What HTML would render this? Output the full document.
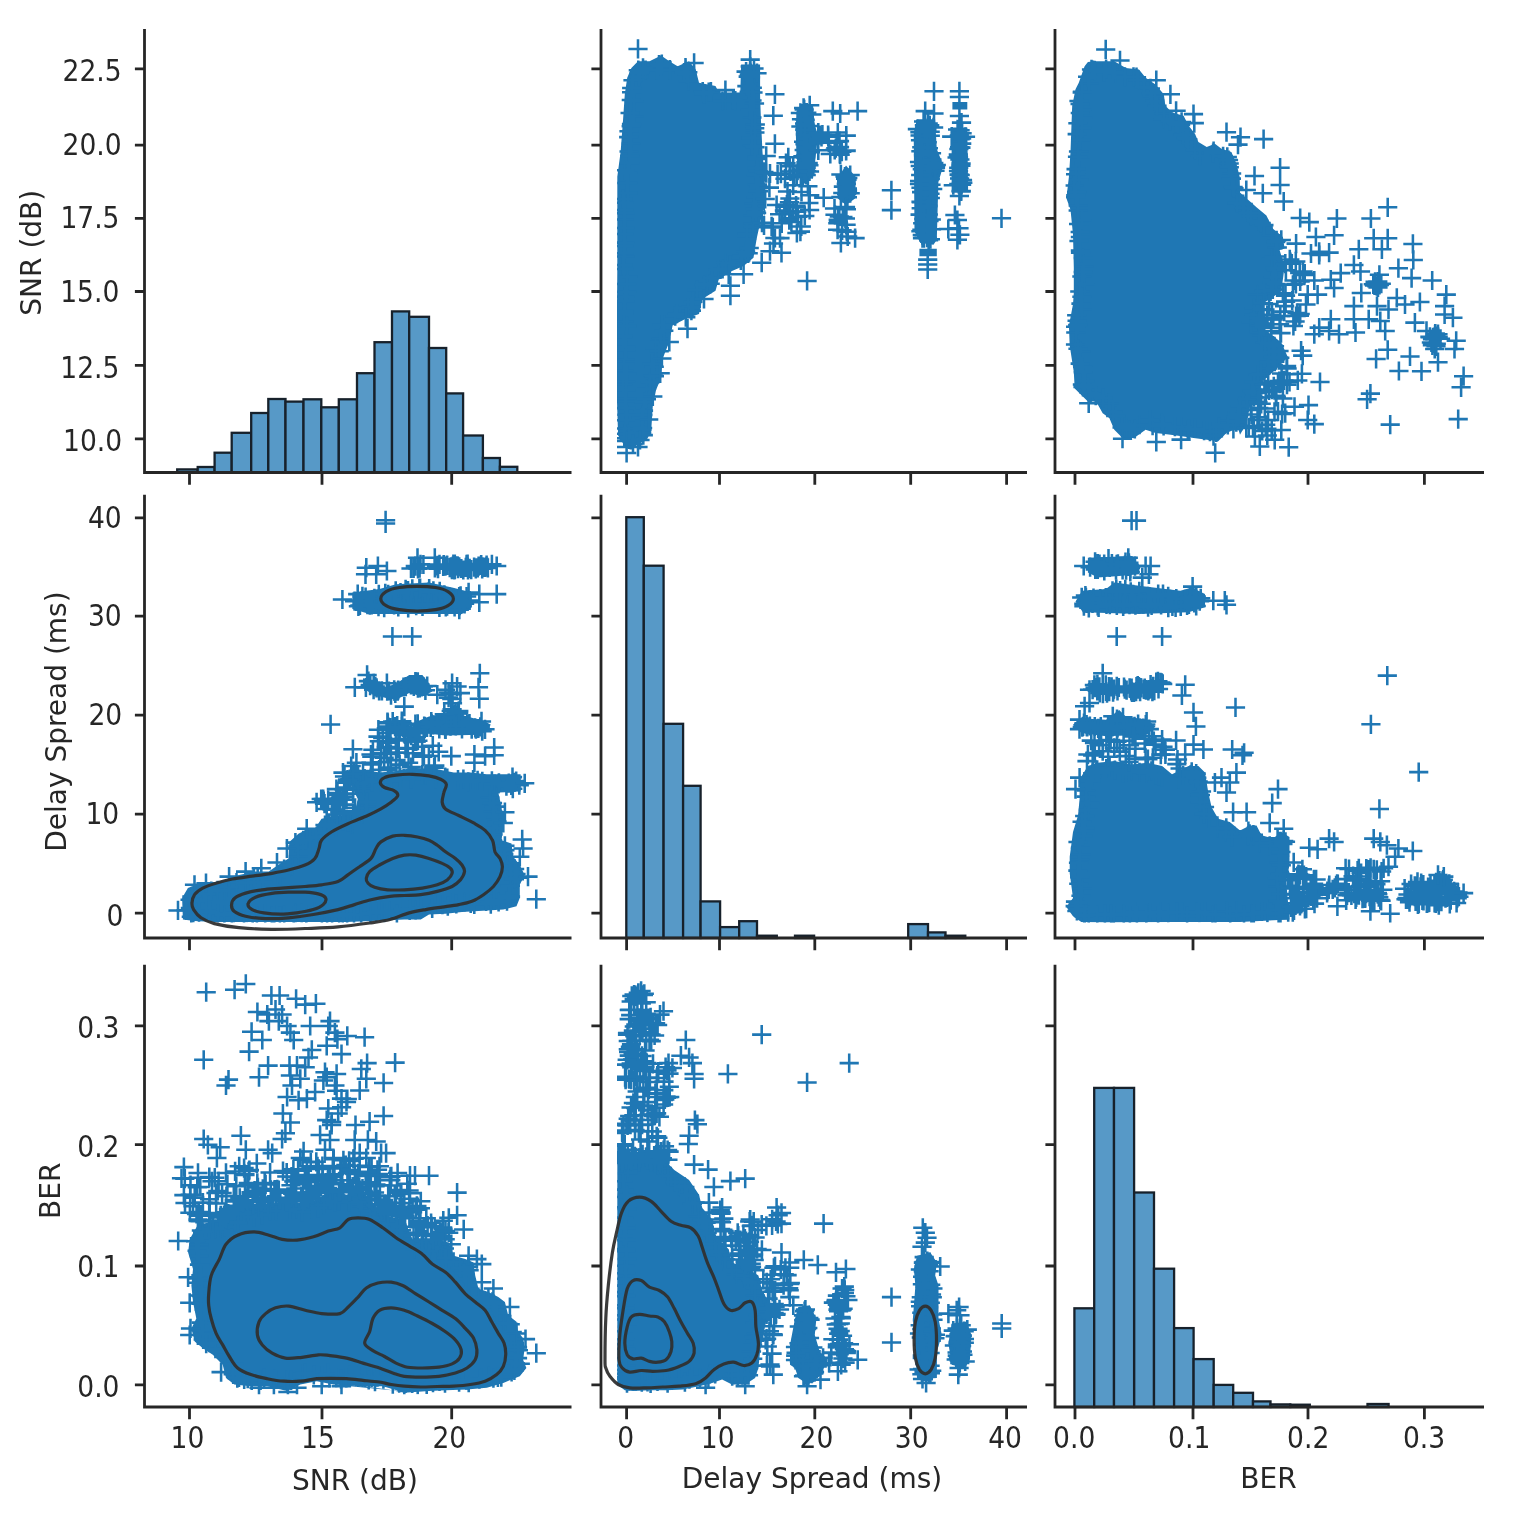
<!DOCTYPE html>
<html lang="en"><head><meta charset="utf-8"><title>Pairplot: SNR, Delay Spread, BER</title>
<style>
html,body{margin:0;padding:0;background:#fff;}
body{width:1517px;height:1515px;overflow:hidden;}
svg{display:block;filter:blur(0.6px);}
svg text{font-family:"DejaVu Sans","Liberation Sans",sans-serif;font-size:28px;fill:#262626;}
svg text.t{font-family:"DejaVu Sans Condensed","DejaVu Sans","Liberation Sans",sans-serif;font-size:29.5px;}
</style></head><body>
<svg width="1517" height="1515" viewBox="0 0 1517 1515">
<rect width="1517" height="1515" fill="#fff"/>
<g>
<rect x="177.2" y="469.4" width="20.5" height="3.1" fill="#5799c7" stroke="#17212b" stroke-width="2.3"/>
<rect x="197.7" y="467.0" width="16.9" height="5.5" fill="#5799c7" stroke="#17212b" stroke-width="2.3"/>
<rect x="214.6" y="452.7" width="17.1" height="19.8" fill="#5799c7" stroke="#17212b" stroke-width="2.3"/>
<rect x="231.7" y="432.8" width="19.5" height="39.7" fill="#5799c7" stroke="#17212b" stroke-width="2.3"/>
<rect x="251.2" y="413.0" width="17.1" height="59.5" fill="#5799c7" stroke="#17212b" stroke-width="2.3"/>
<rect x="268.3" y="399.0" width="17.2" height="73.5" fill="#5799c7" stroke="#17212b" stroke-width="2.3"/>
<rect x="285.5" y="401.6" width="18.0" height="70.9" fill="#5799c7" stroke="#17212b" stroke-width="2.3"/>
<rect x="303.5" y="399.3" width="17.8" height="73.2" fill="#5799c7" stroke="#17212b" stroke-width="2.3"/>
<rect x="321.3" y="407.3" width="17.5" height="65.2" fill="#5799c7" stroke="#17212b" stroke-width="2.3"/>
<rect x="338.8" y="399.3" width="18.2" height="73.2" fill="#5799c7" stroke="#17212b" stroke-width="2.3"/>
<rect x="357.0" y="373.2" width="17.5" height="99.3" fill="#5799c7" stroke="#17212b" stroke-width="2.3"/>
<rect x="374.5" y="342.2" width="17.5" height="130.3" fill="#5799c7" stroke="#17212b" stroke-width="2.3"/>
<rect x="392.0" y="311.4" width="17.2" height="161.1" fill="#5799c7" stroke="#17212b" stroke-width="2.3"/>
<rect x="409.2" y="316.8" width="19.8" height="155.7" fill="#5799c7" stroke="#17212b" stroke-width="2.3"/>
<rect x="429.0" y="348.0" width="17.2" height="124.5" fill="#5799c7" stroke="#17212b" stroke-width="2.3"/>
<rect x="446.2" y="393.4" width="16.9" height="79.1" fill="#5799c7" stroke="#17212b" stroke-width="2.3"/>
<rect x="463.1" y="435.5" width="19.8" height="37.0" fill="#5799c7" stroke="#17212b" stroke-width="2.3"/>
<rect x="482.9" y="458.0" width="17.0" height="14.5" fill="#5799c7" stroke="#17212b" stroke-width="2.3"/>
<rect x="499.9" y="466.8" width="17.4" height="5.7" fill="#5799c7" stroke="#17212b" stroke-width="2.3"/>
</g>
<g>
<rect x="626.3" y="517.2" width="17.5" height="420.8" fill="#5799c7" stroke="#17212b" stroke-width="2.3"/>
<rect x="643.8" y="565.7" width="19.8" height="372.3" fill="#5799c7" stroke="#17212b" stroke-width="2.3"/>
<rect x="663.6" y="723.8" width="19.5" height="214.2" fill="#5799c7" stroke="#17212b" stroke-width="2.3"/>
<rect x="683.1" y="785.8" width="17.5" height="152.2" fill="#5799c7" stroke="#17212b" stroke-width="2.3"/>
<rect x="700.6" y="901.4" width="19.5" height="36.6" fill="#5799c7" stroke="#17212b" stroke-width="2.3"/>
<rect x="720.1" y="927.1" width="19.1" height="10.9" fill="#5799c7" stroke="#17212b" stroke-width="2.3"/>
<rect x="739.2" y="921.2" width="17.8" height="16.8" fill="#5799c7" stroke="#17212b" stroke-width="2.3"/>
<rect x="757.0" y="935.7" width="19.8" height="2.3" fill="#5799c7" stroke="#17212b" stroke-width="2.3"/>
<rect x="795.0" y="935.7" width="19.1" height="2.3" fill="#5799c7" stroke="#17212b" stroke-width="2.3"/>
<rect x="908.2" y="924.1" width="19.8" height="13.9" fill="#5799c7" stroke="#17212b" stroke-width="2.3"/>
<rect x="928.0" y="932.4" width="17.5" height="5.6" fill="#5799c7" stroke="#17212b" stroke-width="2.3"/>
<rect x="945.5" y="935.7" width="19.8" height="2.3" fill="#5799c7" stroke="#17212b" stroke-width="2.3"/>
</g>
<g>
<rect x="1074.4" y="1308.3" width="19.8" height="98.7" fill="#5799c7" stroke="#17212b" stroke-width="2.3"/>
<rect x="1094.2" y="1087.9" width="19.8" height="319.1" fill="#5799c7" stroke="#17212b" stroke-width="2.3"/>
<rect x="1114.0" y="1087.9" width="20.1" height="319.1" fill="#5799c7" stroke="#17212b" stroke-width="2.3"/>
<rect x="1134.2" y="1192.5" width="19.8" height="214.5" fill="#5799c7" stroke="#17212b" stroke-width="2.3"/>
<rect x="1154.0" y="1268.7" width="20.1" height="138.3" fill="#5799c7" stroke="#17212b" stroke-width="2.3"/>
<rect x="1174.1" y="1328.1" width="19.5" height="78.9" fill="#5799c7" stroke="#17212b" stroke-width="2.3"/>
<rect x="1193.6" y="1359.1" width="20.1" height="47.9" fill="#5799c7" stroke="#17212b" stroke-width="2.3"/>
<rect x="1213.7" y="1384.9" width="19.5" height="22.1" fill="#5799c7" stroke="#17212b" stroke-width="2.3"/>
<rect x="1233.2" y="1392.8" width="19.8" height="14.2" fill="#5799c7" stroke="#17212b" stroke-width="2.3"/>
<rect x="1253.0" y="1401.4" width="17.5" height="5.6" fill="#5799c7" stroke="#17212b" stroke-width="2.3"/>
<rect x="1270.5" y="1404.4" width="19.8" height="2.6" fill="#5799c7" stroke="#17212b" stroke-width="2.3"/>
<rect x="1290.3" y="1404.7" width="19.5" height="2.3" fill="#5799c7" stroke="#17212b" stroke-width="2.3"/>
<rect x="1367.5" y="1404.0" width="21.1" height="3.0" fill="#5799c7" stroke="#17212b" stroke-width="2.3"/>
</g>
<clipPath id="cp01"><rect x="617.0" y="-2.0" width="440.0" height="504.5"/></clipPath>
<g clip-path="url(#cp01)">
<path d="M617.3 267.5L617.3 176.8L620.6 152.0L623.1 119.0L624.8 94.3L627.2 77.8L631.4 67.9L638.0 61.3L649.5 61.3L661.1 55.5L669.3 61.3L677.6 66.2L689.1 61.3L695.7 69.5L699.0 82.7L715.5 86.0L718.8 92.6L740.3 92.6L741.1 64.6L760.1 64.6L760.1 95.9L760.9 119.0L762.5 152.0L765.0 185.0L765.0 218.0L763.4 208.3L756.8 238.0L753.5 257.8L743.6 266.0L732.0 271.0L718.8 279.2L715.5 290.8L702.3 299.0L699.0 313.9L685.8 318.8L672.6 325.4L669.3 341.9L662.7 358.4L661.1 378.2L656.1 389.8L652.8 406.3L651.2 431.0L646.2 440.9L646.5 440.6L635.9 443.9L626.0 448.2L618.1 435.6L616.8 396.0L616.8 330.0Z" fill="#1f77b4" stroke="#1f77b4" stroke-width="0" stroke-linejoin="round"/>
<path d="M613.5 265.0h19.2M623.1 255.4v19.2M615.0 256.5h19.2M624.6 246.9v19.2M614.4 253.2h19.2M624.0 243.6v19.2M614.3 245.9h19.2M623.9 236.3v19.2M615.7 242.6h19.2M625.3 233.0v19.2M614.3 233.9h19.2M623.9 224.3v19.2M615.3 227.9h19.2M624.9 218.3v19.2M613.9 219.4h19.2M623.5 209.8v19.2M615.6 213.2h19.2M625.2 203.6v19.2M614.2 210.0h19.2M623.8 200.4v19.2M614.4 202.7h19.2M624.0 193.1v19.2M613.5 198.9h19.2M623.1 189.3v19.2M618.5 192.9h19.2M628.1 183.3v19.2M617.3 182.9h19.2M626.9 173.3v19.2M618.3 182.8h19.2M627.9 173.2v19.2M618.1 172.7h19.2M627.7 163.1v19.2M614.9 170.3h19.2M624.5 160.7v19.2M619.9 163.2h19.2M629.5 153.6v19.2M620.1 155.9h19.2M629.7 146.3v19.2M619.5 151.4h19.2M629.1 141.8v19.2M621.7 143.4h19.2M631.3 133.8v19.2M619.1 137.1h19.2M628.7 127.5v19.2M619.4 131.2h19.2M629.0 121.6v19.2M621.6 126.2h19.2M631.2 116.6v19.2M621.9 124.1h19.2M631.5 114.5v19.2M624.4 116.5h19.2M634.0 106.9v19.2M620.5 113.0h19.2M630.1 103.4v19.2M624.7 101.2h19.2M634.3 91.6v19.2M621.7 100.0h19.2M631.3 90.4v19.2M622.0 92.3h19.2M631.6 82.7v19.2M622.1 87.9h19.2M631.7 78.3v19.2M623.4 80.2h19.2M633.0 70.6v19.2M629.4 76.9h19.2M639.0 67.3v19.2M630.3 72.6h19.2M639.9 63.0v19.2M629.5 73.2h19.2M639.1 63.6v19.2M633.4 67.8h19.2M643.0 58.2v19.2M628.7 70.2h19.2M638.3 60.6v19.2M636.0 70.1h19.2M645.6 60.5v19.2M647.1 69.6h19.2M656.7 60.0v19.2M651.2 66.5h19.2M660.8 56.9v19.2M649.4 64.5h19.2M659.0 54.9v19.2M652.2 64.0h19.2M661.8 54.4v19.2M660.1 69.6h19.2M669.7 60.0v19.2M660.8 70.3h19.2M670.4 60.7v19.2M674.4 72.6h19.2M684.0 63.0v19.2M676.0 69.0h19.2M685.6 59.4v19.2M675.9 67.5h19.2M685.5 57.9v19.2M677.1 74.0h19.2M686.7 64.4v19.2M678.2 72.2h19.2M687.8 62.6v19.2M678.9 81.2h19.2M688.5 71.6v19.2M693.1 91.5h19.2M702.7 81.9v19.2M694.2 94.1h19.2M703.8 84.5v19.2M699.1 92.2h19.2M708.7 82.6v19.2M701.3 91.6h19.2M710.9 82.0v19.2M712.9 101.0h19.2M722.5 91.4v19.2M715.9 100.5h19.2M725.5 90.9v19.2M723.6 100.0h19.2M733.2 90.4v19.2M725.7 100.7h19.2M735.3 91.1v19.2M739.6 91.8h19.2M749.2 82.2v19.2M737.3 86.1h19.2M746.9 76.5v19.2M738.6 76.6h19.2M748.2 67.0v19.2M739.7 74.4h19.2M749.3 64.8v19.2M740.6 66.5h19.2M750.2 56.9v19.2M736.5 71.6h19.2M746.1 62.0v19.2M740.5 72.1h19.2M750.1 62.5v19.2M747.4 73.2h19.2M757.0 63.6v19.2M744.4 68.5h19.2M754.0 58.9v19.2M741.1 73.2h19.2M750.7 63.6v19.2M740.9 77.3h19.2M750.5 67.7v19.2M742.7 87.7h19.2M752.3 78.1v19.2M743.4 92.5h19.2M753.0 82.9v19.2M742.4 100.5h19.2M752.0 90.9v19.2M744.9 103.4h19.2M754.5 93.8v19.2M740.5 109.8h19.2M750.1 100.2v19.2M742.3 117.5h19.2M751.9 107.9v19.2M745.7 124.4h19.2M755.3 114.8v19.2M745.1 128.2h19.2M754.7 118.6v19.2M745.3 132.5h19.2M754.9 122.9v19.2M741.8 138.0h19.2M751.4 128.4v19.2M742.5 145.5h19.2M752.1 135.9v19.2M745.4 147.3h19.2M755.0 137.7v19.2M747.4 156.8h19.2M757.0 147.2v19.2M747.3 159.0h19.2M756.9 149.4v19.2M747.2 168.0h19.2M756.8 158.4v19.2M748.6 171.3h19.2M758.2 161.7v19.2M746.3 175.3h19.2M755.9 165.7v19.2M747.9 184.4h19.2M757.5 174.8v19.2M749.5 186.8h19.2M759.1 177.2v19.2M748.9 191.1h19.2M758.5 181.5v19.2M746.8 197.2h19.2M756.4 187.6v19.2M744.6 203.5h19.2M754.2 193.9v19.2M745.3 208.6h19.2M754.9 199.0v19.2M747.0 213.0h19.2M756.6 203.4v19.2M746.4 211.5h19.2M756.0 201.9v19.2M743.2 215.4h19.2M752.8 205.8v19.2M743.7 223.4h19.2M753.3 213.8v19.2M743.6 227.3h19.2M753.2 217.7v19.2M737.6 233.7h19.2M747.2 224.1v19.2M737.0 238.7h19.2M746.6 229.1v19.2M739.6 247.9h19.2M749.2 238.3v19.2M738.6 253.3h19.2M748.2 243.7v19.2M736.0 251.5h19.2M745.6 241.9v19.2M732.8 255.8h19.2M742.4 246.2v19.2M731.2 260.4h19.2M740.8 250.8v19.2M720.2 265.1h19.2M729.8 255.5v19.2M716.0 262.5h19.2M725.6 252.9v19.2M713.0 268.8h19.2M722.6 259.2v19.2M708.8 269.7h19.2M718.4 260.1v19.2M702.5 277.7h19.2M712.1 268.1v19.2M698.0 283.6h19.2M707.6 274.0v19.2M700.6 283.8h19.2M710.2 274.2v19.2M694.7 285.0h19.2M704.3 275.4v19.2M687.2 290.1h19.2M696.8 280.5v19.2M683.3 301.6h19.2M692.9 292.0v19.2M681.8 306.6h19.2M691.4 297.0v19.2M681.1 307.6h19.2M690.7 298.0v19.2M681.8 310.6h19.2M691.4 301.0v19.2M678.1 307.7h19.2M687.7 298.1v19.2M667.3 313.6h19.2M676.9 304.0v19.2M665.6 316.2h19.2M675.2 306.6v19.2M652.2 324.6h19.2M661.8 315.0v19.2M654.2 330.7h19.2M663.8 321.1v19.2M651.1 338.4h19.2M660.7 328.8v19.2M650.0 341.6h19.2M659.6 332.0v19.2M645.9 348.3h19.2M655.5 338.7v19.2M649.6 351.3h19.2M659.2 341.7v19.2M642.2 363.6h19.2M651.8 354.0v19.2M644.6 366.8h19.2M654.2 357.2v19.2M643.8 375.5h19.2M653.4 365.9v19.2M644.8 376.1h19.2M654.4 366.5v19.2M640.3 382.3h19.2M649.9 372.7v19.2M637.0 388.8h19.2M646.6 379.2v19.2M636.8 399.1h19.2M646.4 389.5v19.2M634.8 402.1h19.2M644.4 392.5v19.2M633.9 410.6h19.2M643.5 401.0v19.2M633.2 415.0h19.2M642.8 405.4v19.2M631.8 418.1h19.2M641.4 408.5v19.2M632.3 429.8h19.2M641.9 420.2v19.2M633.0 428.0h19.2M642.6 418.4v19.2M632.1 432.6h19.2M641.7 423.0v19.2M633.7 435.1h19.2M643.3 425.5v19.2M625.3 436.9h19.2M634.9 427.3v19.2M621.2 439.8h19.2M630.8 430.2v19.2M614.7 438.3h19.2M624.3 428.7v19.2M619.6 439.3h19.2M629.2 429.7v19.2M619.4 436.4h19.2M629.0 426.8v19.2M615.6 433.7h19.2M625.2 424.1v19.2M616.0 428.5h19.2M625.6 418.9v19.2M615.8 420.2h19.2M625.4 410.6v19.2M617.3 414.7h19.2M626.9 405.1v19.2M616.2 408.1h19.2M625.8 398.5v19.2M615.7 401.5h19.2M625.3 391.9v19.2M616.4 398.4h19.2M626.0 388.8v19.2M616.5 390.2h19.2M626.1 380.6v19.2M613.7 384.5h19.2M623.3 374.9v19.2M616.5 381.5h19.2M626.1 371.9v19.2M617.2 373.6h19.2M626.8 364.0v19.2M614.5 370.4h19.2M624.1 360.8v19.2M614.9 363.6h19.2M624.5 354.0v19.2M614.9 359.5h19.2M624.5 349.9v19.2M616.7 350.2h19.2M626.3 340.6v19.2M616.1 346.7h19.2M625.7 337.1v19.2M613.7 337.5h19.2M623.3 327.9v19.2M613.7 335.9h19.2M623.3 326.3v19.2M617.7 325.9h19.2M627.3 316.3v19.2M614.6 321.4h19.2M624.2 311.8v19.2M614.7 313.7h19.2M624.3 304.1v19.2M614.3 311.1h19.2M623.9 301.5v19.2M615.5 301.3h19.2M625.1 291.7v19.2M615.2 296.7h19.2M624.8 287.1v19.2M617.2 291.8h19.2M626.8 282.2v19.2M616.9 284.0h19.2M626.5 274.4v19.2M618.0 276.6h19.2M627.6 267.0v19.2M614.1 268.9h19.2M623.7 259.3v19.2" fill="none" stroke="#1f77b4" stroke-width="2.55"/>
<path d="M628.4 48.9h19.2M638.0 39.3v19.2M684.5 62.9h19.2M694.1 53.3v19.2M740.6 59.6h19.2M750.2 50.0v19.2M765.3 94.3h19.2M774.9 84.7v19.2M763.7 115.7h19.2M773.3 106.1v19.2M765.3 143.8h19.2M774.9 134.2v19.2M760.4 173.5h19.2M770.0 163.9v19.2M715.8 90.1h19.2M725.4 80.5v19.2" fill="none" stroke="#1f77b4" stroke-width="2.55"/>
<path d="M791.2 176.8h19.2M800.8 167.2v19.2M777.3 204.7h19.2M786.9 195.1v19.2M795.2 215.9h19.2M804.8 206.3v19.2M798.3 186.3h19.2M807.9 176.7v19.2M754.3 171.9h19.2M763.9 162.3v19.2M787.3 233.0h19.2M796.9 223.4v19.2M752.4 222.7h19.2M762.0 213.1v19.2M781.8 222.0h19.2M791.4 212.4v19.2M755.6 199.0h19.2M765.2 189.4v19.2M784.8 177.3h19.2M794.4 167.7v19.2M754.4 225.5h19.2M764.0 215.9v19.2M786.5 205.7h19.2M796.1 196.1v19.2M756.7 173.1h19.2M766.3 163.5v19.2M763.9 243.5h19.2M773.5 233.9v19.2M793.3 177.0h19.2M802.9 167.4v19.2M756.6 155.9h19.2M766.2 146.3v19.2M770.0 214.2h19.2M779.6 204.6v19.2M786.6 207.4h19.2M796.2 197.8v19.2M776.4 163.2h19.2M786.0 153.6v19.2M790.8 231.6h19.2M800.4 222.0v19.2M768.0 174.7h19.2M777.6 165.1v19.2M759.8 187.6h19.2M769.4 178.0v19.2M775.3 211.2h19.2M784.9 201.6v19.2M780.1 166.2h19.2M789.7 156.6v19.2M787.2 211.6h19.2M796.8 202.0v19.2M763.2 227.4h19.2M772.8 217.8v19.2M777.9 191.5h19.2M787.5 181.9v19.2M771.3 173.7h19.2M780.9 164.1v19.2" fill="none" stroke="#1f77b4" stroke-width="2.55"/>
<path d="M797.5 280.9h19.2M807.1 271.3v19.2M720.8 295.7h19.2M730.4 286.1v19.2M720.8 285.8h19.2M730.4 276.2v19.2M719.1 274.3h19.2M728.7 264.7v19.2M734.0 274.3h19.2M743.6 264.7v19.2M752.1 262.7h19.2M761.7 253.1v19.2M760.4 251.2h19.2M770.0 241.6v19.2M771.9 252.8h19.2M781.5 243.2v19.2M765.3 238.0h19.2M774.9 228.4v19.2M762.0 226.4h19.2M771.6 216.8v19.2M791.7 226.4h19.2M801.3 216.8v19.2M780.2 213.2h19.2M789.8 203.6v19.2M767.0 205.0h19.2M776.6 195.4v19.2M800.0 209.9h19.2M809.6 200.3v19.2M677.9 328.7h19.2M687.5 319.1v19.2M676.2 317.2h19.2M685.8 307.6v19.2M694.4 299.0h19.2M704.0 289.4v19.2M659.7 341.9h19.2M669.3 332.3v19.2M652.3 358.4h19.2M661.9 348.8v19.2M650.6 373.3h19.2M660.2 363.7v19.2M643.2 396.4h19.2M652.8 386.8v19.2M831.3 242.9h19.2M840.9 233.3v19.2M828.0 229.7h19.2M837.6 220.1v19.2M829.7 216.5h19.2M839.3 206.9v19.2M639.1 419.5h19.2M648.7 409.9v19.2" fill="none" stroke="#1f77b4" stroke-width="2.55"/>
<path d="M991.9 218.3h19.2M1001.5 208.7v19.2M881.8 190.3h19.2M891.4 180.7v19.2M881.8 210.1h19.2M891.4 200.5v19.2M924.4 91.3h19.2M934.0 81.7v19.2M949.8 91.3h19.2M959.4 81.7v19.2M949.8 97.0h19.2M959.4 87.4v19.2M848.0 111.1h19.2M857.6 101.5v19.2M823.2 111.1h19.2M832.8 101.5v19.2M830.6 113.5h19.2M840.2 103.9v19.2M800.1 105.3h19.2M809.7 95.7v19.2M918.1 264.5h19.2M927.7 254.9v19.2M918.1 269.5h19.2M927.7 259.9v19.2M918.1 259.6h19.2M927.7 250.0v19.2M915.6 111.1h19.2M925.2 101.5v19.2M924.4 113.5h19.2M934.0 103.9v19.2M949.8 116.0h19.2M959.4 106.4v19.2M951.9 122.6h19.2M961.5 113.0v19.2M949.8 196.0h19.2M959.4 186.4v19.2M947.8 220.0h19.2M957.4 210.4v19.2M949.4 228.2h19.2M959.0 218.6v19.2M947.8 239.8h19.2M957.4 230.2v19.2M938.7 229.0h19.2M948.3 219.4v19.2M945.3 215.0h19.2M954.9 205.4v19.2M950.3 234.8h19.2M959.9 225.2v19.2M824.9 208.4h19.2M834.5 198.8v19.2M828.2 223.3h19.2M837.8 213.7v19.2M838.1 236.5h19.2M847.7 226.9v19.2M845.5 238.1h19.2M855.1 228.5v19.2M828.2 132.5h19.2M837.8 122.9v19.2M778.7 157.3h19.2M788.3 147.7v19.2M783.6 165.5h19.2M793.2 155.9v19.2M775.4 178.7h19.2M785.0 169.1v19.2M783.6 185.3h19.2M793.2 175.7v19.2M791.9 191.9h19.2M801.5 182.3v19.2M800.1 195.2h19.2M809.7 185.6v19.2M780.3 198.5h19.2M789.9 188.9v19.2M775.4 206.8h19.2M785.0 197.2v19.2M783.6 211.7h19.2M793.2 202.1v19.2M780.3 218.3h19.2M789.9 208.7v19.2M772.1 223.3h19.2M781.7 213.7v19.2M814.1 197.7h19.2M823.7 188.1v19.2M770.4 238.1h19.2M780.0 228.5v19.2" fill="none" stroke="#1f77b4" stroke-width="2.55"/>
<path d="M917.0 119.3L935.1 119.3L936.8 149.0L943.4 165.5L938.4 182.0L936.8 239.8L933.5 244.7L920.3 243.1L914.5 231.5L913.7 132.5Z" fill="#1f77b4" stroke="#1f77b4" stroke-width="0" stroke-linejoin="round"/>
<path d="M907.8 129.1h19.2M917.4 119.5v19.2M914.8 125.2h19.2M924.4 115.6v19.2M920.1 125.3h19.2M929.7 115.7v19.2M924.0 127.4h19.2M933.6 117.8v19.2M918.6 123.6h19.2M928.2 114.0v19.2M917.3 129.5h19.2M926.9 119.9v19.2M920.6 131.7h19.2M930.2 122.1v19.2M920.7 135.8h19.2M930.3 126.2v19.2M917.6 142.2h19.2M927.2 132.6v19.2M918.8 148.2h19.2M928.4 138.6v19.2M921.9 153.2h19.2M931.5 143.6v19.2M922.3 159.6h19.2M931.9 150.0v19.2M924.2 162.9h19.2M933.8 153.3v19.2M925.9 167.6h19.2M935.5 158.0v19.2M926.7 165.0h19.2M936.3 155.4v19.2M925.4 170.8h19.2M935.0 161.2v19.2M920.7 179.0h19.2M930.3 169.4v19.2M921.4 184.8h19.2M931.0 175.2v19.2M923.1 189.0h19.2M932.7 179.4v19.2M920.4 193.7h19.2M930.0 184.1v19.2M920.7 197.9h19.2M930.3 188.3v19.2M918.4 205.8h19.2M928.0 196.2v19.2M918.2 206.2h19.2M927.8 196.6v19.2M918.7 214.5h19.2M928.3 204.9v19.2M921.7 219.4h19.2M931.3 209.8v19.2M919.4 220.9h19.2M929.0 211.3v19.2M921.9 229.2h19.2M931.5 219.6v19.2M917.5 229.9h19.2M927.1 220.3v19.2M920.8 239.2h19.2M930.4 229.6v19.2M919.0 240.2h19.2M928.6 230.6v19.2M920.8 239.2h19.2M930.4 229.6v19.2M917.6 237.7h19.2M927.2 228.1v19.2M912.9 238.2h19.2M922.5 228.6v19.2M914.4 238.1h19.2M924.0 228.5v19.2M912.7 235.1h19.2M922.3 225.5v19.2M911.3 231.3h19.2M920.9 221.7v19.2M912.3 229.8h19.2M921.9 220.2v19.2M913.1 223.2h19.2M922.7 213.6v19.2M914.2 218.9h19.2M923.8 209.3v19.2M910.5 214.6h19.2M920.1 205.0v19.2M911.6 208.3h19.2M921.2 198.7v19.2M911.7 202.1h19.2M921.3 192.5v19.2M911.4 201.7h19.2M921.0 192.1v19.2M912.0 192.1h19.2M921.6 182.5v19.2M911.4 187.8h19.2M921.0 178.2v19.2M909.9 183.9h19.2M919.5 174.3v19.2M910.0 181.0h19.2M919.6 171.4v19.2M911.1 175.0h19.2M920.7 165.4v19.2M912.7 169.3h19.2M922.3 159.7v19.2M910.7 165.9h19.2M920.3 156.3v19.2M909.9 162.0h19.2M919.5 152.4v19.2M913.9 155.3h19.2M923.5 145.7v19.2M911.3 151.3h19.2M920.9 141.7v19.2M912.2 147.2h19.2M921.8 137.6v19.2M910.9 140.3h19.2M920.5 130.7v19.2M910.5 135.5h19.2M920.1 125.9v19.2M910.3 132.2h19.2M919.9 122.6v19.2M915.5 127.4h19.2M925.1 117.8v19.2M914.0 121.4h19.2M923.6 111.8v19.2" fill="none" stroke="#1f77b4" stroke-width="2.55"/>
<path d="M919.4 248.8L936.8 248.8L936.8 256.3L919.4 256.3Z" fill="#1f77b4" stroke="#1f77b4" stroke-width="0" stroke-linejoin="round"/>
<path d="M952.4 102.0L967.3 102.0L967.3 109.4L952.4 109.4Z" fill="#1f77b4" stroke="#1f77b4" stroke-width="0" stroke-linejoin="round"/>
<path d="M951.6 127.6L967.3 127.6L968.1 191.9L951.6 191.9Z" fill="#1f77b4" stroke="#1f77b4" stroke-width="0" stroke-linejoin="round"/>
<path d="M942.1 136.6h19.2M951.7 127.0v19.2M949.7 135.4h19.2M959.3 125.8v19.2M955.9 136.8h19.2M965.5 127.2v19.2M950.5 130.2h19.2M960.1 120.6v19.2M952.5 133.2h19.2M962.1 123.6v19.2M952.0 138.4h19.2M961.6 128.8v19.2M950.0 147.2h19.2M959.6 137.6v19.2M951.3 147.6h19.2M960.9 138.0v19.2M948.7 154.5h19.2M958.3 144.9v19.2M950.3 159.4h19.2M959.9 149.8v19.2M951.5 163.6h19.2M961.1 154.0v19.2M949.1 167.7h19.2M958.7 158.1v19.2M949.5 174.6h19.2M959.1 165.0v19.2M952.9 180.0h19.2M962.5 170.4v19.2M951.7 183.4h19.2M961.3 173.8v19.2M951.7 190.9h19.2M961.3 181.3v19.2M953.2 182.8h19.2M962.8 173.2v19.2M949.2 184.1h19.2M958.8 174.5v19.2M943.7 185.2h19.2M953.3 175.6v19.2M951.5 191.4h19.2M961.1 181.8v19.2M952.0 184.7h19.2M961.6 175.1v19.2M950.0 178.4h19.2M959.6 168.8v19.2M950.6 174.9h19.2M960.2 165.3v19.2M948.9 170.9h19.2M958.5 161.3v19.2M951.3 165.6h19.2M960.9 156.0v19.2M947.5 157.5h19.2M957.1 147.9v19.2M948.9 157.1h19.2M958.5 147.5v19.2M949.3 148.9h19.2M958.9 139.3v19.2M952.1 143.6h19.2M961.7 134.0v19.2M950.5 139.1h19.2M960.1 129.5v19.2M950.1 136.8h19.2M959.7 127.2v19.2M948.0 129.4h19.2M957.6 119.8v19.2" fill="none" stroke="#1f77b4" stroke-width="2.55"/>
<path d="M801.5 104.5L813.0 106.1L814.7 124.3L818.0 135.8L814.7 165.5L813.0 178.7L799.8 177.1L796.5 157.3L795.7 129.2L796.5 111.1Z" fill="#1f77b4" stroke="#1f77b4" stroke-width="0" stroke-linejoin="round"/>
<path d="M790.8 112.9h19.2M800.4 103.3v19.2M802.2 114.4h19.2M811.8 104.8v19.2M794.0 107.9h19.2M803.6 98.3v19.2M797.2 112.7h19.2M806.8 103.1v19.2M795.5 119.7h19.2M805.1 110.1v19.2M795.5 124.8h19.2M805.1 115.2v19.2M799.1 126.0h19.2M808.7 116.4v19.2M801.7 135.1h19.2M811.3 125.5v19.2M799.1 139.0h19.2M808.7 129.4v19.2M797.5 143.4h19.2M807.1 133.8v19.2M796.9 148.1h19.2M806.5 138.5v19.2M800.8 152.3h19.2M810.4 142.7v19.2M796.0 157.1h19.2M805.6 147.5v19.2M798.6 162.9h19.2M808.2 153.3v19.2M799.3 165.2h19.2M808.9 155.6v19.2M795.8 169.4h19.2M805.4 159.8v19.2M796.6 174.9h19.2M806.2 165.3v19.2M799.9 171.5h19.2M809.5 161.9v19.2M797.0 171.0h19.2M806.6 161.4v19.2M793.8 170.2h19.2M803.4 160.6v19.2M795.4 173.9h19.2M805.0 164.3v19.2M796.6 167.6h19.2M806.2 158.0v19.2M798.4 165.0h19.2M808.0 155.4v19.2M793.3 156.3h19.2M802.9 146.7v19.2M795.9 155.4h19.2M805.5 145.8v19.2M794.6 150.0h19.2M804.2 140.4v19.2M795.4 144.1h19.2M805.0 134.5v19.2M794.0 141.8h19.2M803.6 132.2v19.2M795.8 134.5h19.2M805.4 124.9v19.2M795.2 129.6h19.2M804.8 120.0v19.2M791.3 126.5h19.2M800.9 116.9v19.2M795.0 123.4h19.2M804.6 113.8v19.2M791.9 119.3h19.2M801.5 109.7v19.2M795.8 113.3h19.2M805.4 103.7v19.2M796.4 113.0h19.2M806.0 103.4v19.2M794.6 109.4h19.2M804.2 99.8v19.2" fill="none" stroke="#1f77b4" stroke-width="2.55"/>
<path d="M846.0 165.5L855.9 177.1L855.1 198.5L846.0 205.1L837.8 198.5L836.9 178.7Z" fill="#1f77b4" stroke="#1f77b4" stroke-width="0" stroke-linejoin="round"/>
<path d="M831.3 174.4h19.2M840.9 164.8v19.2M835.4 176.5h19.2M845.0 166.9v19.2M838.2 177.9h19.2M847.8 168.3v19.2M837.0 179.9h19.2M846.6 170.3v19.2M836.7 183.8h19.2M846.3 174.2v19.2M837.9 190.6h19.2M847.5 181.0v19.2M837.0 193.9h19.2M846.6 184.3v19.2M840.6 193.2h19.2M850.2 183.6v19.2M831.3 197.0h19.2M840.9 187.4v19.2M836.3 197.3h19.2M845.9 187.7v19.2M833.2 193.0h19.2M842.8 183.4v19.2M837.8 197.3h19.2M847.4 187.7v19.2M837.8 188.4h19.2M847.4 178.8v19.2M833.8 186.6h19.2M843.4 177.0v19.2M836.0 178.7h19.2M845.6 169.1v19.2M837.4 179.6h19.2M847.0 170.0v19.2M840.6 175.0h19.2M850.2 165.4v19.2" fill="none" stroke="#1f77b4" stroke-width="2.55"/>
<path d="M826.2 148.2h19.2M835.8 138.6v19.2M808.7 139.3h19.2M818.3 129.7v19.2M818.7 136.8h19.2M828.3 127.2v19.2M811.9 136.8h19.2M821.5 127.2v19.2M836.7 135.6h19.2M846.3 126.0v19.2M808.7 150.3h19.2M818.3 140.7v19.2M812.8 134.7h19.2M822.4 125.1v19.2M827.1 141.7h19.2M836.7 132.1v19.2M830.6 154.7h19.2M840.2 145.1v19.2M810.2 135.1h19.2M819.8 125.5v19.2M825.1 149.9h19.2M834.7 140.3v19.2M836.5 150.9h19.2M846.1 141.3v19.2M829.9 147.1h19.2M839.5 137.5v19.2M829.9 141.1h19.2M839.5 131.5v19.2M830.2 154.0h19.2M839.8 144.4v19.2M836.6 150.6h19.2M846.2 141.0v19.2M819.2 142.7h19.2M828.8 133.1v19.2M818.5 135.1h19.2M828.1 125.5v19.2M820.7 154.0h19.2M830.3 144.4v19.2M808.6 141.7h19.2M818.2 132.1v19.2M832.2 151.6h19.2M841.8 142.0v19.2M808.7 132.6h19.2M818.3 123.0v19.2" fill="none" stroke="#1f77b4" stroke-width="2.55"/>
<path d="M828.6 219.7h19.2M838.2 210.1v19.2M833.3 217.0h19.2M842.9 207.4v19.2M835.9 206.9h19.2M845.5 197.3v19.2M832.5 230.3h19.2M842.1 220.7v19.2M836.5 224.8h19.2M846.1 215.2v19.2M836.8 209.3h19.2M846.4 199.7v19.2M825.4 214.8h19.2M835.0 205.2v19.2M835.8 218.5h19.2M845.4 208.9v19.2M828.8 221.7h19.2M838.4 212.1v19.2M837.3 231.7h19.2M846.9 222.1v19.2" fill="none" stroke="#1f77b4" stroke-width="2.55"/>
<path d="M774.8 210.5h19.2M784.4 200.9v19.2M779.8 202.2h19.2M789.4 192.6v19.2M799.3 203.0h19.2M808.9 193.4v19.2M788.0 170.7h19.2M797.6 161.1v19.2M788.3 216.7h19.2M797.9 207.1v19.2M787.2 174.7h19.2M796.8 165.1v19.2M779.7 220.1h19.2M789.3 210.5v19.2M780.9 171.4h19.2M790.5 161.8v19.2" fill="none" stroke="#1f77b4" stroke-width="2.55"/>
<path d="M617.0 441.0h19.2M626.6 431.4v19.2M617.0 447.0h19.2M626.6 437.4v19.2M617.0 453.0h19.2M626.6 443.4v19.2M623.4 444.0h19.2M633.0 434.4v19.2M628.4 447.0h19.2M638.0 437.4v19.2M630.4 440.0h19.2M640.0 430.4v19.2" fill="none" stroke="#1f77b4" stroke-width="2.55"/>
</g>
<clipPath id="cp02"><rect x="1065.6" y="-2.0" width="448.4" height="504.5"/></clipPath>
<g clip-path="url(#cp02)">
<path d="M1073.8 267.5L1073.0 234.5L1070.5 209.8L1066.4 198.2L1068.9 176.8L1070.5 152.0L1071.4 127.3L1072.2 105.8L1075.5 89.3L1078.8 82.7L1084.6 66.2L1087.9 62.1L1094.5 61.3L1106.0 61.3L1114.3 61.3L1125.8 67.9L1139.0 69.5L1145.6 77.8L1155.5 84.4L1163.8 94.3L1165.4 105.8L1172.0 112.4L1183.6 115.7L1188.5 125.6L1195.1 133.9L1198.4 142.1L1206.7 147.1L1214.9 143.8L1221.5 148.7L1231.4 152.0L1236.4 163.6L1239.7 176.8L1240.0 192.4L1256.5 207.3L1266.4 215.5L1273.0 228.7L1282.9 237.0L1284.6 248.5L1279.6 250.0L1284.6 266.5L1281.3 291.3L1261.5 304.5L1258.2 324.3L1281.3 342.4L1287.9 357.3L1273.0 372.1L1261.5 382.0L1259.8 398.5L1249.9 406.8L1246.6 423.3L1240.0 434.8L1238.0 428.0L1226.5 433.0L1218.2 441.2L1205.0 439.6L1193.5 437.9L1181.9 436.3L1168.7 434.6L1155.5 433.0L1145.6 429.7L1134.1 437.9L1122.5 437.9L1114.3 429.7L1109.3 418.1L1102.7 413.2L1096.1 401.6L1087.9 401.6L1081.3 395.0L1074.7 388.4L1073.8 371.9L1069.7 345.5L1068.9 325.7L1073.0 304.3L1073.8 292.7Z" fill="#1f77b4" stroke="#1f77b4" stroke-width="0" stroke-linejoin="round"/>
<path d="M1074.1 266.5h19.2M1083.7 256.9v19.2M1073.8 257.9h19.2M1083.4 248.3v19.2M1070.9 252.8h19.2M1080.5 243.2v19.2M1070.8 250.4h19.2M1080.4 240.8v19.2M1069.4 241.0h19.2M1079.0 231.4v19.2M1070.8 236.9h19.2M1080.4 227.3v19.2M1070.6 232.0h19.2M1080.2 222.4v19.2M1069.0 224.0h19.2M1078.6 214.4v19.2M1072.1 220.2h19.2M1081.7 210.6v19.2M1068.6 210.5h19.2M1078.2 200.9v19.2M1068.6 205.4h19.2M1078.2 195.8v19.2M1066.2 195.3h19.2M1075.8 185.7v19.2M1066.0 196.9h19.2M1075.6 187.3v19.2M1067.0 192.0h19.2M1076.6 182.4v19.2M1064.2 185.4h19.2M1073.8 175.8v19.2M1069.2 179.7h19.2M1078.8 170.1v19.2M1066.0 174.2h19.2M1075.6 164.6v19.2M1066.5 169.1h19.2M1076.1 159.5v19.2M1070.0 159.8h19.2M1079.6 150.2v19.2M1067.9 156.8h19.2M1077.5 147.2v19.2M1068.9 151.5h19.2M1078.5 141.9v19.2M1071.0 140.1h19.2M1080.6 130.5v19.2M1067.6 134.1h19.2M1077.2 124.5v19.2M1072.2 128.1h19.2M1081.8 118.5v19.2M1068.3 123.2h19.2M1077.9 113.6v19.2M1072.9 117.7h19.2M1082.5 108.1v19.2M1070.7 112.9h19.2M1080.3 103.3v19.2M1072.7 109.7h19.2M1082.3 100.1v19.2M1070.5 104.0h19.2M1080.1 94.4v19.2M1069.4 101.0h19.2M1079.0 91.4v19.2M1072.6 92.4h19.2M1082.2 82.8v19.2M1072.8 91.7h19.2M1082.4 82.1v19.2M1079.6 83.5h19.2M1089.2 73.9v19.2M1078.0 76.7h19.2M1087.6 67.1v19.2M1083.3 70.2h19.2M1092.9 60.6v19.2M1084.9 70.4h19.2M1094.5 60.8v19.2M1081.9 69.4h19.2M1091.5 59.8v19.2M1085.2 70.6h19.2M1094.8 61.0v19.2M1094.2 71.9h19.2M1103.8 62.3v19.2M1096.5 69.1h19.2M1106.1 59.5v19.2M1103.3 69.5h19.2M1112.9 59.9v19.2M1105.8 73.3h19.2M1115.4 63.7v19.2M1115.4 76.8h19.2M1125.0 67.2v19.2M1123.9 76.8h19.2M1133.5 67.2v19.2M1126.9 77.2h19.2M1136.5 67.6v19.2M1128.9 80.2h19.2M1138.5 70.6v19.2M1134.3 86.9h19.2M1143.9 77.3v19.2M1140.8 88.4h19.2M1150.4 78.8v19.2M1141.5 93.3h19.2M1151.1 83.7v19.2M1142.1 96.5h19.2M1151.7 86.9v19.2M1145.1 100.6h19.2M1154.7 91.0v19.2M1147.4 105.7h19.2M1157.0 96.1v19.2M1154.2 113.4h19.2M1163.8 103.8v19.2M1153.9 119.2h19.2M1163.5 109.6v19.2M1160.3 121.2h19.2M1169.9 111.6v19.2M1172.0 121.9h19.2M1181.6 112.3v19.2M1166.1 123.1h19.2M1175.7 113.5v19.2M1171.0 125.0h19.2M1180.6 115.4v19.2M1173.6 134.7h19.2M1183.2 125.1v19.2M1178.2 139.3h19.2M1187.8 129.7v19.2M1176.4 138.0h19.2M1186.0 128.4v19.2M1185.6 150.2h19.2M1195.2 140.6v19.2M1190.4 155.6h19.2M1200.0 146.0v19.2M1204.0 151.2h19.2M1213.6 141.6v19.2M1203.5 153.2h19.2M1213.1 143.6v19.2M1213.5 156.3h19.2M1223.1 146.7v19.2M1217.7 156.9h19.2M1227.3 147.3v19.2M1218.9 160.0h19.2M1228.5 150.4v19.2M1219.6 163.5h19.2M1229.2 153.9v19.2M1219.7 167.3h19.2M1229.3 157.7v19.2M1222.0 173.5h19.2M1231.6 163.9v19.2M1221.8 178.6h19.2M1231.4 169.0v19.2M1223.5 187.1h19.2M1233.1 177.5v19.2M1224.4 188.2h19.2M1234.0 178.6v19.2M1227.6 203.1h19.2M1237.2 193.5v19.2M1233.6 204.0h19.2M1243.2 194.4v19.2M1234.3 208.3h19.2M1243.9 198.7v19.2M1238.6 212.6h19.2M1248.2 203.0v19.2M1241.2 216.0h19.2M1250.8 206.4v19.2M1249.1 220.7h19.2M1258.7 211.1v19.2M1251.6 223.0h19.2M1261.2 213.4v19.2M1254.3 225.1h19.2M1263.9 215.5v19.2M1261.9 235.4h19.2M1271.5 225.8v19.2M1267.0 240.4h19.2M1276.6 230.8v19.2M1266.1 242.0h19.2M1275.7 232.4v19.2M1267.7 247.5h19.2M1277.3 237.9v19.2M1271.7 239.9h19.2M1281.3 230.3v19.2M1264.9 256.5h19.2M1274.5 246.9v19.2M1261.9 258.6h19.2M1271.5 249.0v19.2M1265.3 267.9h19.2M1274.9 258.3v19.2M1266.5 270.4h19.2M1276.1 260.8v19.2M1263.5 277.3h19.2M1273.1 267.7v19.2M1262.2 282.2h19.2M1271.8 272.6v19.2M1263.2 289.5h19.2M1272.8 279.9v19.2M1266.5 284.1h19.2M1276.1 274.5v19.2M1261.0 291.4h19.2M1270.6 281.8v19.2M1254.7 290.6h19.2M1264.3 281.0v19.2M1247.9 294.4h19.2M1257.5 284.8v19.2M1244.4 308.3h19.2M1254.0 298.7v19.2M1244.1 314.8h19.2M1253.7 305.2v19.2M1241.6 322.2h19.2M1251.2 312.6v19.2M1249.4 332.5h19.2M1259.0 322.9v19.2M1252.8 335.5h19.2M1262.4 325.9v19.2M1255.6 342.5h19.2M1265.2 332.9v19.2M1259.4 343.8h19.2M1269.0 334.2v19.2M1263.4 345.5h19.2M1273.0 335.9v19.2M1264.9 346.3h19.2M1274.5 336.7v19.2M1265.9 351.7h19.2M1275.5 342.1v19.2M1270.2 357.8h19.2M1279.8 348.2v19.2M1269.4 351.0h19.2M1279.0 341.4v19.2M1263.4 356.9h19.2M1273.0 347.3v19.2M1265.2 361.7h19.2M1274.8 352.1v19.2M1259.3 361.8h19.2M1268.9 352.2v19.2M1257.8 368.4h19.2M1267.4 358.8v19.2M1251.4 373.4h19.2M1261.0 363.8v19.2M1248.4 374.6h19.2M1258.0 365.0v19.2M1244.2 382.0h19.2M1253.8 372.4v19.2M1242.4 391.0h19.2M1252.0 381.4v19.2M1244.5 397.2h19.2M1254.1 387.6v19.2M1244.6 392.9h19.2M1254.2 383.3v19.2M1237.1 399.3h19.2M1246.7 389.7v19.2M1230.3 406.3h19.2M1239.9 396.7v19.2M1229.4 415.2h19.2M1239.0 405.6v19.2M1228.6 416.6h19.2M1238.2 407.0v19.2M1226.7 422.1h19.2M1236.3 412.5v19.2M1223.8 429.0h19.2M1233.4 419.4v19.2M1218.9 420.5h19.2M1228.5 410.9v19.2M1218.2 425.0h19.2M1227.8 415.4v19.2M1209.5 427.2h19.2M1219.1 417.6v19.2M1203.9 436.2h19.2M1213.5 426.6v19.2M1206.7 432.4h19.2M1216.3 422.8v19.2M1200.3 431.6h19.2M1209.9 422.0v19.2M1194.5 430.6h19.2M1204.1 421.0v19.2M1185.4 428.4h19.2M1195.0 418.8v19.2M1179.4 429.3h19.2M1189.0 419.7v19.2M1178.2 430.3h19.2M1187.8 420.7v19.2M1172.0 426.5h19.2M1181.6 416.9v19.2M1165.3 426.7h19.2M1174.9 417.1v19.2M1154.0 426.0h19.2M1163.6 416.4v19.2M1152.2 423.4h19.2M1161.8 413.8v19.2M1143.0 425.6h19.2M1152.6 416.0v19.2M1140.3 419.7h19.2M1149.9 410.1v19.2M1129.9 424.7h19.2M1139.5 415.1v19.2M1125.2 429.0h19.2M1134.8 419.4v19.2M1120.0 429.9h19.2M1129.6 420.3v19.2M1116.9 430.3h19.2M1126.5 420.7v19.2M1116.9 426.5h19.2M1126.5 416.9v19.2M1112.5 427.5h19.2M1122.1 417.9v19.2M1113.0 424.3h19.2M1122.6 414.7v19.2M1106.1 416.0h19.2M1115.7 406.4v19.2M1103.5 411.7h19.2M1113.1 402.1v19.2M1099.1 403.4h19.2M1108.7 393.8v19.2M1093.5 398.0h19.2M1103.1 388.4v19.2M1086.1 395.7h19.2M1095.7 386.1v19.2M1081.0 393.5h19.2M1090.6 383.9v19.2M1079.5 392.7h19.2M1089.1 383.1v19.2M1078.7 387.3h19.2M1088.3 377.7v19.2M1072.8 384.4h19.2M1082.4 374.8v19.2M1073.4 386.9h19.2M1083.0 377.3v19.2M1075.3 381.0h19.2M1084.9 371.4v19.2M1073.7 372.2h19.2M1083.3 362.6v19.2M1073.0 366.7h19.2M1082.6 357.1v19.2M1070.6 363.6h19.2M1080.2 354.0v19.2M1071.0 351.4h19.2M1080.6 341.8v19.2M1068.4 348.8h19.2M1078.0 339.2v19.2M1065.8 344.4h19.2M1075.4 334.8v19.2M1066.2 332.4h19.2M1075.8 322.8v19.2M1066.0 326.7h19.2M1075.6 317.1v19.2M1068.1 324.9h19.2M1077.7 315.3v19.2M1067.5 320.7h19.2M1077.1 311.1v19.2M1067.1 315.3h19.2M1076.7 305.7v19.2M1072.6 309.5h19.2M1082.2 299.9v19.2M1071.4 303.6h19.2M1081.0 294.0v19.2M1072.3 296.8h19.2M1081.9 287.2v19.2M1070.2 291.4h19.2M1079.8 281.8v19.2M1075.0 284.3h19.2M1084.6 274.7v19.2M1072.3 276.5h19.2M1081.9 266.9v19.2M1073.7 272.0h19.2M1083.3 262.4v19.2" fill="none" stroke="#1f77b4" stroke-width="2.55"/>
<path d="M1096.1 49.4h19.2M1105.7 39.8v19.2M1110.4 60.4h19.2M1120.0 50.8v19.2M1146.7 80.2h19.2M1156.3 70.6v19.2M1160.8 94.3h19.2M1170.4 84.7v19.2M1166.5 110.8h19.2M1176.1 101.2v19.2M1183.9 114.1h19.2M1193.5 104.5v19.2M1184.7 123.1h19.2M1194.3 113.5v19.2M1216.9 132.2h19.2M1226.5 122.6v19.2M1230.9 137.2h19.2M1240.5 127.6v19.2M1228.4 144.6h19.2M1238.0 135.0v19.2M1254.0 139.1h19.2M1263.6 129.5v19.2M1270.5 167.7h19.2M1280.1 158.1v19.2M1244.9 175.9h19.2M1254.5 166.3v19.2M1270.5 185.0h19.2M1280.1 175.4v19.2M1253.2 193.3h19.2M1262.8 183.7v19.2M1236.7 190.0h19.2M1246.3 180.4v19.2" fill="none" stroke="#1f77b4" stroke-width="2.55"/>
<path d="M1274.1 201.5h19.2M1283.7 191.9v19.2M1290.6 218.0h19.2M1300.2 208.4v19.2M1299.7 222.1h19.2M1309.3 212.5v19.2M1327.3 218.5h19.2M1336.9 208.9v19.2M1361.3 218.5h19.2M1370.9 208.9v19.2M1378.1 207.3h19.2M1387.7 197.7v19.2M1324.5 235.3h19.2M1334.1 225.7v19.2M1306.3 237.0h19.2M1315.9 227.4v19.2M1286.5 243.6h19.2M1296.1 234.0v19.2M1301.4 253.5h19.2M1311.0 243.9v19.2M1309.6 251.8h19.2M1319.2 242.2v19.2M1319.5 252.6h19.2M1329.1 243.0v19.2M1349.2 249.3h19.2M1358.8 239.7v19.2M1364.1 238.3h19.2M1373.7 228.7v19.2M1378.1 238.3h19.2M1387.7 228.7v19.2M1372.3 249.3h19.2M1381.9 239.7v19.2M1403.3 243.9h19.2M1412.9 234.3v19.2" fill="none" stroke="#1f77b4" stroke-width="2.55"/>
<path d="M1309.6 255.0h19.2M1319.2 245.4v19.2M1403.7 259.9h19.2M1413.3 250.3v19.2M1388.8 268.2h19.2M1398.4 258.6v19.2M1402.0 278.1h19.2M1411.6 268.5v19.2M1422.6 280.5h19.2M1432.2 270.9v19.2M1344.3 264.9h19.2M1353.9 255.3v19.2M1331.1 273.1h19.2M1340.7 263.5v19.2M1350.9 271.5h19.2M1360.5 261.9v19.2M1369.8 274.8h19.2M1379.4 265.2v19.2M1321.2 279.7h19.2M1330.8 270.1v19.2M1324.5 288.0h19.2M1334.1 278.4v19.2M1290.6 281.4h19.2M1300.2 271.8v19.2M1304.7 280.5h19.2M1314.3 270.9v19.2M1298.1 294.6h19.2M1307.7 285.0v19.2M1308.0 294.6h19.2M1317.6 285.0v19.2M1275.0 306.1h19.2M1284.6 296.5v19.2M1296.4 304.5h19.2M1306.0 294.9v19.2M1286.5 316.0h19.2M1296.1 306.4v19.2M1262.6 319.3h19.2M1272.2 309.7v19.2M1270.0 324.3h19.2M1279.6 314.7v19.2M1351.7 292.9h19.2M1361.3 283.3v19.2M1344.3 306.1h19.2M1353.9 296.5v19.2M1367.4 306.1h19.2M1377.0 296.5v19.2M1378.9 309.4h19.2M1388.5 299.8v19.2M1387.2 297.9h19.2M1396.8 288.3v19.2M1395.4 304.5h19.2M1405.0 294.9v19.2M1410.3 302.0h19.2M1419.9 292.4v19.2M1436.7 294.6h19.2M1446.3 285.0v19.2M1435.0 306.1h19.2M1444.6 296.5v19.2M1435.0 314.4h19.2M1444.6 304.8v19.2M1443.3 317.7h19.2M1452.9 308.1v19.2M1405.3 322.6h19.2M1414.9 313.0v19.2M1416.9 330.9h19.2M1426.5 321.3v19.2M1428.4 334.2h19.2M1438.0 324.6v19.2M1446.6 340.8h19.2M1456.2 331.2v19.2M1344.3 319.3h19.2M1353.9 309.7v19.2M1359.1 319.3h19.2M1368.7 309.7v19.2M1370.7 321.0h19.2M1380.3 311.4v19.2M1375.6 330.9h19.2M1385.2 321.3v19.2M1345.9 332.5h19.2M1355.5 322.9v19.2M1329.4 334.2h19.2M1339.0 324.6v19.2M1321.2 319.3h19.2M1330.8 309.7v19.2M1309.6 327.6h19.2M1319.2 318.0v19.2M1304.7 334.2h19.2M1314.3 324.6v19.2M1319.5 330.9h19.2M1329.1 321.3v19.2M1425.1 349.0h19.2M1434.7 339.4v19.2M1421.8 342.4h19.2M1431.4 332.8v19.2M1428.4 362.2h19.2M1438.0 352.6v19.2M1444.9 349.0h19.2M1454.5 339.4v19.2M1378.1 349.8h19.2M1387.7 340.2v19.2M1366.5 358.9h19.2M1376.1 349.3v19.2M1400.4 356.4h19.2M1410.0 346.8v19.2M1389.3 371.0h19.2M1398.9 361.4v19.2M1411.9 371.3h19.2M1421.5 361.7v19.2M1454.0 376.2h19.2M1463.6 366.6v19.2M1451.5 387.3h19.2M1461.1 377.7v19.2M1360.8 393.6h19.2M1370.4 384.0v19.2M1357.5 399.3h19.2M1367.1 389.7v19.2M1448.6 419.1h19.2M1458.2 409.5v19.2M1380.6 424.6h19.2M1390.2 415.0v19.2M1310.4 382.0h19.2M1320.0 372.4v19.2M1291.5 350.7h19.2M1301.1 341.1v19.2M1293.1 355.6h19.2M1302.7 346.0v19.2M1292.3 373.8h19.2M1301.9 364.2v19.2M1279.9 382.0h19.2M1289.5 372.4v19.2M1288.2 380.4h19.2M1297.8 370.8v19.2M1298.9 405.1h19.2M1308.5 395.5v19.2M1284.9 406.8h19.2M1294.5 397.2v19.2M1298.1 420.0h19.2M1307.7 410.4v19.2M1304.7 424.1h19.2M1314.3 414.5v19.2M1271.7 429.9h19.2M1281.3 420.3v19.2M1279.1 447.2h19.2M1288.7 437.6v19.2M1265.1 439.8h19.2M1274.7 430.2v19.2M1250.2 446.4h19.2M1259.8 436.8v19.2M1245.3 436.5h19.2M1254.9 426.9v19.2M1258.5 420.0h19.2M1268.1 410.4v19.2M1255.2 408.4h19.2M1264.8 398.8v19.2M1266.7 396.9h19.2M1276.3 387.3v19.2M1273.3 398.5h19.2M1282.9 388.9v19.2" fill="none" stroke="#1f77b4" stroke-width="2.55"/>
<path d="M1364.9 285.5h19.2M1374.5 275.9v19.2M1368.2 281.5h19.2M1377.8 271.9v19.2M1368.2 283.5h19.2M1377.8 273.9v19.2M1363.7 284.3h19.2M1373.3 274.7v19.2M1365.5 281.8h19.2M1375.1 272.2v19.2M1369.9 285.0h19.2M1379.5 275.4v19.2M1367.2 286.1h19.2M1376.8 276.5v19.2M1371.7 283.7h19.2M1381.3 274.1v19.2M1368.4 287.5h19.2M1378.0 277.9v19.2" fill="none" stroke="#1f77b4" stroke-width="2.55"/>
<path d="M1422.9 339.3h19.2M1432.5 329.7v19.2M1425.8 338.1h19.2M1435.4 328.5v19.2M1426.7 343.7h19.2M1436.3 334.1v19.2M1430.9 338.8h19.2M1440.5 329.2v19.2M1423.1 343.5h19.2M1432.7 333.9v19.2M1428.6 337.0h19.2M1438.2 327.4v19.2M1425.2 336.6h19.2M1434.8 327.0v19.2M1426.3 336.1h19.2M1435.9 326.5v19.2M1420.3 336.8h19.2M1429.9 327.2v19.2M1420.5 337.3h19.2M1430.1 327.7v19.2M1423.7 337.4h19.2M1433.3 327.8v19.2M1422.8 345.3h19.2M1432.4 335.7v19.2M1425.7 333.5h19.2M1435.3 323.9v19.2M1425.5 334.4h19.2M1435.1 324.8v19.2M1426.4 346.3h19.2M1436.0 336.7v19.2M1425.2 337.7h19.2M1434.8 328.1v19.2" fill="none" stroke="#1f77b4" stroke-width="2.55"/>
<path d="M1259.5 303.9h19.2M1269.1 294.3v19.2M1285.5 321.5h19.2M1295.1 311.9v19.2M1289.8 315.8h19.2M1299.4 306.2v19.2M1252.1 325.4h19.2M1261.7 315.8v19.2M1252.1 309.3h19.2M1261.7 299.7v19.2M1254.6 323.6h19.2M1264.2 314.0v19.2M1283.8 326.0h19.2M1293.4 316.4v19.2M1262.4 314.7h19.2M1272.0 305.1v19.2M1274.6 311.6h19.2M1284.2 302.0v19.2M1270.7 315.9h19.2M1280.3 306.3v19.2M1273.3 293.2h19.2M1282.9 283.6v19.2M1253.9 303.2h19.2M1263.5 293.6v19.2M1290.6 313.9h19.2M1300.2 304.3v19.2M1254.3 326.9h19.2M1263.9 317.3v19.2M1287.5 313.0h19.2M1297.1 303.4v19.2M1276.0 301.6h19.2M1285.6 292.0v19.2M1271.4 333.1h19.2M1281.0 323.5v19.2M1263.6 319.5h19.2M1273.2 309.9v19.2M1250.6 325.4h19.2M1260.2 315.8v19.2M1250.3 325.4h19.2M1259.9 315.8v19.2M1261.5 327.8h19.2M1271.1 318.2v19.2M1263.7 317.8h19.2M1273.3 308.2v19.2M1253.9 310.0h19.2M1263.5 300.4v19.2M1251.5 319.0h19.2M1261.1 309.4v19.2M1250.0 317.9h19.2M1259.6 308.3v19.2M1249.6 321.0h19.2M1259.2 311.4v19.2M1282.6 300.5h19.2M1292.2 290.9v19.2M1275.9 295.6h19.2M1285.5 286.0v19.2M1270.8 333.0h19.2M1280.4 323.4v19.2M1257.6 315.0h19.2M1267.2 305.4v19.2M1261.7 331.0h19.2M1271.3 321.4v19.2" fill="none" stroke="#1f77b4" stroke-width="2.55"/>
<path d="M1282.2 263.7h19.2M1291.8 254.1v19.2M1275.7 263.6h19.2M1285.3 254.0v19.2M1294.9 273.7h19.2M1304.5 264.1v19.2M1295.1 273.5h19.2M1304.7 263.9v19.2M1290.1 272.9h19.2M1299.7 263.3v19.2M1276.3 270.2h19.2M1285.9 260.6v19.2M1280.2 259.4h19.2M1289.8 249.8v19.2M1286.2 261.4h19.2M1295.8 251.8v19.2M1280.8 262.2h19.2M1290.4 252.6v19.2M1293.4 271.5h19.2M1303.0 261.9v19.2M1284.4 280.4h19.2M1294.0 270.8v19.2M1294.9 275.0h19.2M1304.5 265.4v19.2M1286.3 283.9h19.2M1295.9 274.3v19.2M1283.3 284.8h19.2M1292.9 275.2v19.2" fill="none" stroke="#1f77b4" stroke-width="2.55"/>
<path d="M1272.0 373.4h19.2M1281.6 363.8v19.2M1269.7 381.1h19.2M1279.3 371.5v19.2M1257.7 435.5h19.2M1267.3 425.9v19.2M1248.4 402.1h19.2M1258.0 392.5v19.2M1270.3 382.4h19.2M1279.9 372.8v19.2M1239.2 427.4h19.2M1248.8 417.8v19.2M1258.6 383.6h19.2M1268.2 374.0v19.2M1268.4 383.1h19.2M1278.0 373.5v19.2M1256.1 424.8h19.2M1265.7 415.2v19.2M1272.4 383.1h19.2M1282.0 373.5v19.2M1241.3 410.0h19.2M1250.9 400.4v19.2M1257.3 428.8h19.2M1266.9 419.2v19.2M1244.2 425.8h19.2M1253.8 416.2v19.2M1277.4 374.2h19.2M1287.0 364.6v19.2M1249.2 407.9h19.2M1258.8 398.3v19.2M1250.6 397.4h19.2M1260.2 387.8v19.2M1262.5 389.7h19.2M1272.1 380.1v19.2M1241.9 414.5h19.2M1251.5 404.9v19.2M1259.4 390.4h19.2M1269.0 380.8v19.2M1264.9 411.8h19.2M1274.5 402.2v19.2M1252.6 431.0h19.2M1262.2 421.4v19.2M1269.8 382.7h19.2M1279.4 373.1v19.2M1277.5 368.5h19.2M1287.1 358.9v19.2M1254.8 384.4h19.2M1264.4 374.8v19.2M1264.2 386.4h19.2M1273.8 376.8v19.2M1249.7 417.3h19.2M1259.3 407.7v19.2M1277.0 366.1h19.2M1286.6 356.5v19.2M1256.1 392.2h19.2M1265.7 382.6v19.2M1272.5 414.0h19.2M1282.1 404.4v19.2M1268.4 411.7h19.2M1278.0 402.1v19.2M1247.9 419.9h19.2M1257.5 410.3v19.2M1274.4 380.4h19.2M1284.0 370.8v19.2M1277.4 384.6h19.2M1287.0 375.0v19.2M1251.6 403.8h19.2M1261.2 394.2v19.2M1266.3 395.7h19.2M1275.9 386.1v19.2M1262.1 430.2h19.2M1271.7 420.6v19.2M1256.2 389.4h19.2M1265.8 379.8v19.2M1243.4 427.8h19.2M1253.0 418.2v19.2M1270.0 383.7h19.2M1279.6 374.1v19.2M1275.6 413.2h19.2M1285.2 403.6v19.2" fill="none" stroke="#1f77b4" stroke-width="2.55"/>
<path d="M1146.7 442.0h19.2M1156.3 432.4v19.2M1205.6 452.8h19.2M1215.2 443.2v19.2M1171.5 439.6h19.2M1181.1 430.0v19.2M1112.9 438.7h19.2M1122.5 429.1v19.2M1079.1 403.3h19.2M1088.7 393.7v19.2M1236.7 428.0h19.2M1246.3 418.4v19.2" fill="none" stroke="#1f77b4" stroke-width="2.55"/>
</g>
<clipPath id="cp10"><rect x="114.5" y="463.8" width="487.0" height="458.8"/></clipPath>
<g clip-path="url(#cp10)">
<path d="M182.9 919.5L182.1 898.0L187.9 888.1L196.1 884.8L209.3 883.2L225.8 879.9L239.0 874.9L255.5 871.6L268.7 871.6L280.3 863.4L288.5 858.4L289.3 841.9L298.4 833.7L305.0 830.4L314.9 828.7L321.5 818.8L338.0 815.5L354.5 813.9L357.8 799.0L351.2 785.8L344.6 774.3L354.5 769.3L371.0 771.0L379.5 772.6L396.0 771.0L412.5 767.7L437.3 769.3L453.8 772.6L470.3 772.6L486.8 774.3L520.6 774.3L520.6 791.6L498.3 792.4L501.6 807.3L503.3 825.4L501.6 840.3L511.5 843.6L513.2 856.8L519.8 865.0L524.7 874.9L519.8 884.8L519.8 898.0L516.5 906.3L503.3 909.6L486.8 910.4L462.0 912.0L445.5 913.7L429.0 914.5L420.8 919.5L404.3 919.5L387.8 920.3L371.3 921.1L346.5 921.9L330.0 921.9L305.0 921.9L272.0 921.9L239.0 921.9L214.3 921.9L194.5 921.1Z" fill="#1f77b4" stroke="#1f77b4" stroke-width="0" stroke-linejoin="round"/>
<path d="M181.7 916.7h19.2M191.3 907.1v19.2M181.4 908.7h19.2M191.0 899.1v19.2M180.8 907.9h19.2M190.4 898.3v19.2M183.3 901.3h19.2M192.9 891.7v19.2M180.5 899.8h19.2M190.1 890.2v19.2M185.9 894.2h19.2M195.5 884.6v19.2M182.3 896.4h19.2M191.9 886.8v19.2M193.8 892.7h19.2M203.4 883.1v19.2M196.2 894.2h19.2M205.8 884.6v19.2M201.7 891.2h19.2M211.3 881.6v19.2M208.0 890.3h19.2M217.6 880.7v19.2M214.9 890.6h19.2M224.5 881.0v19.2M219.5 887.3h19.2M229.1 877.7v19.2M226.9 882.5h19.2M236.5 872.9v19.2M235.8 882.9h19.2M245.4 873.3v19.2M238.5 881.7h19.2M248.1 872.1v19.2M244.1 878.1h19.2M253.7 868.5v19.2M248.1 877.5h19.2M257.7 867.9v19.2M253.2 881.7h19.2M262.8 872.1v19.2M267.8 874.3h19.2M277.4 864.7v19.2M271.0 875.8h19.2M280.6 866.2v19.2M274.5 869.2h19.2M284.1 859.6v19.2M282.8 866.2h19.2M292.4 856.6v19.2M288.8 856.5h19.2M298.4 846.9v19.2M288.1 848.3h19.2M297.7 838.7v19.2M285.8 842.6h19.2M295.4 833.0v19.2M288.3 846.6h19.2M297.9 837.0v19.2M293.6 840.3h19.2M303.2 830.7v19.2M296.2 838.0h19.2M305.8 828.4v19.2M300.5 838.4h19.2M310.1 828.8v19.2M306.7 837.1h19.2M316.3 827.5v19.2M314.1 833.2h19.2M323.7 823.6v19.2M315.4 825.1h19.2M325.0 815.5v19.2M318.8 825.9h19.2M328.4 816.3v19.2M319.7 824.1h19.2M329.3 814.5v19.2M326.4 826.6h19.2M336.0 817.0v19.2M333.5 820.9h19.2M343.1 811.3v19.2M338.5 821.9h19.2M348.1 812.3v19.2M342.8 823.7h19.2M352.4 814.1v19.2M352.3 814.0h19.2M361.9 804.4v19.2M356.6 806.4h19.2M366.2 796.8v19.2M357.4 801.9h19.2M367.0 792.3v19.2M353.7 788.4h19.2M363.3 778.8v19.2M348.9 784.3h19.2M358.5 774.7v19.2M348.5 776.5h19.2M358.1 766.9v19.2M344.6 772.1h19.2M354.2 762.5v19.2M339.5 781.1h19.2M349.1 771.5v19.2M346.8 779.0h19.2M356.4 769.4v19.2M347.1 776.5h19.2M356.7 766.9v19.2M355.0 778.6h19.2M364.6 769.0v19.2M355.6 780.5h19.2M365.2 770.9v19.2M362.5 782.0h19.2M372.1 772.4v19.2M371.0 782.2h19.2M380.6 772.6v19.2M380.1 781.1h19.2M389.7 771.5v19.2M381.9 779.8h19.2M391.5 770.2v19.2M390.6 777.5h19.2M400.2 767.9v19.2M394.1 778.5h19.2M403.7 768.9v19.2M401.5 779.0h19.2M411.1 769.4v19.2M403.8 775.5h19.2M413.4 765.9v19.2M412.7 774.7h19.2M422.3 765.1v19.2M415.8 774.7h19.2M425.4 765.1v19.2M426.1 779.0h19.2M435.7 769.4v19.2M426.9 776.5h19.2M436.5 766.9v19.2M435.6 777.0h19.2M445.2 767.4v19.2M437.7 778.1h19.2M447.3 768.5v19.2M448.4 779.6h19.2M458.0 770.0v19.2M453.8 779.2h19.2M463.4 769.6v19.2M458.7 781.8h19.2M468.3 772.2v19.2M463.5 779.5h19.2M473.1 769.9v19.2M468.0 780.4h19.2M477.6 770.8v19.2M472.7 781.3h19.2M482.3 771.7v19.2M482.3 780.9h19.2M491.9 771.3v19.2M485.0 784.0h19.2M494.6 774.4v19.2M488.9 784.0h19.2M498.5 774.4v19.2M499.2 783.2h19.2M508.8 773.6v19.2M504.9 782.3h19.2M514.5 772.7v19.2M509.7 785.1h19.2M519.3 775.5v19.2M502.9 777.1h19.2M512.5 767.5v19.2M501.7 785.5h19.2M511.3 775.9v19.2M503.2 788.7h19.2M512.8 779.1v19.2M506.6 781.0h19.2M516.2 771.4v19.2M502.3 783.8h19.2M511.9 774.2v19.2M496.8 786.2h19.2M506.4 776.6v19.2M489.3 782.9h19.2M498.9 773.3v19.2M480.3 797.5h19.2M489.9 787.9v19.2M482.9 803.1h19.2M492.5 793.5v19.2M484.8 806.6h19.2M494.4 797.0v19.2M483.3 811.5h19.2M492.9 801.9v19.2M486.2 817.3h19.2M495.8 807.7v19.2M487.4 821.6h19.2M497.0 812.0v19.2M484.7 827.6h19.2M494.3 818.0v19.2M483.4 834.5h19.2M493.0 824.9v19.2M491.3 848.6h19.2M500.9 839.0v19.2M495.3 850.3h19.2M504.9 840.7v19.2M495.3 845.8h19.2M504.9 836.2v19.2M494.2 854.1h19.2M503.8 844.5v19.2M499.9 863.2h19.2M509.5 853.6v19.2M501.4 869.1h19.2M511.0 859.5v19.2M505.0 868.9h19.2M514.6 859.3v19.2M508.1 877.6h19.2M517.7 868.0v19.2M506.4 874.0h19.2M516.0 864.4v19.2M504.8 879.1h19.2M514.4 869.5v19.2M500.8 885.8h19.2M510.4 876.2v19.2M499.6 895.9h19.2M509.2 886.3v19.2M499.1 898.4h19.2M508.7 888.8v19.2M500.9 896.6h19.2M510.5 887.0v19.2M497.4 901.2h19.2M507.0 891.6v19.2M489.0 901.9h19.2M498.6 892.3v19.2M484.6 899.7h19.2M494.2 890.1v19.2M481.2 904.1h19.2M490.8 894.5v19.2M476.5 901.5h19.2M486.1 891.9v19.2M464.7 904.3h19.2M474.3 894.7v19.2M461.1 903.5h19.2M470.7 893.9v19.2M454.9 901.9h19.2M464.5 892.3v19.2M446.7 903.8h19.2M456.3 894.2v19.2M443.3 902.5h19.2M452.9 892.9v19.2M438.2 906.1h19.2M447.8 896.5v19.2M432.8 904.7h19.2M442.4 895.1v19.2M428.6 904.5h19.2M438.2 894.9v19.2M422.6 908.3h19.2M432.2 898.7v19.2M411.2 907.4h19.2M420.8 897.8v19.2M406.0 910.0h19.2M415.6 900.4v19.2M410.9 908.7h19.2M420.5 899.1v19.2M400.7 909.1h19.2M410.3 899.5v19.2M400.1 910.3h19.2M409.7 900.7v19.2M393.1 909.2h19.2M402.7 899.6v19.2M387.3 913.8h19.2M396.9 904.2v19.2M380.0 910.9h19.2M389.6 901.3v19.2M374.8 912.6h19.2M384.4 903.0v19.2M371.8 911.1h19.2M381.4 901.5v19.2M366.7 912.1h19.2M376.3 902.5v19.2M360.8 913.1h19.2M370.4 903.5v19.2M351.6 914.5h19.2M361.2 904.9v19.2M344.4 914.7h19.2M354.0 905.1v19.2M337.5 914.2h19.2M347.1 904.6v19.2M333.1 913.9h19.2M342.7 904.3v19.2M329.6 915.8h19.2M339.2 906.2v19.2M322.5 916.0h19.2M332.1 906.4v19.2M317.5 914.1h19.2M327.1 904.5v19.2M312.3 914.9h19.2M321.9 905.3v19.2M304.9 911.7h19.2M314.5 902.1v19.2M296.7 914.6h19.2M306.3 905.0v19.2M292.1 913.0h19.2M301.7 903.4v19.2M285.9 913.0h19.2M295.5 903.4v19.2M284.1 915.5h19.2M293.7 905.9v19.2M274.6 914.9h19.2M284.2 905.3v19.2M270.3 916.0h19.2M279.9 906.4v19.2M264.7 914.7h19.2M274.3 905.1v19.2M262.2 916.2h19.2M271.8 906.6v19.2M255.6 913.6h19.2M265.2 904.0v19.2M247.3 916.1h19.2M256.9 906.5v19.2M243.1 914.5h19.2M252.7 904.9v19.2M237.1 912.6h19.2M246.7 903.0v19.2M234.4 915.0h19.2M244.0 905.4v19.2M224.0 912.8h19.2M233.6 903.2v19.2M222.2 913.4h19.2M231.8 903.8v19.2M214.8 915.4h19.2M224.4 905.8v19.2M208.3 913.5h19.2M217.9 903.9v19.2M200.7 911.5h19.2M210.3 901.9v19.2M196.7 910.8h19.2M206.3 901.2v19.2M189.4 912.2h19.2M199.0 902.6v19.2M183.7 912.8h19.2M193.3 903.2v19.2M176.5 910.3h19.2M186.1 900.7v19.2" fill="none" stroke="#1f77b4" stroke-width="2.55"/>
<path d="M321.0 724.4h19.2M330.6 714.8v19.2M343.3 749.2h19.2M352.9 739.6v19.2M368.8 729.7h19.2M378.4 720.1v19.2M168.4 910.4h19.2M178.0 900.8v19.2M184.9 884.8h19.2M194.5 875.2v19.2M196.4 883.2h19.2M206.0 873.6v19.2M219.5 876.6h19.2M229.1 867.0v19.2M236.0 871.6h19.2M245.6 862.0v19.2M251.7 868.3h19.2M261.3 858.7v19.2M267.4 862.5h19.2M277.0 852.9v19.2M277.3 848.5h19.2M286.9 838.9v19.2M297.1 828.7h19.2M306.7 819.1v19.2M307.0 802.3h19.2M316.6 792.7v19.2M313.6 799.0h19.2M323.2 789.4v19.2M326.8 789.1h19.2M336.4 779.5v19.2M333.4 772.6h19.2M343.0 763.0v19.2M341.6 766.0h19.2M351.2 756.4v19.2M361.4 754.5h19.2M371.0 744.9v19.2M361.4 762.7h19.2M371.0 753.1v19.2M374.6 757.8h19.2M384.2 748.2v19.2M377.9 733.0h19.2M387.5 723.4v19.2M369.7 741.3h19.2M379.3 731.7v19.2" fill="none" stroke="#1f77b4" stroke-width="2.55"/>
<path d="M526.7 899.2h19.2M536.3 889.6v19.2M518.4 876.6h19.2M528.0 867.0v19.2M512.6 839.4h19.2M522.2 829.8v19.2M513.5 848.5h19.2M523.1 838.9v19.2M510.2 856.8h19.2M519.8 847.2v19.2M495.3 812.2h19.2M504.9 802.6v19.2M493.7 822.9h19.2M503.3 813.3v19.2M515.1 783.3h19.2M524.7 773.7v19.2M484.6 755.3h19.2M494.2 745.7v19.2M475.5 756.1h19.2M485.1 746.5v19.2M464.8 754.5h19.2M474.4 744.9v19.2M464.8 762.7h19.2M474.4 753.1v19.2M441.7 756.1h19.2M451.3 746.5v19.2M340.2 779.2h19.2M349.8 769.6v19.2M327.0 802.3h19.2M336.6 792.7v19.2M330.3 812.2h19.2M339.9 802.6v19.2M383.1 721.5h19.2M392.7 711.9v19.2M394.7 706.6h19.2M404.3 697.0v19.2M346.8 762.7h19.2M356.4 753.1v19.2M353.4 771.0h19.2M363.0 761.4v19.2" fill="none" stroke="#1f77b4" stroke-width="2.55"/>
<path d="M323.0 802.9h19.2M332.6 793.3v19.2M343.6 813.6h19.2M353.2 804.0v19.2M334.9 776.4h19.2M344.5 766.8v19.2M317.1 808.9h19.2M326.7 799.3v19.2M336.9 799.6h19.2M346.5 790.0v19.2M337.2 787.6h19.2M346.8 778.0v19.2M335.9 782.8h19.2M345.5 773.2v19.2M328.6 798.7h19.2M338.2 789.1v19.2M334.6 789.8h19.2M344.2 780.2v19.2M314.9 803.6h19.2M324.5 794.0v19.2M318.6 799.9h19.2M328.2 790.3v19.2M333.6 804.6h19.2M343.2 795.0v19.2M337.9 779.6h19.2M347.5 770.0v19.2M335.3 796.4h19.2M344.9 786.8v19.2M345.5 807.8h19.2M355.1 798.2v19.2M343.5 793.6h19.2M353.1 784.0v19.2M334.5 813.8h19.2M344.1 804.2v19.2M325.4 809.5h19.2M335.0 799.9v19.2M330.5 798.3h19.2M340.1 788.7v19.2M327.9 793.1h19.2M337.5 783.5v19.2M327.2 794.9h19.2M336.8 785.3v19.2M327.2 814.4h19.2M336.8 804.8v19.2M333.7 812.5h19.2M343.3 802.9v19.2M311.6 799.0h19.2M321.2 789.4v19.2M333.1 796.6h19.2M342.7 787.0v19.2M344.9 811.0h19.2M354.5 801.4v19.2M323.5 809.6h19.2M333.1 800.0v19.2M314.1 801.2h19.2M323.7 791.6v19.2M322.2 808.9h19.2M331.8 799.3v19.2M337.9 780.6h19.2M347.5 771.0v19.2" fill="none" stroke="#1f77b4" stroke-width="2.55"/>
<path d="M429.1 751.8h19.2M438.7 742.2v19.2M403.4 753.3h19.2M413.0 743.7v19.2M376.5 747.1h19.2M386.1 737.5v19.2M390.0 764.6h19.2M399.6 755.0v19.2M387.6 725.5h19.2M397.2 715.9v19.2M424.6 767.6h19.2M434.2 758.0v19.2M423.2 745.7h19.2M432.8 736.1v19.2M381.3 753.9h19.2M390.9 744.3v19.2M377.1 747.6h19.2M386.7 738.0v19.2M392.4 726.5h19.2M402.0 716.9v19.2M407.1 733.3h19.2M416.7 723.7v19.2M369.5 769.7h19.2M379.1 760.1v19.2M363.3 749.7h19.2M372.9 740.1v19.2M408.4 730.4h19.2M418.0 720.8v19.2M389.1 748.4h19.2M398.7 738.8v19.2M425.2 765.6h19.2M434.8 756.0v19.2M406.8 737.0h19.2M416.4 727.4v19.2M392.6 723.2h19.2M402.2 713.6v19.2M362.2 756.7h19.2M371.8 747.1v19.2M414.1 732.1h19.2M423.7 722.5v19.2M419.3 756.0h19.2M428.9 746.4v19.2M386.4 760.1h19.2M396.0 750.5v19.2M343.1 773.8h19.2M352.7 764.2v19.2M414.3 755.4h19.2M423.9 745.8v19.2M399.0 762.8h19.2M408.6 753.2v19.2M373.1 738.0h19.2M382.7 728.4v19.2M398.0 732.0h19.2M407.6 722.4v19.2M401.7 767.1h19.2M411.3 757.5v19.2M381.2 767.5h19.2M390.8 757.9v19.2M395.9 748.7h19.2M405.5 739.1v19.2M368.4 736.6h19.2M378.0 727.0v19.2M386.8 752.6h19.2M396.4 743.0v19.2M406.7 741.5h19.2M416.3 731.9v19.2M377.2 753.7h19.2M386.8 744.1v19.2M371.7 752.9h19.2M381.3 743.3v19.2M378.2 723.2h19.2M387.8 713.6v19.2M370.7 762.2h19.2M380.3 752.6v19.2M396.6 748.0h19.2M406.2 738.4v19.2M398.3 748.4h19.2M407.9 738.8v19.2M412.5 746.7h19.2M422.1 737.1v19.2M390.2 729.6h19.2M399.8 720.0v19.2M378.5 769.9h19.2M388.1 760.3v19.2M376.9 729.8h19.2M386.5 720.2v19.2M413.1 756.7h19.2M422.7 747.1v19.2M363.0 764.4h19.2M372.6 754.8v19.2" fill="none" stroke="#1f77b4" stroke-width="2.55"/>
<path d="M429.0 716.5L445.5 713.2L455.4 703.3L462.0 714.9L485.1 721.5L490.9 724.8L481.8 734.7L445.5 735.5L422.4 733.0L409.2 724.8Z" fill="#1f77b4" stroke="#1f77b4" stroke-width="0" stroke-linejoin="round"/>
<path d="M421.7 721.5h19.2M431.3 711.9v19.2M427.4 723.1h19.2M437.0 713.5v19.2M436.4 722.0h19.2M446.0 712.4v19.2M441.4 717.7h19.2M451.0 708.1v19.2M447.8 713.1h19.2M457.4 703.5v19.2M442.5 709.3h19.2M452.1 699.7v19.2M441.6 711.0h19.2M451.2 701.4v19.2M444.4 717.6h19.2M454.0 708.0v19.2M453.0 721.2h19.2M462.6 711.6v19.2M457.6 724.1h19.2M467.2 714.5v19.2M459.9 723.6h19.2M469.5 714.0v19.2M465.6 727.8h19.2M475.2 718.2v19.2M472.6 731.1h19.2M482.2 721.5v19.2M475.4 729.3h19.2M485.0 719.7v19.2M471.9 721.4h19.2M481.5 711.8v19.2M470.7 726.9h19.2M480.3 717.3v19.2M466.3 729.2h19.2M475.9 719.6v19.2M468.7 728.5h19.2M478.3 718.9v19.2M462.1 729.1h19.2M471.7 719.5v19.2M458.0 725.2h19.2M467.6 715.6v19.2M452.4 729.0h19.2M462.0 719.4v19.2M446.2 725.9h19.2M455.8 716.3v19.2M440.9 726.2h19.2M450.5 716.6v19.2M436.0 729.3h19.2M445.6 719.7v19.2M435.6 729.2h19.2M445.2 719.6v19.2M429.7 728.8h19.2M439.3 719.2v19.2M423.5 724.8h19.2M433.1 715.2v19.2M421.1 727.5h19.2M430.7 717.9v19.2M417.4 727.4h19.2M427.0 717.8v19.2M415.1 726.6h19.2M424.7 717.0v19.2M408.1 723.8h19.2M417.7 714.2v19.2M414.6 726.0h19.2M424.2 716.4v19.2M422.0 723.7h19.2M431.6 714.1v19.2" fill="none" stroke="#1f77b4" stroke-width="2.55"/>
<path d="M440.6 694.0h19.2M450.2 684.4v19.2M434.7 714.2h19.2M444.3 704.6v19.2M449.1 713.4h19.2M458.7 703.8v19.2M442.2 698.9h19.2M451.8 689.3v19.2M439.0 692.5h19.2M448.6 682.9v19.2M439.0 697.6h19.2M448.6 688.0v19.2M442.6 694.1h19.2M452.2 684.5v19.2M442.9 703.2h19.2M452.5 693.6v19.2M449.2 710.9h19.2M458.8 701.3v19.2" fill="none" stroke="#1f77b4" stroke-width="2.55"/>
<path d="M376.0 520.3h19.2M385.6 510.7v19.2M376.0 523.4h19.2M385.6 513.8v19.2M382.8 636.5h19.2M392.4 626.9v19.2M402.6 636.5h19.2M412.2 626.9v19.2M487.1 594.1h19.2M496.7 584.5v19.2M469.7 602.3h19.2M479.3 592.7v19.2M332.8 599.5h19.2M342.4 589.9v19.2M470.2 673.3h19.2M479.8 663.7v19.2M468.9 687.3h19.2M478.5 677.7v19.2M469.7 698.8h19.2M479.3 689.2v19.2M357.5 674.9h19.2M367.1 665.3v19.2M484.6 747.5h19.2M494.2 737.9v19.2M356.7 567.7h19.2M366.3 558.1v19.2M368.3 566.0h19.2M377.9 556.4v19.2M377.3 571.0h19.2M386.9 561.4v19.2M355.9 574.3h19.2M365.5 564.7v19.2M366.6 574.3h19.2M376.2 564.7v19.2M487.1 566.0h19.2M496.7 556.4v19.2M459.0 592.4h19.2M468.6 582.8v19.2M469.7 594.1h19.2M479.3 584.5v19.2M345.2 687.3h19.2M354.8 677.7v19.2M377.3 683.2h19.2M386.9 673.6v19.2M427.7 694.7h19.2M437.3 685.1v19.2M435.9 689.8h19.2M445.5 680.2v19.2M442.5 683.2h19.2M452.1 673.6v19.2M447.5 686.5h19.2M457.1 676.9v19.2M450.8 693.1h19.2M460.4 683.5v19.2M407.9 557.8h19.2M417.5 548.2v19.2M425.2 557.8h19.2M434.8 548.2v19.2" fill="none" stroke="#1f77b4" stroke-width="2.55"/>
<path d="M443.8 564.1h19.2M453.4 554.5v19.2M471.6 564.5h19.2M481.2 554.9v19.2M413.8 564.5h19.2M423.4 554.9v19.2M457.9 565.8h19.2M467.5 556.2v19.2M445.4 565.7h19.2M455.0 556.1v19.2M448.2 566.1h19.2M457.8 556.5v19.2M482.3 564.3h19.2M491.9 554.7v19.2M477.0 565.0h19.2M486.6 555.4v19.2M460.0 568.3h19.2M469.6 558.7v19.2M429.9 564.4h19.2M439.5 554.8v19.2M433.6 566.3h19.2M443.2 556.7v19.2M437.3 565.2h19.2M446.9 555.6v19.2M401.4 568.4h19.2M411.0 558.8v19.2M475.0 567.3h19.2M484.6 557.7v19.2M476.3 566.9h19.2M485.9 557.3v19.2M457.0 564.3h19.2M466.6 554.7v19.2M428.4 568.7h19.2M438.0 559.1v19.2M464.5 567.2h19.2M474.1 557.6v19.2M443.2 566.1h19.2M452.8 556.5v19.2M456.9 566.1h19.2M466.5 556.5v19.2M468.2 567.9h19.2M477.8 558.3v19.2M448.5 568.7h19.2M458.1 559.1v19.2M440.2 567.6h19.2M449.8 558.0v19.2M456.2 567.3h19.2M465.8 557.7v19.2M410.9 564.3h19.2M420.5 554.7v19.2M404.0 568.4h19.2M413.6 558.8v19.2M445.2 564.2h19.2M454.8 554.6v19.2M441.2 566.8h19.2M450.8 557.2v19.2M449.6 566.9h19.2M459.2 557.3v19.2M467.1 567.9h19.2M476.7 558.3v19.2M437.6 565.3h19.2M447.2 555.7v19.2M442.4 569.7h19.2M452.0 560.1v19.2M472.6 568.8h19.2M482.2 559.2v19.2M477.5 567.1h19.2M487.1 557.5v19.2M453.7 570.0h19.2M463.3 560.4v19.2M442.2 568.8h19.2M451.8 559.2v19.2M458.1 567.1h19.2M467.7 557.5v19.2M458.4 569.8h19.2M468.0 560.2v19.2M441.3 567.0h19.2M450.9 557.4v19.2M427.0 566.0h19.2M436.6 556.4v19.2M466.2 569.0h19.2M475.8 559.4v19.2M428.0 565.4h19.2M437.6 555.8v19.2M408.4 568.8h19.2M418.0 559.2v19.2M444.8 569.8h19.2M454.4 560.2v19.2M461.6 569.6h19.2M471.2 560.0v19.2M434.1 564.5h19.2M443.7 554.9v19.2M451.7 568.5h19.2M461.3 558.9v19.2M425.3 567.9h19.2M434.9 558.3v19.2M478.3 567.9h19.2M487.9 558.3v19.2M410.0 568.1h19.2M419.6 558.5v19.2M472.9 566.9h19.2M482.5 557.3v19.2M469.0 566.2h19.2M478.6 556.6v19.2M445.2 567.6h19.2M454.8 558.0v19.2M471.5 565.3h19.2M481.1 555.7v19.2M447.7 565.9h19.2M457.3 556.3v19.2M457.8 564.8h19.2M467.4 555.2v19.2M445.3 569.3h19.2M454.9 559.7v19.2M405.7 566.1h19.2M415.3 556.5v19.2M435.8 566.1h19.2M445.4 556.5v19.2M458.0 564.1h19.2M467.6 554.5v19.2" fill="none" stroke="#1f77b4" stroke-width="2.55"/>
<path d="M352.3 592.4L379.5 589.1L396.0 584.2L429.0 582.5L452.1 587.5L471.9 592.4L471.9 607.3L462.0 613.9L369.6 613.9L352.3 608.9Z" fill="#1f77b4" stroke="#1f77b4" stroke-width="0" stroke-linejoin="round"/>
<path d="M346.7 601.3h19.2M356.3 591.7v19.2M352.8 596.3h19.2M362.4 586.7v19.2M356.0 597.0h19.2M365.6 587.4v19.2M364.8 598.4h19.2M374.4 588.8v19.2M369.2 594.3h19.2M378.8 584.7v19.2M375.7 593.4h19.2M385.3 583.8v19.2M378.6 594.3h19.2M388.2 584.7v19.2M386.1 590.9h19.2M395.7 581.3v19.2M390.9 592.7h19.2M400.5 583.1v19.2M396.0 589.4h19.2M405.6 579.8v19.2M398.4 590.5h19.2M408.0 580.9v19.2M402.7 588.9h19.2M412.3 579.3v19.2M409.8 588.6h19.2M419.4 579.0v19.2M410.5 588.1h19.2M420.1 578.5v19.2M418.9 592.1h19.2M428.5 582.5v19.2M419.6 588.7h19.2M429.2 579.1v19.2M423.8 590.9h19.2M433.4 581.3v19.2M430.1 591.3h19.2M439.7 581.7v19.2M434.8 594.8h19.2M444.4 585.2v19.2M440.1 597.1h19.2M449.7 587.5v19.2M443.8 598.0h19.2M453.4 588.4v19.2M449.6 596.5h19.2M459.2 586.9v19.2M451.0 595.9h19.2M460.6 586.3v19.2M460.0 600.5h19.2M469.6 590.9v19.2M457.0 596.5h19.2M466.6 586.9v19.2M455.9 601.2h19.2M465.5 591.6v19.2M455.0 603.8h19.2M464.6 594.2v19.2M453.4 602.8h19.2M463.0 593.2v19.2M449.7 609.6h19.2M459.3 600.0v19.2M450.2 605.6h19.2M459.8 596.0v19.2M445.0 606.8h19.2M454.6 597.2v19.2M437.5 606.2h19.2M447.1 596.6v19.2M436.2 606.8h19.2M445.8 597.2v19.2M429.8 607.4h19.2M439.4 597.8v19.2M426.2 604.5h19.2M435.8 594.9v19.2M418.0 603.8h19.2M427.6 594.2v19.2M412.9 606.3h19.2M422.5 596.7v19.2M406.6 605.7h19.2M416.2 596.1v19.2M401.7 604.2h19.2M411.3 594.6v19.2M398.6 607.8h19.2M408.2 598.2v19.2M394.2 604.3h19.2M403.8 594.7v19.2M388.7 606.8h19.2M398.3 597.2v19.2M384.5 604.8h19.2M394.1 595.2v19.2M380.5 604.4h19.2M390.1 594.8v19.2M374.6 607.7h19.2M384.2 598.1v19.2M368.9 606.6h19.2M378.5 597.0v19.2M362.1 605.0h19.2M371.7 595.4v19.2M360.3 605.1h19.2M369.9 595.5v19.2M357.8 604.7h19.2M367.4 595.1v19.2M350.3 605.5h19.2M359.9 595.9v19.2M345.0 601.2h19.2M354.6 591.6v19.2M348.8 606.3h19.2M358.4 596.7v19.2M352.1 600.5h19.2M361.7 590.9v19.2M348.1 594.1h19.2M357.7 584.5v19.2" fill="none" stroke="#1f77b4" stroke-width="2.55"/>
<path d="M363.0 678.2L376.2 681.5L386.1 688.1L399.3 681.5L409.2 674.9L422.4 674.9L429.0 683.2L432.3 691.4L422.4 696.4L409.2 693.1L396.0 699.7L386.1 698.0L372.9 694.7L363.0 688.1Z" fill="#1f77b4" stroke="#1f77b4" stroke-width="0" stroke-linejoin="round"/>
<path d="M356.3 687.5h19.2M365.9 677.9v19.2M364.0 689.7h19.2M373.6 680.1v19.2M366.9 687.9h19.2M376.5 678.3v19.2M369.5 690.9h19.2M379.1 681.3v19.2M381.4 695.1h19.2M391.0 685.5v19.2M384.6 689.8h19.2M394.2 680.2v19.2M388.7 690.0h19.2M398.3 680.4v19.2M396.2 686.7h19.2M405.8 677.1v19.2M401.3 684.8h19.2M410.9 675.2v19.2M403.7 684.6h19.2M413.3 675.0v19.2M408.2 681.9h19.2M417.8 672.3v19.2M410.4 684.5h19.2M420.0 674.9v19.2M405.8 681.7h19.2M415.4 672.1v19.2M413.7 686.5h19.2M423.3 676.9v19.2M412.2 686.1h19.2M421.8 676.5v19.2M415.8 690.3h19.2M425.4 680.7v19.2M417.6 686.0h19.2M427.2 676.4v19.2M410.2 688.0h19.2M419.8 678.4v19.2M411.5 686.7h19.2M421.1 677.1v19.2M408.3 688.2h19.2M417.9 678.6v19.2M404.2 686.3h19.2M413.8 676.7v19.2M393.9 687.0h19.2M403.5 677.4v19.2M388.1 691.2h19.2M397.7 681.6v19.2M385.7 693.3h19.2M395.3 683.7v19.2M384.9 691.3h19.2M394.5 681.7v19.2M379.3 691.0h19.2M388.9 681.4v19.2M377.6 691.2h19.2M387.2 681.6v19.2M372.3 690.8h19.2M381.9 681.2v19.2M365.7 686.4h19.2M375.3 676.8v19.2M364.1 683.4h19.2M373.7 673.8v19.2M360.7 685.0h19.2M370.3 675.4v19.2M360.5 685.7h19.2M370.1 676.1v19.2M358.8 681.1h19.2M368.4 671.5v19.2" fill="none" stroke="#1f77b4" stroke-width="2.55"/>
<path d="M394.9 728.0h19.2M404.5 718.4v19.2M395.5 733.1h19.2M405.1 723.5v19.2M386.2 739.0h19.2M395.8 729.4v19.2M380.9 727.6h19.2M390.5 718.0v19.2M405.5 738.6h19.2M415.1 729.0v19.2M378.5 726.6h19.2M388.1 717.0v19.2M392.2 721.2h19.2M401.8 711.6v19.2M401.6 735.6h19.2M411.2 726.0v19.2M385.5 726.5h19.2M395.1 716.9v19.2M377.9 722.2h19.2M387.5 712.6v19.2M394.4 733.2h19.2M404.0 723.6v19.2M406.0 741.3h19.2M415.6 731.7v19.2M401.2 734.3h19.2M410.8 724.7v19.2M380.0 730.0h19.2M389.6 720.4v19.2M408.3 740.7h19.2M417.9 731.1v19.2M405.8 724.2h19.2M415.4 714.6v19.2M395.3 734.3h19.2M404.9 724.7v19.2M405.6 741.4h19.2M415.2 731.8v19.2M408.5 730.8h19.2M418.1 721.2v19.2M407.2 730.0h19.2M416.8 720.4v19.2M389.0 731.7h19.2M398.6 722.1v19.2M379.7 742.7h19.2M389.3 733.1v19.2M409.7 730.8h19.2M419.3 721.2v19.2M386.4 740.5h19.2M396.0 730.9v19.2M378.8 728.6h19.2M388.4 719.0v19.2" fill="none" stroke="#1f77b4" stroke-width="2.55"/>
</g>
<clipPath id="cp12"><rect x="1065.6" y="463.8" width="448.4" height="458.8"/></clipPath>
<g clip-path="url(#cp12)">
<path d="M1081.3 921.9L1073.0 916.2L1066.4 907.1L1073.0 898.0L1069.7 873.3L1069.7 856.8L1073.0 832.0L1078.0 815.5L1079.6 799.0L1079.6 779.2L1087.9 766.0L1097.8 762.7L1114.3 761.1L1130.8 764.4L1147.3 762.7L1162.1 766.0L1172.0 774.3L1188.5 766.0L1198.4 766.0L1205.0 772.6L1208.3 792.4L1211.6 807.3L1218.2 818.8L1229.8 822.1L1240.0 830.4L1249.9 825.4L1256.5 825.4L1261.5 835.3L1273.0 838.6L1281.3 832.0L1289.5 837.0L1289.5 865.0L1286.2 881.5L1289.5 919.5L1240.0 921.9L1172.0 921.9L1106.0 922.4Z" fill="#1f77b4" stroke="#1f77b4" stroke-width="0" stroke-linejoin="round"/>
<path d="M1075.1 915.5h19.2M1084.7 905.9v19.2M1068.7 908.9h19.2M1078.3 899.3v19.2M1067.3 911.0h19.2M1076.9 901.4v19.2M1065.8 901.6h19.2M1075.4 892.0v19.2M1064.9 906.1h19.2M1074.5 896.5v19.2M1068.6 903.2h19.2M1078.2 893.6v19.2M1071.4 895.7h19.2M1081.0 886.1v19.2M1072.8 888.5h19.2M1082.4 878.9v19.2M1069.2 883.7h19.2M1078.8 874.1v19.2M1070.1 877.2h19.2M1079.7 867.6v19.2M1068.3 870.6h19.2M1077.9 861.0v19.2M1068.9 862.8h19.2M1078.5 853.2v19.2M1070.3 859.5h19.2M1079.9 849.9v19.2M1070.9 854.5h19.2M1080.5 844.9v19.2M1070.8 847.8h19.2M1080.4 838.2v19.2M1068.4 842.0h19.2M1078.0 832.4v19.2M1073.2 835.9h19.2M1082.8 826.3v19.2M1074.9 830.9h19.2M1084.5 821.3v19.2M1075.2 828.0h19.2M1084.8 818.4v19.2M1072.5 821.8h19.2M1082.1 812.2v19.2M1075.1 816.0h19.2M1084.7 806.4v19.2M1078.8 809.7h19.2M1088.4 800.1v19.2M1079.9 802.7h19.2M1089.5 793.1v19.2M1076.5 796.6h19.2M1086.1 787.0v19.2M1076.7 790.5h19.2M1086.3 780.9v19.2M1080.6 780.7h19.2M1090.2 771.1v19.2M1078.8 781.3h19.2M1088.4 771.7v19.2M1082.2 777.3h19.2M1091.8 767.7v19.2M1086.3 772.0h19.2M1095.9 762.4v19.2M1083.1 773.2h19.2M1092.7 763.6v19.2M1087.6 769.8h19.2M1097.2 760.2v19.2M1089.6 772.6h19.2M1099.2 763.0v19.2M1096.7 768.5h19.2M1106.3 758.9v19.2M1100.0 767.4h19.2M1109.6 757.8v19.2M1105.3 770.0h19.2M1114.9 760.4v19.2M1113.3 772.6h19.2M1122.9 763.0v19.2M1116.2 772.3h19.2M1125.8 762.7v19.2M1121.9 770.9h19.2M1131.5 761.3v19.2M1129.9 772.3h19.2M1139.5 762.7v19.2M1136.9 773.3h19.2M1146.5 763.7v19.2M1137.8 770.7h19.2M1147.4 761.1v19.2M1141.8 770.9h19.2M1151.4 761.3v19.2M1146.3 774.9h19.2M1155.9 765.3v19.2M1149.3 776.1h19.2M1158.9 766.5v19.2M1152.5 776.7h19.2M1162.1 767.1v19.2M1169.1 778.6h19.2M1178.7 769.0v19.2M1173.5 775.3h19.2M1183.1 765.7v19.2M1180.9 774.9h19.2M1190.5 765.3v19.2M1182.1 771.9h19.2M1191.7 762.3v19.2M1186.6 773.6h19.2M1196.2 764.0v19.2M1181.9 774.4h19.2M1191.5 764.8v19.2M1187.2 777.7h19.2M1196.8 768.1v19.2M1185.8 777.6h19.2M1195.4 768.0v19.2M1188.6 781.6h19.2M1198.2 772.0v19.2M1191.9 791.5h19.2M1201.5 781.9v19.2M1190.8 794.9h19.2M1200.4 785.3v19.2M1190.4 802.2h19.2M1200.0 792.6v19.2M1194.9 807.0h19.2M1204.5 797.4v19.2M1194.4 814.1h19.2M1204.0 804.5v19.2M1199.5 817.6h19.2M1209.1 808.0v19.2M1208.0 827.8h19.2M1217.6 818.2v19.2M1216.7 827.9h19.2M1226.3 818.3v19.2M1216.0 831.8h19.2M1225.6 822.2v19.2M1222.3 836.9h19.2M1231.9 827.3v19.2M1238.4 835.8h19.2M1248.0 826.2v19.2M1240.0 833.8h19.2M1249.6 824.2v19.2M1243.8 835.8h19.2M1253.4 826.2v19.2M1238.8 831.2h19.2M1248.4 821.6v19.2M1243.8 834.7h19.2M1253.4 825.1v19.2M1250.0 842.8h19.2M1259.6 833.2v19.2M1260.1 845.9h19.2M1269.7 836.3v19.2M1269.8 841.4h19.2M1279.4 831.8v19.2M1274.1 840.9h19.2M1283.7 831.3v19.2M1268.0 838.2h19.2M1277.6 828.6v19.2M1275.9 841.8h19.2M1285.5 832.2v19.2M1270.9 841.4h19.2M1280.5 831.8v19.2M1273.3 843.9h19.2M1282.9 834.3v19.2M1271.3 851.9h19.2M1280.9 842.3v19.2M1270.0 855.7h19.2M1279.6 846.1v19.2M1269.4 862.5h19.2M1279.0 852.9v19.2M1271.7 865.3h19.2M1281.3 855.7v19.2M1270.7 873.7h19.2M1280.3 864.1v19.2M1267.3 878.3h19.2M1276.9 868.7v19.2M1268.2 886.4h19.2M1277.8 876.8v19.2M1271.1 893.9h19.2M1280.7 884.3v19.2M1268.1 901.1h19.2M1277.7 891.5v19.2M1272.8 903.2h19.2M1282.4 893.6v19.2M1269.0 914.0h19.2M1278.6 904.4v19.2M1269.0 918.1h19.2M1278.6 908.5v19.2M1278.6 912.2h19.2M1288.2 902.6v19.2M1270.9 913.3h19.2M1280.5 903.7v19.2M1265.9 910.0h19.2M1275.5 900.4v19.2M1257.8 912.7h19.2M1267.4 903.1v19.2M1252.2 911.5h19.2M1261.8 901.9v19.2M1244.2 913.5h19.2M1253.8 903.9v19.2M1241.8 914.0h19.2M1251.4 904.4v19.2M1234.4 915.1h19.2M1244.0 905.5v19.2M1226.8 911.3h19.2M1236.4 901.7v19.2M1220.6 916.0h19.2M1230.2 906.4v19.2M1217.2 911.4h19.2M1226.8 901.8v19.2M1205.8 914.3h19.2M1215.4 904.7v19.2M1202.9 914.9h19.2M1212.5 905.3v19.2M1195.3 911.5h19.2M1204.9 901.9v19.2M1189.7 912.6h19.2M1199.3 903.0v19.2M1187.1 911.8h19.2M1196.7 902.2v19.2M1177.5 916.0h19.2M1187.1 906.4v19.2M1172.7 912.4h19.2M1182.3 902.8v19.2M1167.3 912.1h19.2M1176.9 902.5v19.2M1158.7 912.9h19.2M1168.3 903.3v19.2M1151.0 911.6h19.2M1160.6 902.0v19.2M1148.5 915.6h19.2M1158.1 906.0v19.2M1140.2 912.5h19.2M1149.8 902.9v19.2M1136.7 914.3h19.2M1146.3 904.7v19.2M1127.3 915.6h19.2M1136.9 906.0v19.2M1125.7 911.6h19.2M1135.3 902.0v19.2M1120.3 915.5h19.2M1129.9 905.9v19.2M1114.2 914.3h19.2M1123.8 904.7v19.2M1104.2 915.5h19.2M1113.8 905.9v19.2M1101.6 914.1h19.2M1111.2 904.5v19.2M1095.3 913.8h19.2M1104.9 904.2v19.2M1087.7 915.2h19.2M1097.3 905.6v19.2M1079.1 915.0h19.2M1088.7 905.4v19.2M1074.5 916.1h19.2M1084.1 906.5v19.2" fill="none" stroke="#1f77b4" stroke-width="2.55"/>
<path d="M1284.6 894.2h19.2M1294.2 884.6v19.2M1300.6 895.4h19.2M1310.2 885.8v19.2M1304.0 883.7h19.2M1313.6 874.1v19.2M1284.3 908.4h19.2M1293.9 898.8v19.2M1289.3 892.1h19.2M1298.9 882.5v19.2M1301.5 896.5h19.2M1311.1 886.9v19.2M1302.2 888.9h19.2M1311.8 879.3v19.2M1288.8 878.7h19.2M1298.4 869.1v19.2M1286.8 898.3h19.2M1296.4 888.7v19.2M1285.9 905.4h19.2M1295.5 895.8v19.2M1296.7 877.2h19.2M1306.3 867.6v19.2M1297.1 895.7h19.2M1306.7 886.1v19.2M1286.2 887.4h19.2M1295.8 877.8v19.2M1288.8 874.2h19.2M1298.4 864.6v19.2M1288.5 892.6h19.2M1298.1 883.0v19.2M1289.0 877.0h19.2M1298.6 867.4v19.2M1304.6 885.7h19.2M1314.2 876.1v19.2M1284.7 894.4h19.2M1294.3 884.8v19.2M1296.5 876.5h19.2M1306.1 866.9v19.2M1282.7 887.8h19.2M1292.3 878.2v19.2M1304.9 903.6h19.2M1314.5 894.0v19.2M1294.0 895.6h19.2M1303.6 886.0v19.2M1283.2 912.2h19.2M1292.8 902.6v19.2M1290.4 874.8h19.2M1300.0 865.2v19.2M1284.4 910.4h19.2M1294.0 900.8v19.2M1296.6 908.7h19.2M1306.2 899.1v19.2M1304.3 879.4h19.2M1313.9 869.8v19.2M1294.3 875.2h19.2M1303.9 865.6v19.2M1306.5 879.4h19.2M1316.1 869.8v19.2M1307.2 892.2h19.2M1316.8 882.6v19.2M1303.7 897.9h19.2M1313.3 888.3v19.2M1306.9 894.7h19.2M1316.5 885.1v19.2M1304.1 887.9h19.2M1313.7 878.3v19.2M1290.4 905.8h19.2M1300.0 896.2v19.2M1281.5 907.3h19.2M1291.1 897.7v19.2M1298.1 896.0h19.2M1307.7 886.4v19.2M1291.4 900.5h19.2M1301.0 890.9v19.2M1292.8 869.3h19.2M1302.4 859.7v19.2M1289.8 901.3h19.2M1299.4 891.7v19.2M1293.9 889.0h19.2M1303.5 879.4v19.2M1284.1 862.4h19.2M1293.7 852.8v19.2M1293.6 886.7h19.2M1303.2 877.1v19.2M1292.1 901.2h19.2M1301.7 891.6v19.2M1287.6 876.2h19.2M1297.2 866.6v19.2M1307.5 898.2h19.2M1317.1 888.6v19.2M1295.3 908.8h19.2M1304.9 899.2v19.2M1301.1 887.3h19.2M1310.7 877.7v19.2M1278.2 880.2h19.2M1287.8 870.6v19.2M1292.0 903.0h19.2M1301.6 893.4v19.2M1280.5 888.3h19.2M1290.1 878.7v19.2" fill="none" stroke="#1f77b4" stroke-width="2.55"/>
<path d="M1317.8 891.1h19.2M1327.4 881.5v19.2M1323.1 889.3h19.2M1332.7 879.7v19.2M1317.5 892.9h19.2M1327.1 883.3v19.2M1319.2 889.5h19.2M1328.8 879.9v19.2M1319.7 885.0h19.2M1329.3 875.4v19.2M1325.2 887.8h19.2M1334.8 878.2v19.2M1326.5 885.3h19.2M1336.1 875.7v19.2M1328.2 884.2h19.2M1337.8 874.6v19.2M1319.2 888.2h19.2M1328.8 878.6v19.2M1327.5 883.8h19.2M1337.1 874.2v19.2" fill="none" stroke="#1f77b4" stroke-width="2.55"/>
<path d="M1349.3 895.2h19.2M1358.9 885.6v19.2M1347.8 876.5h19.2M1357.4 866.9v19.2M1366.3 884.1h19.2M1375.9 874.5v19.2M1371.0 881.2h19.2M1380.6 871.6v19.2M1336.8 879.1h19.2M1346.4 869.5v19.2M1356.6 893.6h19.2M1366.2 884.0v19.2M1336.6 879.3h19.2M1346.2 869.7v19.2M1339.4 869.0h19.2M1349.0 859.4v19.2M1368.2 894.2h19.2M1377.8 884.6v19.2M1358.3 886.2h19.2M1367.9 876.6v19.2M1364.1 869.4h19.2M1373.7 859.8v19.2M1346.4 879.3h19.2M1356.0 869.7v19.2M1335.5 889.6h19.2M1345.1 880.0v19.2M1356.7 868.5h19.2M1366.3 858.9v19.2M1348.0 870.6h19.2M1357.6 861.0v19.2M1367.2 869.9h19.2M1376.8 860.3v19.2M1347.5 895.0h19.2M1357.1 885.4v19.2M1364.7 900.5h19.2M1374.3 890.9v19.2M1346.6 897.5h19.2M1356.2 887.9v19.2M1355.2 898.3h19.2M1364.8 888.7v19.2M1344.7 886.6h19.2M1354.3 877.0v19.2M1360.0 896.7h19.2M1369.6 887.1v19.2M1346.2 880.2h19.2M1355.8 870.6v19.2M1359.2 869.7h19.2M1368.8 860.1v19.2M1356.8 880.8h19.2M1366.4 871.2v19.2M1363.3 899.0h19.2M1372.9 889.4v19.2M1349.0 879.6h19.2M1358.6 870.0v19.2M1360.9 883.8h19.2M1370.5 874.2v19.2M1354.2 890.2h19.2M1363.8 880.6v19.2M1358.1 891.6h19.2M1367.7 882.0v19.2M1341.8 895.5h19.2M1351.4 885.9v19.2M1351.5 873.0h19.2M1361.1 863.4v19.2M1337.4 895.3h19.2M1347.0 885.7v19.2M1339.1 892.7h19.2M1348.7 883.1v19.2M1361.0 867.8h19.2M1370.6 858.2v19.2M1344.7 893.7h19.2M1354.3 884.1v19.2M1355.6 893.0h19.2M1365.2 883.4v19.2M1354.3 898.5h19.2M1363.9 888.9v19.2M1358.6 887.3h19.2M1368.2 877.7v19.2M1370.7 899.9h19.2M1380.3 890.3v19.2M1361.0 900.6h19.2M1370.6 891.0v19.2M1355.7 898.1h19.2M1365.3 888.5v19.2M1347.1 880.5h19.2M1356.7 870.9v19.2M1371.5 900.8h19.2M1381.1 891.2v19.2M1343.5 876.2h19.2M1353.1 866.6v19.2M1352.9 898.6h19.2M1362.5 889.0v19.2M1373.2 889.8h19.2M1382.8 880.2v19.2M1363.6 900.3h19.2M1373.2 890.7v19.2M1336.6 900.3h19.2M1346.2 890.7v19.2M1369.2 897.2h19.2M1378.8 887.6v19.2M1365.8 881.3h19.2M1375.4 871.7v19.2M1367.8 893.0h19.2M1377.4 883.4v19.2M1351.0 886.1h19.2M1360.6 876.5v19.2M1372.0 871.5h19.2M1381.6 861.9v19.2M1346.0 899.5h19.2M1355.6 889.9v19.2" fill="none" stroke="#1f77b4" stroke-width="2.55"/>
<path d="M1419.0 900.2h19.2M1428.6 890.6v19.2M1399.8 899.1h19.2M1409.4 889.5v19.2M1418.5 887.1h19.2M1428.1 877.5v19.2M1411.4 891.5h19.2M1421.0 881.9v19.2M1437.6 887.0h19.2M1447.2 877.4v19.2M1412.1 887.3h19.2M1421.7 877.7v19.2M1407.9 881.9h19.2M1417.5 872.3v19.2M1437.9 893.8h19.2M1447.5 884.2v19.2M1401.7 888.7h19.2M1411.3 879.1v19.2M1416.3 890.9h19.2M1425.9 881.3v19.2M1440.2 903.8h19.2M1449.8 894.2v19.2M1444.5 891.4h19.2M1454.1 881.8v19.2M1422.9 890.6h19.2M1432.5 881.0v19.2M1420.8 894.2h19.2M1430.4 884.6v19.2M1417.2 903.4h19.2M1426.8 893.8v19.2M1424.5 893.1h19.2M1434.1 883.5v19.2M1419.6 902.4h19.2M1429.2 892.8v19.2M1424.8 885.7h19.2M1434.4 876.1v19.2M1397.4 898.0h19.2M1407.0 888.4v19.2M1427.1 901.2h19.2M1436.7 891.6v19.2M1436.8 885.1h19.2M1446.4 875.5v19.2M1437.2 897.3h19.2M1446.8 887.7v19.2M1419.2 888.5h19.2M1428.8 878.9v19.2M1420.9 885.7h19.2M1430.5 876.1v19.2M1427.9 886.1h19.2M1437.5 876.5v19.2M1432.9 880.9h19.2M1442.5 871.3v19.2M1428.6 894.3h19.2M1438.2 884.7v19.2M1448.4 892.5h19.2M1458.0 882.9v19.2M1423.2 889.5h19.2M1432.8 879.9v19.2M1395.0 888.7h19.2M1404.6 879.1v19.2M1422.6 890.5h19.2M1432.2 880.9v19.2M1425.5 884.6h19.2M1435.1 875.0v19.2M1412.7 889.1h19.2M1422.3 879.5v19.2M1401.5 884.0h19.2M1411.1 874.4v19.2M1430.1 898.4h19.2M1439.7 888.8v19.2M1430.3 882.8h19.2M1439.9 873.2v19.2M1435.3 890.7h19.2M1444.9 881.1v19.2M1408.3 904.3h19.2M1417.9 894.7v19.2M1435.9 898.2h19.2M1445.5 888.6v19.2M1413.7 884.6h19.2M1423.3 875.0v19.2M1436.1 893.8h19.2M1445.7 884.2v19.2M1435.8 884.1h19.2M1445.4 874.5v19.2M1431.4 886.5h19.2M1441.0 876.9v19.2M1406.0 901.3h19.2M1415.6 891.7v19.2M1429.2 905.1h19.2M1438.8 895.5v19.2M1431.8 901.7h19.2M1441.4 892.1v19.2M1428.0 901.6h19.2M1437.6 892.0v19.2M1436.6 892.4h19.2M1446.2 882.8v19.2M1447.6 898.2h19.2M1457.2 888.6v19.2M1407.2 893.9h19.2M1416.8 884.3v19.2M1449.3 896.7h19.2M1458.9 887.1v19.2M1405.6 886.0h19.2M1415.2 876.4v19.2M1429.8 880.7h19.2M1439.4 871.1v19.2M1396.4 899.3h19.2M1406.0 889.7v19.2M1439.5 890.2h19.2M1449.1 880.6v19.2M1406.3 897.1h19.2M1415.9 887.5v19.2M1425.7 887.4h19.2M1435.3 877.8v19.2M1397.9 899.5h19.2M1407.5 889.9v19.2M1406.7 897.7h19.2M1416.3 888.1v19.2M1432.1 883.5h19.2M1441.7 873.9v19.2M1425.0 903.0h19.2M1434.6 893.4v19.2M1413.9 901.0h19.2M1423.5 891.4v19.2M1447.0 903.0h19.2M1456.6 893.4v19.2M1440.4 892.7h19.2M1450.0 883.1v19.2M1412.8 900.3h19.2M1422.4 890.7v19.2M1448.1 896.8h19.2M1457.7 887.2v19.2M1418.7 888.6h19.2M1428.3 879.0v19.2M1410.9 886.8h19.2M1420.5 877.2v19.2M1411.6 883.1h19.2M1421.2 873.5v19.2M1441.1 900.2h19.2M1450.7 890.6v19.2M1447.9 894.2h19.2M1457.5 884.6v19.2M1440.8 888.9h19.2M1450.4 879.3v19.2M1433.7 879.7h19.2M1443.3 870.1v19.2M1399.9 902.1h19.2M1409.5 892.5v19.2M1426.2 903.3h19.2M1435.8 893.7v19.2M1438.6 892.1h19.2M1448.2 882.5v19.2M1399.9 898.7h19.2M1409.5 889.1v19.2M1426.5 882.3h19.2M1436.1 872.7v19.2M1406.9 896.3h19.2M1416.5 886.7v19.2M1405.2 896.7h19.2M1414.8 887.1v19.2M1435.9 897.7h19.2M1445.5 888.1v19.2M1418.5 902.9h19.2M1428.1 893.3v19.2M1409.2 903.7h19.2M1418.8 894.1v19.2M1439.7 883.8h19.2M1449.3 874.2v19.2M1411.3 894.5h19.2M1420.9 884.9v19.2M1419.3 891.4h19.2M1428.9 881.8v19.2M1398.4 894.5h19.2M1408.0 884.9v19.2M1414.3 892.8h19.2M1423.9 883.2v19.2M1435.2 884.2h19.2M1444.8 874.6v19.2M1412.2 884.8h19.2M1421.8 875.2v19.2M1417.9 895.3h19.2M1427.5 885.7v19.2M1426.8 893.2h19.2M1436.4 883.6v19.2M1400.2 898.0h19.2M1409.8 888.4v19.2M1439.6 896.9h19.2M1449.2 887.3v19.2M1405.2 885.8h19.2M1414.8 876.2v19.2" fill="none" stroke="#1f77b4" stroke-width="2.55"/>
<path d="M1361.3 724.3h19.2M1370.9 714.7v19.2M1409.1 772.1h19.2M1418.7 762.5v19.2M1369.8 808.9h19.2M1379.4 799.3v19.2M1268.4 789.1h19.2M1278.0 779.5v19.2M1262.6 803.1h19.2M1272.2 793.5v19.2M1237.0 812.2h19.2M1246.6 802.6v19.2M1260.1 822.9h19.2M1269.7 813.3v19.2M1274.1 828.7h19.2M1283.7 819.1v19.2M1299.7 847.7h19.2M1309.3 838.1v19.2M1308.0 849.3h19.2M1317.6 839.7v19.2M1319.5 838.6h19.2M1329.1 829.0v19.2M1324.5 841.9h19.2M1334.1 832.3v19.2M1364.1 838.6h19.2M1373.7 829.0v19.2M1370.7 841.9h19.2M1380.3 832.3v19.2M1377.3 845.2h19.2M1386.9 835.6v19.2M1388.8 848.5h19.2M1398.4 838.9v19.2M1403.2 851.0h19.2M1412.8 841.4v19.2M1385.5 856.8h19.2M1395.1 847.2v19.2M1336.0 868.3h19.2M1345.6 858.7v19.2M1349.2 868.3h19.2M1358.8 858.7v19.2M1374.0 868.3h19.2M1383.6 858.7v19.2M1378.9 866.7h19.2M1388.5 857.1v19.2M1327.8 906.3h19.2M1337.4 896.7v19.2M1360.8 911.2h19.2M1370.4 901.6v19.2M1380.6 913.7h19.2M1390.2 904.1v19.2M1428.4 874.9h19.2M1438.0 865.3v19.2M1434.2 876.6h19.2M1443.8 867.0v19.2M1454.0 893.1h19.2M1463.6 883.5v19.2M1234.5 752.8h19.2M1244.1 743.2v19.2M1232.9 755.3h19.2M1242.5 745.7v19.2" fill="none" stroke="#1f77b4" stroke-width="2.55"/>
<path d="M1377.7 675.6h19.2M1387.3 666.0v19.2" fill="none" stroke="#1f77b4" stroke-width="2.55"/>
<path d="M1225.9 707.4h19.2M1235.5 697.8v19.2M1183.9 712.4h19.2M1193.5 702.8v19.2M1186.3 726.4h19.2M1195.9 716.8v19.2M1166.5 740.4h19.2M1176.1 730.8v19.2M1183.9 744.6h19.2M1193.5 735.0v19.2M1193.8 749.5h19.2M1203.4 739.9v19.2M1222.6 749.5h19.2M1232.2 739.9v19.2M1223.5 812.2h19.2M1233.1 802.6v19.2M1220.2 782.5h19.2M1229.8 772.9v19.2M1226.8 772.6h19.2M1236.4 763.0v19.2M1211.9 777.6h19.2M1221.5 768.0v19.2M1216.9 792.4h19.2M1226.5 782.8v19.2M1205.3 782.5h19.2M1214.9 772.9v19.2M1175.6 754.5h19.2M1185.2 744.9v19.2M1155.8 754.5h19.2M1165.4 744.9v19.2M1145.9 744.6h19.2M1155.5 735.0v19.2M1136.0 757.8h19.2M1145.6 748.2v19.2M1077.4 761.1h19.2M1087.0 751.5v19.2M1078.3 754.5h19.2M1087.9 744.9v19.2M1070.0 777.6h19.2M1079.6 768.0v19.2M1065.9 789.1h19.2M1075.5 779.5v19.2M1116.2 756.1h19.2M1125.8 746.5v19.2M1104.7 747.9h19.2M1114.3 738.3v19.2M1093.1 751.2h19.2M1102.7 741.6v19.2M1084.9 742.9h19.2M1094.5 733.3v19.2M1152.5 739.6h19.2M1162.1 730.0v19.2M1142.6 736.3h19.2M1152.2 726.7v19.2" fill="none" stroke="#1f77b4" stroke-width="2.55"/>
<path d="M1079.6 718.2L1106.0 719.8L1119.2 709.9L1125.8 716.5L1147.3 719.8L1155.5 726.4L1147.3 734.7L1106.0 736.3L1081.3 733.0L1073.0 724.8Z" fill="#1f77b4" stroke="#1f77b4" stroke-width="0" stroke-linejoin="round"/>
<path d="M1073.5 726.4h19.2M1083.1 716.8v19.2M1077.0 724.6h19.2M1086.6 715.0v19.2M1080.3 726.0h19.2M1089.9 716.4v19.2M1088.6 728.4h19.2M1098.2 718.8v19.2M1091.2 726.5h19.2M1100.8 716.9v19.2M1102.8 726.9h19.2M1112.4 717.3v19.2M1107.2 721.3h19.2M1116.8 711.7v19.2M1113.4 717.3h19.2M1123.0 707.7v19.2M1103.2 716.3h19.2M1112.8 706.7v19.2M1107.4 719.1h19.2M1117.0 709.5v19.2M1117.6 726.3h19.2M1127.2 716.7v19.2M1124.9 726.3h19.2M1134.5 716.7v19.2M1128.5 724.1h19.2M1138.1 714.5v19.2M1132.4 728.5h19.2M1142.0 718.9v19.2M1133.5 728.1h19.2M1143.1 718.5v19.2M1139.7 729.1h19.2M1149.3 719.5v19.2M1137.0 721.5h19.2M1146.6 711.9v19.2M1132.4 728.5h19.2M1142.0 718.9v19.2M1136.2 724.5h19.2M1145.8 714.9v19.2M1130.2 728.2h19.2M1139.8 718.6v19.2M1125.7 728.8h19.2M1135.3 719.2v19.2M1121.7 728.3h19.2M1131.3 718.7v19.2M1114.6 726.0h19.2M1124.2 716.4v19.2M1107.9 728.0h19.2M1117.5 718.4v19.2M1101.5 730.0h19.2M1111.1 720.4v19.2M1098.5 726.2h19.2M1108.1 716.6v19.2M1097.1 730.4h19.2M1106.7 720.8v19.2M1091.5 729.7h19.2M1101.1 720.1v19.2M1085.2 726.5h19.2M1094.8 716.9v19.2M1077.6 726.8h19.2M1087.2 717.2v19.2M1072.7 727.1h19.2M1082.3 717.5v19.2M1077.2 726.7h19.2M1086.8 717.1v19.2M1069.9 719.6h19.2M1079.5 710.0v19.2M1069.9 729.1h19.2M1079.5 719.5v19.2M1074.4 723.2h19.2M1084.0 713.6v19.2" fill="none" stroke="#1f77b4" stroke-width="2.55"/>
<path d="M1101.0 740.0h19.2M1110.6 730.4v19.2M1138.3 759.2h19.2M1147.9 749.6v19.2M1135.3 743.4h19.2M1144.9 733.8v19.2M1119.4 761.8h19.2M1129.0 752.2v19.2M1122.8 736.0h19.2M1132.4 726.4v19.2M1144.2 741.0h19.2M1153.8 731.4v19.2M1135.1 738.7h19.2M1144.7 729.1v19.2M1124.8 736.5h19.2M1134.4 726.9v19.2M1167.9 759.5h19.2M1177.5 749.9v19.2M1107.4 741.8h19.2M1117.0 732.2v19.2M1098.6 756.8h19.2M1108.2 747.2v19.2M1153.4 746.8h19.2M1163.0 737.2v19.2M1125.5 758.7h19.2M1135.1 749.1v19.2M1170.5 768.5h19.2M1180.1 758.9v19.2M1081.7 740.6h19.2M1091.3 731.0v19.2M1114.0 740.8h19.2M1123.6 731.2v19.2M1143.3 757.8h19.2M1152.9 748.2v19.2M1083.1 755.5h19.2M1092.7 745.9v19.2M1089.5 745.1h19.2M1099.1 735.5v19.2M1151.2 754.6h19.2M1160.8 745.0v19.2M1155.8 749.6h19.2M1165.4 740.0v19.2M1110.2 751.6h19.2M1119.8 742.0v19.2M1167.2 764.1h19.2M1176.8 754.5v19.2M1125.8 748.8h19.2M1135.4 739.2v19.2M1119.9 745.3h19.2M1129.5 735.7v19.2M1085.2 753.1h19.2M1094.8 743.5v19.2M1099.7 740.3h19.2M1109.3 730.7v19.2M1096.8 740.8h19.2M1106.4 731.2v19.2" fill="none" stroke="#1f77b4" stroke-width="2.55"/>
<path d="M1122.0 520.6h19.2M1131.6 511.0v19.2M1126.9 520.6h19.2M1136.5 511.0v19.2M1107.1 636.5h19.2M1116.7 626.9v19.2M1152.5 636.5h19.2M1162.1 626.9v19.2M1093.1 673.3h19.2M1102.7 663.7v19.2M1175.6 684.8h19.2M1185.2 675.2v19.2M1172.3 695.5h19.2M1181.9 685.9v19.2M1074.1 566.0h19.2M1083.7 556.4v19.2M1098.9 558.6h19.2M1108.5 549.0v19.2M1118.7 557.8h19.2M1128.3 548.2v19.2M1136.0 566.0h19.2M1145.6 556.4v19.2M1141.0 566.0h19.2M1150.6 556.4v19.2M1139.3 574.3h19.2M1148.9 564.7v19.2M1132.7 577.6h19.2M1142.3 568.0v19.2M1203.7 600.7h19.2M1213.3 591.1v19.2M1215.2 600.7h19.2M1224.8 591.1v19.2M1216.9 604.8h19.2M1226.5 595.2v19.2M1183.0 586.6h19.2M1192.6 577.0v19.2M1079.9 689.8h19.2M1089.5 680.2v19.2M1075.0 706.3h19.2M1084.6 696.7v19.2M1079.9 703.0h19.2M1089.5 693.4v19.2" fill="none" stroke="#1f77b4" stroke-width="2.55"/>
<path d="M1087.9 557.8L1132.4 556.1L1139.0 566.0L1139.0 574.3L1119.2 575.9L1097.8 577.6L1087.9 572.6Z" fill="#1f77b4" stroke="#1f77b4" stroke-width="0" stroke-linejoin="round"/>
<path d="M1080.5 567.2h19.2M1090.1 557.6v19.2M1088.2 565.8h19.2M1097.8 556.2v19.2M1089.9 564.1h19.2M1099.5 554.5v19.2M1094.6 564.0h19.2M1104.2 554.4v19.2M1102.3 563.6h19.2M1111.9 554.0v19.2M1107.1 564.3h19.2M1116.7 554.7v19.2M1108.3 563.9h19.2M1117.9 554.3v19.2M1115.4 565.0h19.2M1125.0 555.4v19.2M1119.3 562.8h19.2M1128.9 553.2v19.2M1115.9 562.1h19.2M1125.5 552.5v19.2M1118.6 566.4h19.2M1128.2 556.8v19.2M1120.9 568.3h19.2M1130.5 558.7v19.2M1120.7 571.8h19.2M1130.3 562.2v19.2M1125.4 566.1h19.2M1135.0 556.5v19.2M1119.7 565.0h19.2M1129.3 555.4v19.2M1116.5 570.2h19.2M1126.1 560.6v19.2M1113.0 569.8h19.2M1122.6 560.2v19.2M1106.4 570.1h19.2M1116.0 560.5v19.2M1100.1 567.5h19.2M1109.7 557.9v19.2M1094.7 570.8h19.2M1104.3 561.2v19.2M1089.9 567.4h19.2M1099.5 557.8v19.2M1088.1 569.5h19.2M1097.7 559.9v19.2M1087.2 566.7h19.2M1096.8 557.1v19.2M1085.7 569.4h19.2M1095.3 559.8v19.2M1088.1 563.6h19.2M1097.7 554.0v19.2M1085.5 561.8h19.2M1095.1 552.2v19.2" fill="none" stroke="#1f77b4" stroke-width="2.55"/>
<path d="M1082.1 590.8L1106.0 589.1L1114.3 582.5L1139.0 585.8L1180.3 590.8L1191.8 587.5L1205.0 594.1L1205.0 607.3L1188.5 612.2L1139.0 613.9L1082.9 612.2L1075.5 601.5Z" fill="#1f77b4" stroke="#1f77b4" stroke-width="0" stroke-linejoin="round"/>
<path d="M1075.8 595.6h19.2M1085.4 586.0v19.2M1080.2 599.7h19.2M1089.8 590.1v19.2M1083.9 598.0h19.2M1093.5 588.4v19.2M1090.7 598.7h19.2M1100.3 589.1v19.2M1096.2 597.6h19.2M1105.8 588.0v19.2M1102.9 590.9h19.2M1112.5 581.3v19.2M1107.5 592.5h19.2M1117.1 582.9v19.2M1106.7 589.2h19.2M1116.3 579.6v19.2M1110.5 590.7h19.2M1120.1 581.1v19.2M1115.7 589.4h19.2M1125.3 579.8v19.2M1121.1 591.8h19.2M1130.7 582.2v19.2M1123.5 594.4h19.2M1133.1 584.8v19.2M1129.7 591.3h19.2M1139.3 581.7v19.2M1138.5 596.3h19.2M1148.1 586.7v19.2M1139.8 596.7h19.2M1149.4 587.1v19.2M1148.6 594.2h19.2M1158.2 584.6v19.2M1153.4 594.2h19.2M1163.0 584.6v19.2M1158.6 596.3h19.2M1168.2 586.7v19.2M1160.4 599.4h19.2M1170.0 589.8v19.2M1166.7 598.6h19.2M1176.3 589.0v19.2M1175.5 599.3h19.2M1185.1 589.7v19.2M1183.9 597.1h19.2M1193.5 587.5v19.2M1180.5 597.1h19.2M1190.1 587.5v19.2M1184.1 599.8h19.2M1193.7 590.2v19.2M1191.1 598.3h19.2M1200.7 588.7v19.2M1186.7 596.5h19.2M1196.3 586.9v19.2M1186.4 599.6h19.2M1196.0 590.0v19.2M1186.6 605.9h19.2M1196.2 596.3v19.2M1190.1 601.1h19.2M1199.7 591.5v19.2M1184.6 602.8h19.2M1194.2 593.2v19.2M1179.3 604.4h19.2M1188.9 594.8v19.2M1177.5 605.5h19.2M1187.1 595.9v19.2M1171.1 606.3h19.2M1180.7 596.7v19.2M1166.0 607.4h19.2M1175.6 597.8v19.2M1162.8 606.4h19.2M1172.4 596.8v19.2M1158.7 607.7h19.2M1168.3 598.1v19.2M1151.5 605.0h19.2M1161.1 595.4v19.2M1145.7 603.5h19.2M1155.3 593.9v19.2M1142.0 605.4h19.2M1151.6 595.8v19.2M1138.5 607.2h19.2M1148.1 597.6v19.2M1133.8 604.1h19.2M1143.4 594.5v19.2M1125.8 605.1h19.2M1135.4 595.5v19.2M1119.9 604.7h19.2M1129.5 595.1v19.2M1114.6 604.2h19.2M1124.2 594.6v19.2M1113.6 606.4h19.2M1123.2 596.8v19.2M1107.2 605.4h19.2M1116.8 595.8v19.2M1100.2 604.6h19.2M1109.8 595.0v19.2M1096.9 604.3h19.2M1106.5 594.7v19.2M1089.0 607.3h19.2M1098.6 597.7v19.2M1088.1 606.0h19.2M1097.7 596.4v19.2M1082.9 603.3h19.2M1092.5 593.7v19.2M1074.3 606.2h19.2M1083.9 596.6v19.2M1079.2 607.8h19.2M1088.8 598.2v19.2M1077.1 603.3h19.2M1086.7 593.7v19.2M1072.1 597.4h19.2M1081.7 587.8v19.2M1074.2 603.8h19.2M1083.8 594.2v19.2M1076.9 602.8h19.2M1086.5 593.2v19.2M1076.3 597.4h19.2M1085.9 587.8v19.2" fill="none" stroke="#1f77b4" stroke-width="2.55"/>
<path d="M1129.3 686.6h19.2M1138.9 677.0v19.2M1128.1 685.6h19.2M1137.7 676.0v19.2M1141.5 688.7h19.2M1151.1 679.1v19.2M1102.0 686.9h19.2M1111.6 677.3v19.2M1099.5 690.2h19.2M1109.1 680.6v19.2M1142.8 691.6h19.2M1152.4 682.0v19.2M1126.9 686.6h19.2M1136.5 677.0v19.2M1109.2 687.5h19.2M1118.8 677.9v19.2M1121.5 689.1h19.2M1131.1 679.5v19.2M1148.9 688.9h19.2M1158.5 679.3v19.2M1138.7 690.8h19.2M1148.3 681.2v19.2M1084.8 684.9h19.2M1094.4 675.3v19.2M1126.5 691.6h19.2M1136.1 682.0v19.2M1143.7 686.4h19.2M1153.3 676.8v19.2M1087.7 690.8h19.2M1097.3 681.2v19.2M1099.4 686.7h19.2M1109.0 677.1v19.2M1089.8 686.8h19.2M1099.4 677.2v19.2M1148.3 681.3h19.2M1157.9 671.7v19.2M1103.5 692.2h19.2M1113.1 682.6v19.2M1136.6 690.1h19.2M1146.2 680.5v19.2M1135.4 689.6h19.2M1145.0 680.0v19.2M1114.4 687.0h19.2M1124.0 677.4v19.2M1131.6 687.8h19.2M1141.2 678.2v19.2M1134.3 689.3h19.2M1143.9 679.7v19.2M1135.1 688.1h19.2M1144.7 678.5v19.2M1087.8 684.3h19.2M1097.4 674.7v19.2M1083.0 689.7h19.2M1092.6 680.1v19.2M1120.0 687.8h19.2M1129.6 678.2v19.2M1107.9 690.9h19.2M1117.5 681.3v19.2M1121.7 691.0h19.2M1131.3 681.4v19.2M1096.5 691.5h19.2M1106.1 681.9v19.2M1107.2 686.4h19.2M1116.8 676.8v19.2M1138.9 689.9h19.2M1148.5 680.3v19.2M1093.3 693.6h19.2M1102.9 684.0v19.2M1124.4 692.4h19.2M1134.0 682.8v19.2M1139.7 689.5h19.2M1149.3 679.9v19.2M1104.4 689.0h19.2M1114.0 679.4v19.2M1117.0 690.1h19.2M1126.6 680.5v19.2M1122.5 691.9h19.2M1132.1 682.3v19.2M1146.7 682.0h19.2M1156.3 672.4v19.2M1122.0 688.1h19.2M1131.6 678.5v19.2M1130.5 691.7h19.2M1140.1 682.1v19.2M1122.4 692.3h19.2M1132.0 682.7v19.2M1085.5 687.7h19.2M1095.1 678.1v19.2M1150.9 682.4h19.2M1160.5 672.8v19.2M1130.9 687.7h19.2M1140.5 678.1v19.2M1096.2 684.8h19.2M1105.8 675.2v19.2M1115.2 689.2h19.2M1124.8 679.6v19.2M1120.4 688.5h19.2M1130.0 678.9v19.2M1136.7 689.7h19.2M1146.3 680.1v19.2M1128.3 689.1h19.2M1137.9 679.5v19.2M1099.6 691.7h19.2M1109.2 682.1v19.2M1143.4 688.9h19.2M1153.0 679.3v19.2M1153.1 683.9h19.2M1162.7 674.3v19.2M1152.2 682.9h19.2M1161.8 673.3v19.2M1144.7 690.6h19.2M1154.3 681.0v19.2M1090.2 693.0h19.2M1099.8 683.4v19.2M1104.0 689.6h19.2M1113.6 680.0v19.2M1141.0 684.5h19.2M1150.6 674.9v19.2M1097.4 693.1h19.2M1107.0 683.5v19.2" fill="none" stroke="#1f77b4" stroke-width="2.55"/>
</g>
<clipPath id="cp20"><rect x="114.5" y="933.8" width="487.0" height="460.5"/></clipPath>
<g clip-path="url(#cp20)">
<path d="M198.0 1224.5L226.0 1219.5L245.8 1203.0L259.0 1208.0L275.5 1203.0L300.3 1203.0L316.8 1199.7L330.0 1189.8L346.5 1194.8L363.0 1189.8L371.3 1203.0L387.8 1216.2L404.3 1219.5L412.5 1239.3L442.2 1241.0L448.8 1242.6L453.8 1255.8L465.3 1259.1L473.6 1262.4L475.2 1275.6L478.5 1288.8L488.4 1292.1L498.3 1297.1L504.9 1302.0L508.2 1315.2L516.5 1321.8L518.1 1331.7L523.1 1338.3L524.7 1348.2L523.1 1359.8L526.4 1368.0L519.8 1376.3L511.5 1379.6L503.3 1382.9L486.8 1387.8L467.0 1389.5L445.5 1390.3L429.0 1391.1L404.3 1392.8L387.8 1389.5L363.0 1386.2L339.9 1385.3L399.3 1391.1L382.8 1386.2L358.0 1386.2L333.3 1384.5L316.8 1381.2L300.3 1384.5L287.1 1391.1L267.3 1386.2L250.8 1386.2L234.3 1384.5L226.0 1377.9L222.7 1364.7L212.8 1354.8L202.9 1348.2L194.7 1341.6L191.4 1328.4L196.3 1318.5L193.0 1302.0L191.4 1285.5L193.0 1269.0L188.1 1252.5L189.7 1239.3Z" fill="#1f77b4" stroke="#1f77b4" stroke-width="0" stroke-linejoin="round"/>
<path d="M191.8 1230.4h19.2M201.4 1220.8v19.2M199.5 1228.7h19.2M209.1 1219.1v19.2M205.8 1228.9h19.2M215.4 1219.3v19.2M210.8 1228.3h19.2M220.4 1218.7v19.2M215.1 1227.1h19.2M224.7 1217.5v19.2M225.5 1221.9h19.2M235.1 1212.3v19.2M228.7 1223.0h19.2M238.3 1213.4v19.2M234.9 1213.6h19.2M244.5 1204.0v19.2M238.4 1211.4h19.2M248.0 1201.8v19.2M233.9 1212.6h19.2M243.5 1203.0v19.2M244.3 1216.6h19.2M253.9 1207.0v19.2M252.6 1214.9h19.2M262.2 1205.3v19.2M260.4 1211.1h19.2M270.0 1201.5v19.2M266.7 1210.6h19.2M276.3 1201.0v19.2M265.9 1210.5h19.2M275.5 1200.9v19.2M277.7 1210.6h19.2M287.3 1201.0v19.2M280.3 1209.3h19.2M289.9 1199.7v19.2M286.8 1209.2h19.2M296.4 1199.6v19.2M292.5 1211.9h19.2M302.1 1202.3v19.2M302.1 1208.6h19.2M311.7 1199.0v19.2M308.5 1207.9h19.2M318.1 1198.3v19.2M314.2 1204.7h19.2M323.8 1195.1v19.2M320.5 1200.2h19.2M330.1 1190.6v19.2M322.1 1197.5h19.2M331.7 1187.9v19.2M320.6 1199.1h19.2M330.2 1189.5v19.2M325.3 1202.1h19.2M334.9 1192.5v19.2M329.3 1200.8h19.2M338.9 1191.2v19.2M339.6 1201.9h19.2M349.2 1192.3v19.2M350.2 1202.0h19.2M359.8 1192.4v19.2M352.3 1199.5h19.2M361.9 1189.9v19.2M349.0 1193.9h19.2M358.6 1184.3v19.2M348.7 1199.0h19.2M358.3 1189.4v19.2M352.0 1206.4h19.2M361.6 1196.8v19.2M360.5 1210.7h19.2M370.1 1201.1v19.2M360.1 1214.0h19.2M369.7 1204.4v19.2M364.7 1218.1h19.2M374.3 1208.5v19.2M370.1 1222.5h19.2M379.7 1212.9v19.2M377.6 1223.8h19.2M387.2 1214.2v19.2M387.3 1224.5h19.2M396.9 1214.9v19.2M390.4 1226.7h19.2M400.0 1217.1v19.2M390.4 1226.7h19.2M400.0 1217.1v19.2M392.0 1230.2h19.2M401.6 1220.6v19.2M392.7 1234.6h19.2M402.3 1225.0v19.2M392.4 1238.9h19.2M402.0 1229.3v19.2M405.0 1248.9h19.2M414.6 1239.3v19.2M413.7 1246.2h19.2M423.3 1236.6v19.2M419.7 1251.0h19.2M429.3 1241.4v19.2M423.1 1246.3h19.2M432.7 1236.7v19.2M427.9 1246.9h19.2M437.5 1237.3v19.2M432.0 1248.2h19.2M441.6 1238.6v19.2M434.8 1248.5h19.2M444.4 1238.9v19.2M436.4 1258.3h19.2M446.0 1248.7v19.2M444.0 1261.8h19.2M453.6 1252.2v19.2M450.6 1267.9h19.2M460.2 1258.3v19.2M459.5 1270.2h19.2M469.1 1260.6v19.2M458.7 1266.7h19.2M468.3 1257.1v19.2M454.4 1273.0h19.2M464.0 1263.4v19.2M456.2 1279.2h19.2M465.8 1269.6v19.2M459.4 1288.7h19.2M469.0 1279.1v19.2M468.8 1297.0h19.2M478.4 1287.4v19.2M474.7 1300.7h19.2M484.3 1291.1v19.2M478.8 1298.5h19.2M488.4 1288.9v19.2M482.8 1301.9h19.2M492.4 1292.3v19.2M484.2 1304.2h19.2M493.8 1294.6v19.2M485.4 1307.2h19.2M495.0 1297.6v19.2M487.6 1313.0h19.2M497.2 1303.4v19.2M493.9 1322.4h19.2M503.5 1312.8v19.2M500.6 1324.3h19.2M510.2 1314.7v19.2M498.4 1323.7h19.2M508.0 1314.1v19.2M502.6 1332.0h19.2M512.2 1322.4v19.2M501.5 1339.0h19.2M511.1 1329.4v19.2M504.9 1343.0h19.2M514.5 1333.4v19.2M507.9 1347.1h19.2M517.5 1337.5v19.2M508.8 1350.2h19.2M518.4 1340.6v19.2M507.9 1358.1h19.2M517.5 1348.5v19.2M505.7 1363.3h19.2M515.3 1353.7v19.2M510.7 1363.7h19.2M520.3 1354.1v19.2M504.8 1370.3h19.2M514.4 1360.7v19.2M502.0 1372.0h19.2M511.6 1362.4v19.2M491.7 1377.1h19.2M501.3 1367.5v19.2M488.3 1377.4h19.2M497.9 1367.8v19.2M483.8 1378.2h19.2M493.4 1368.6v19.2M479.6 1375.9h19.2M489.2 1366.3v19.2M471.8 1378.4h19.2M481.4 1368.8v19.2M469.8 1379.1h19.2M479.4 1369.5v19.2M459.1 1382.6h19.2M468.7 1373.0v19.2M456.6 1380.2h19.2M466.2 1370.6v19.2M449.5 1382.2h19.2M459.1 1372.6v19.2M441.3 1379.9h19.2M450.9 1370.3v19.2M439.8 1380.5h19.2M449.4 1370.9v19.2M435.4 1383.1h19.2M445.0 1373.5v19.2M429.9 1381.4h19.2M439.5 1371.8v19.2M423.4 1382.6h19.2M433.0 1373.0v19.2M417.1 1384.4h19.2M426.7 1374.8v19.2M408.1 1384.9h19.2M417.7 1375.3v19.2M402.6 1383.5h19.2M412.2 1373.9v19.2M394.7 1386.1h19.2M404.3 1376.5v19.2M395.9 1383.3h19.2M405.5 1373.7v19.2M389.1 1381.7h19.2M398.7 1372.1v19.2M383.2 1384.2h19.2M392.8 1374.6v19.2M373.8 1379.2h19.2M383.4 1369.6v19.2M367.3 1377.1h19.2M376.9 1367.5v19.2M365.4 1381.7h19.2M375.0 1372.1v19.2M359.1 1379.8h19.2M368.7 1370.2v19.2M349.2 1376.7h19.2M358.8 1367.1v19.2M346.7 1376.7h19.2M356.3 1367.1v19.2M340.1 1375.1h19.2M349.7 1365.5v19.2M331.4 1379.1h19.2M341.0 1369.5v19.2M389.6 1383.1h19.2M399.2 1373.5v19.2M383.7 1378.2h19.2M393.3 1368.6v19.2M380.8 1378.1h19.2M390.4 1368.5v19.2M368.3 1376.8h19.2M377.9 1367.2v19.2M362.0 1377.5h19.2M371.6 1367.9v19.2M355.7 1377.4h19.2M365.3 1367.8v19.2M349.2 1375.6h19.2M358.8 1366.0v19.2M348.7 1377.3h19.2M358.3 1367.7v19.2M336.7 1377.8h19.2M346.3 1368.2v19.2M336.4 1377.6h19.2M346.0 1368.0v19.2M326.7 1377.7h19.2M336.3 1368.1v19.2M319.8 1377.9h19.2M329.4 1368.3v19.2M318.5 1373.4h19.2M328.1 1363.8v19.2M312.6 1375.5h19.2M322.2 1365.9v19.2M304.2 1375.0h19.2M313.8 1365.4v19.2M295.6 1373.1h19.2M305.2 1363.5v19.2M292.9 1373.7h19.2M302.5 1364.1v19.2M281.5 1380.4h19.2M291.1 1370.8v19.2M276.8 1379.9h19.2M286.4 1370.3v19.2M277.9 1381.7h19.2M287.5 1372.1v19.2M266.7 1379.5h19.2M276.3 1369.9v19.2M264.7 1379.1h19.2M274.3 1369.5v19.2M254.5 1378.0h19.2M264.1 1368.4v19.2M251.0 1380.4h19.2M260.6 1370.8v19.2M242.1 1380.5h19.2M251.7 1370.9v19.2M238.1 1378.6h19.2M247.7 1369.0v19.2M234.6 1379.5h19.2M244.2 1369.9v19.2M227.7 1378.1h19.2M237.3 1368.5v19.2M229.4 1377.4h19.2M239.0 1367.8v19.2M223.6 1374.2h19.2M233.2 1364.6v19.2M223.7 1374.3h19.2M233.3 1364.7v19.2M223.9 1363.8h19.2M233.5 1354.2v19.2M215.8 1357.0h19.2M225.4 1347.4v19.2M214.0 1352.1h19.2M223.6 1342.5v19.2M205.8 1348.7h19.2M215.4 1339.1v19.2M199.9 1342.7h19.2M209.5 1333.1v19.2M196.6 1343.6h19.2M206.2 1334.0v19.2M193.6 1339.4h19.2M203.2 1329.8v19.2M193.3 1333.7h19.2M202.9 1324.1v19.2M193.2 1330.5h19.2M202.8 1320.9v19.2M190.6 1330.2h19.2M200.2 1320.6v19.2M191.7 1322.6h19.2M201.3 1313.0v19.2M196.4 1315.5h19.2M206.0 1305.9v19.2M194.7 1309.7h19.2M204.3 1300.1v19.2M191.2 1303.6h19.2M200.8 1294.0v19.2M191.9 1295.9h19.2M201.5 1286.3v19.2M190.0 1295.4h19.2M199.6 1285.8v19.2M192.7 1288.7h19.2M202.3 1279.1v19.2M188.9 1282.7h19.2M198.5 1273.1v19.2M188.8 1278.4h19.2M198.4 1268.8v19.2M191.3 1275.3h19.2M200.9 1265.7v19.2M189.9 1264.6h19.2M199.5 1255.0v19.2M189.7 1256.1h19.2M199.3 1246.5v19.2M187.5 1250.7h19.2M197.1 1241.1v19.2M189.2 1247.6h19.2M198.8 1238.0v19.2M189.0 1244.4h19.2M198.6 1234.8v19.2M186.0 1241.2h19.2M195.6 1231.6v19.2M189.8 1238.2h19.2M199.4 1228.6v19.2M193.0 1231.8h19.2M202.6 1222.2v19.2" fill="none" stroke="#1f77b4" stroke-width="2.55"/>
<path d="M352.9 1188.6h19.2M362.5 1179.0v19.2M226.7 1186.1h19.2M236.3 1176.5v19.2M340.9 1189.8h19.2M350.5 1180.2v19.2M192.2 1215.7h19.2M201.8 1206.1v19.2M340.2 1192.0h19.2M349.8 1182.4v19.2M370.7 1204.1h19.2M380.3 1194.5v19.2M309.3 1168.9h19.2M318.9 1159.3v19.2M348.6 1173.4h19.2M358.2 1163.8v19.2M412.2 1239.5h19.2M421.8 1229.9v19.2M180.6 1194.7h19.2M190.2 1185.1v19.2M381.7 1176.3h19.2M391.3 1166.7v19.2M281.4 1192.6h19.2M291.0 1183.0v19.2M237.2 1200.3h19.2M246.8 1190.7v19.2M365.7 1205.3h19.2M375.3 1195.7v19.2M238.7 1183.1h19.2M248.3 1173.5v19.2M431.3 1232.8h19.2M440.9 1223.2v19.2M379.7 1206.2h19.2M389.3 1196.6v19.2M422.2 1226.3h19.2M431.8 1216.7v19.2M319.1 1184.0h19.2M328.7 1174.4v19.2M362.0 1199.3h19.2M371.6 1189.7v19.2M262.4 1197.5h19.2M272.0 1187.9v19.2M298.9 1199.2h19.2M308.5 1189.6v19.2M306.7 1161.8h19.2M316.3 1152.2v19.2M190.7 1186.9h19.2M200.3 1177.3v19.2M367.9 1169.8h19.2M377.5 1160.2v19.2M336.2 1165.1h19.2M345.8 1155.5v19.2M263.1 1198.1h19.2M272.7 1188.5v19.2M235.4 1174.9h19.2M245.0 1165.3v19.2M216.5 1219.0h19.2M226.1 1209.4v19.2M277.5 1202.0h19.2M287.1 1192.4v19.2M200.1 1202.8h19.2M209.7 1193.2v19.2M339.5 1160.9h19.2M349.1 1151.3v19.2M412.4 1234.1h19.2M422.0 1224.5v19.2M238.0 1185.4h19.2M247.6 1175.8v19.2M282.0 1197.7h19.2M291.6 1188.1v19.2M279.4 1197.7h19.2M289.0 1188.1v19.2M380.9 1176.7h19.2M390.5 1167.1v19.2M391.0 1192.6h19.2M400.6 1183.0v19.2M366.3 1184.5h19.2M375.9 1174.9v19.2M251.5 1201.8h19.2M261.1 1192.2v19.2M200.9 1221.4h19.2M210.5 1211.8v19.2M248.8 1206.7h19.2M258.4 1197.1v19.2M322.1 1182.9h19.2M331.7 1173.3v19.2M421.5 1223.0h19.2M431.1 1213.4v19.2M407.3 1205.9h19.2M416.9 1196.3v19.2M391.6 1209.9h19.2M401.2 1200.3v19.2M399.5 1190.4h19.2M409.1 1180.8v19.2M409.3 1227.3h19.2M418.9 1217.7v19.2M333.8 1160.3h19.2M343.4 1150.7v19.2M408.1 1233.2h19.2M417.7 1223.6v19.2M233.2 1200.5h19.2M242.8 1190.9v19.2M421.5 1234.2h19.2M431.1 1224.6v19.2M390.0 1207.6h19.2M399.6 1198.0v19.2M235.3 1174.2h19.2M244.9 1164.6v19.2M349.6 1187.0h19.2M359.2 1177.4v19.2M392.5 1209.3h19.2M402.1 1199.7v19.2M333.7 1189.2h19.2M343.3 1179.6v19.2M217.8 1184.3h19.2M227.4 1174.7v19.2M392.3 1215.9h19.2M401.9 1206.3v19.2M324.1 1159.2h19.2M333.7 1149.6v19.2M277.1 1172.7h19.2M286.7 1163.1v19.2M368.8 1174.1h19.2M378.4 1164.5v19.2M291.6 1196.4h19.2M301.2 1186.8v19.2M430.8 1237.7h19.2M440.4 1228.1v19.2M233.4 1203.1h19.2M243.0 1193.5v19.2M376.0 1204.0h19.2M385.6 1194.4v19.2M318.5 1177.4h19.2M328.1 1167.8v19.2M362.0 1166.7h19.2M371.6 1157.1v19.2M359.0 1171.8h19.2M368.6 1162.2v19.2M318.3 1180.6h19.2M327.9 1171.0v19.2M303.2 1194.9h19.2M312.8 1185.3v19.2M265.7 1189.7h19.2M275.3 1180.1v19.2M409.2 1227.3h19.2M418.8 1217.7v19.2M439.1 1232.7h19.2M448.7 1223.1v19.2M260.5 1172.5h19.2M270.1 1162.9v19.2M252.6 1198.2h19.2M262.2 1188.6v19.2M387.4 1189.9h19.2M397.0 1180.3v19.2M270.7 1199.9h19.2M280.3 1190.3v19.2M317.9 1188.1h19.2M327.5 1178.5v19.2M230.2 1197.8h19.2M239.8 1188.2v19.2M298.0 1197.3h19.2M307.6 1187.7v19.2M243.0 1193.2h19.2M252.6 1183.6v19.2M215.5 1212.3h19.2M225.1 1202.7v19.2M243.6 1205.2h19.2M253.2 1195.6v19.2M339.3 1170.9h19.2M348.9 1161.3v19.2M313.1 1180.8h19.2M322.7 1171.2v19.2M319.9 1176.6h19.2M329.5 1167.0v19.2M284.4 1195.2h19.2M294.0 1185.6v19.2M247.7 1182.9h19.2M257.3 1173.3v19.2M346.2 1183.0h19.2M355.8 1173.4v19.2M348.4 1183.0h19.2M358.0 1173.4v19.2M378.6 1202.6h19.2M388.2 1193.0v19.2M359.4 1166.9h19.2M369.0 1157.3v19.2M324.8 1174.3h19.2M334.4 1164.7v19.2M199.6 1213.0h19.2M209.2 1203.4v19.2M190.5 1221.2h19.2M200.1 1211.6v19.2M224.6 1201.5h19.2M234.2 1191.9v19.2M371.9 1210.4h19.2M381.5 1200.8v19.2M255.1 1183.0h19.2M264.7 1173.4v19.2M175.4 1202.9h19.2M185.0 1193.3v19.2M337.8 1172.9h19.2M347.4 1163.3v19.2M286.2 1188.5h19.2M295.8 1178.9v19.2M265.1 1190.8h19.2M274.7 1181.2v19.2M403.0 1212.2h19.2M412.6 1202.6v19.2M299.0 1178.3h19.2M308.6 1168.7v19.2M224.8 1208.4h19.2M234.4 1198.8v19.2M248.9 1205.7h19.2M258.5 1196.1v19.2M331.1 1184.2h19.2M340.7 1174.6v19.2M307.5 1191.3h19.2M317.1 1181.7v19.2M343.8 1158.8h19.2M353.4 1149.2v19.2M218.7 1213.6h19.2M228.3 1204.0v19.2M206.4 1193.0h19.2M216.0 1183.4v19.2M435.6 1239.2h19.2M445.2 1229.6v19.2M209.0 1181.3h19.2M218.6 1171.7v19.2M212.5 1192.9h19.2M222.1 1183.3v19.2M360.2 1193.8h19.2M369.8 1184.2v19.2M213.4 1217.3h19.2M223.0 1207.7v19.2M365.5 1186.3h19.2M375.1 1176.7v19.2M380.2 1185.5h19.2M389.8 1175.9v19.2M228.8 1207.4h19.2M238.4 1197.8v19.2M350.3 1190.0h19.2M359.9 1180.4v19.2M433.7 1220.7h19.2M443.3 1211.1v19.2M409.3 1223.1h19.2M418.9 1213.5v19.2M404.0 1234.6h19.2M413.6 1225.0v19.2M414.4 1227.3h19.2M424.0 1217.7v19.2M284.2 1181.4h19.2M293.8 1171.8v19.2M283.8 1169.2h19.2M293.4 1159.6v19.2M186.9 1213.9h19.2M196.5 1204.3v19.2M368.6 1204.0h19.2M378.2 1194.4v19.2M225.4 1210.3h19.2M235.0 1200.7v19.2M253.2 1188.9h19.2M262.8 1179.3v19.2M386.3 1206.7h19.2M395.9 1197.1v19.2M393.1 1214.6h19.2M402.7 1205.0v19.2M189.3 1212.1h19.2M198.9 1202.5v19.2M293.0 1159.8h19.2M302.6 1150.2v19.2M234.5 1168.1h19.2M244.1 1158.5v19.2M307.9 1166.4h19.2M317.5 1156.8v19.2M395.5 1216.4h19.2M405.1 1206.8v19.2M309.9 1192.8h19.2M319.5 1183.2v19.2M273.4 1171.1h19.2M283.0 1161.5v19.2M313.2 1176.4h19.2M322.8 1166.8v19.2M235.4 1196.6h19.2M245.0 1187.0v19.2M339.4 1191.1h19.2M349.0 1181.5v19.2M210.5 1217.4h19.2M220.1 1207.8v19.2M399.8 1218.1h19.2M409.4 1208.5v19.2M350.1 1165.7h19.2M359.7 1156.1v19.2M319.1 1184.3h19.2M328.7 1174.7v19.2M298.4 1174.9h19.2M308.0 1165.3v19.2M331.0 1192.0h19.2M340.6 1182.4v19.2M190.7 1215.6h19.2M200.3 1206.0v19.2M382.1 1208.3h19.2M391.7 1198.7v19.2M277.2 1176.5h19.2M286.8 1166.9v19.2M301.2 1162.3h19.2M310.8 1152.7v19.2M391.7 1194.0h19.2M401.3 1184.4v19.2M311.5 1186.3h19.2M321.1 1176.7v19.2M406.7 1232.7h19.2M416.3 1223.1v19.2M370.2 1205.4h19.2M379.8 1195.8v19.2M368.7 1199.4h19.2M378.3 1189.8v19.2M267.7 1189.4h19.2M277.3 1179.8v19.2M305.2 1190.4h19.2M314.8 1180.8v19.2M329.4 1192.2h19.2M339.0 1182.6v19.2M295.5 1180.2h19.2M305.1 1170.6v19.2M258.7 1204.5h19.2M268.3 1194.9v19.2M312.8 1166.1h19.2M322.4 1156.5v19.2M418.0 1225.5h19.2M427.6 1215.9v19.2M292.4 1199.7h19.2M302.0 1190.1v19.2M205.2 1177.7h19.2M214.8 1168.1v19.2M247.2 1163.4h19.2M256.8 1153.8v19.2M281.9 1176.7h19.2M291.5 1167.1v19.2M239.8 1170.0h19.2M249.4 1160.4v19.2M216.8 1196.1h19.2M226.4 1186.5v19.2M188.3 1219.6h19.2M197.9 1210.0v19.2M330.8 1168.4h19.2M340.4 1158.8v19.2M423.4 1240.2h19.2M433.0 1230.6v19.2M339.5 1191.5h19.2M349.1 1181.9v19.2M397.7 1183.8h19.2M407.3 1174.2v19.2M392.3 1212.9h19.2M401.9 1203.3v19.2M308.9 1186.3h19.2M318.5 1176.7v19.2M239.4 1171.0h19.2M249.0 1161.4v19.2M202.4 1181.3h19.2M212.0 1171.7v19.2M366.9 1195.6h19.2M376.5 1186.0v19.2M332.6 1180.3h19.2M342.2 1170.7v19.2M297.0 1181.7h19.2M306.6 1172.1v19.2M361.3 1182.3h19.2M370.9 1172.7v19.2M295.5 1200.3h19.2M305.1 1190.7v19.2M358.3 1193.1h19.2M367.9 1183.5v19.2M224.6 1200.1h19.2M234.2 1190.5v19.2M410.8 1208.3h19.2M420.4 1198.7v19.2M322.9 1190.1h19.2M332.5 1180.5v19.2M226.2 1205.7h19.2M235.8 1196.1v19.2M180.3 1212.7h19.2M189.9 1203.1v19.2M281.4 1185.2h19.2M291.0 1175.6v19.2M189.5 1220.2h19.2M199.1 1210.6v19.2M370.8 1208.6h19.2M380.4 1199.0v19.2M248.3 1187.4h19.2M257.9 1177.8v19.2M286.5 1198.1h19.2M296.1 1188.5v19.2M429.2 1235.9h19.2M438.8 1226.3v19.2M433.5 1228.7h19.2M443.1 1219.1v19.2M203.5 1221.3h19.2M213.1 1211.7v19.2M394.7 1203.1h19.2M404.3 1193.5v19.2M199.7 1177.1h19.2M209.3 1167.5v19.2M410.3 1224.7h19.2M419.9 1215.1v19.2M381.2 1180.3h19.2M390.8 1170.7v19.2M256.0 1184.4h19.2M265.6 1174.8v19.2M416.4 1239.5h19.2M426.0 1229.9v19.2M356.1 1184.3h19.2M365.7 1174.7v19.2M399.8 1198.7h19.2M409.4 1189.1v19.2M193.3 1202.6h19.2M202.9 1193.0v19.2M323.5 1179.9h19.2M333.1 1170.3v19.2M394.7 1206.8h19.2M404.3 1197.2v19.2M300.7 1193.8h19.2M310.3 1184.2v19.2M305.6 1188.0h19.2M315.2 1178.4v19.2M269.2 1190.2h19.2M278.8 1180.6v19.2M283.1 1193.7h19.2M292.7 1184.1v19.2M245.0 1190.7h19.2M254.6 1181.1v19.2M386.2 1210.7h19.2M395.8 1201.1v19.2M264.8 1189.8h19.2M274.4 1180.2v19.2M206.6 1203.4h19.2M216.2 1193.8v19.2M358.7 1175.9h19.2M368.3 1166.3v19.2M409.9 1221.1h19.2M419.5 1211.5v19.2M214.4 1215.1h19.2M224.0 1205.5v19.2M279.4 1199.3h19.2M289.0 1189.7v19.2M261.2 1189.8h19.2M270.8 1180.2v19.2M410.1 1226.7h19.2M419.7 1217.1v19.2M369.5 1199.6h19.2M379.1 1190.0v19.2M293.5 1201.5h19.2M303.1 1191.9v19.2M323.2 1166.8h19.2M332.8 1157.2v19.2M286.6 1179.7h19.2M296.2 1170.1v19.2M370.3 1185.2h19.2M379.9 1175.6v19.2M295.3 1176.1h19.2M304.9 1166.5v19.2M364.9 1192.4h19.2M374.5 1182.8v19.2M378.9 1210.8h19.2M388.5 1201.2v19.2M224.2 1196.3h19.2M233.8 1186.7v19.2M359.5 1198.9h19.2M369.1 1189.3v19.2M345.3 1173.9h19.2M354.9 1164.3v19.2M276.6 1201.4h19.2M286.2 1191.8v19.2M378.6 1213.6h19.2M388.2 1204.0v19.2M389.8 1215.5h19.2M399.4 1205.9v19.2M211.1 1215.3h19.2M220.7 1205.7v19.2M430.1 1236.4h19.2M439.7 1226.8v19.2M385.2 1195.9h19.2M394.8 1186.3v19.2M216.0 1214.6h19.2M225.6 1205.0v19.2M430.4 1231.8h19.2M440.0 1222.2v19.2M433.1 1227.4h19.2M442.7 1217.8v19.2M180.9 1185.2h19.2M190.5 1175.6v19.2M343.1 1186.6h19.2M352.7 1177.0v19.2M187.7 1187.1h19.2M197.3 1177.5v19.2M378.6 1196.2h19.2M388.2 1186.6v19.2M416.7 1218.3h19.2M426.3 1208.7v19.2M225.5 1171.4h19.2M235.1 1161.8v19.2M374.4 1204.8h19.2M384.0 1195.2v19.2M247.1 1194.9h19.2M256.7 1185.3v19.2M380.4 1179.7h19.2M390.0 1170.1v19.2M344.8 1158.5h19.2M354.4 1148.9v19.2M293.3 1184.0h19.2M302.9 1174.4v19.2M426.2 1235.9h19.2M435.8 1226.3v19.2M255.2 1200.5h19.2M264.8 1190.9v19.2M288.5 1170.7h19.2M298.1 1161.1v19.2M215.8 1217.3h19.2M225.4 1207.7v19.2M320.2 1174.6h19.2M329.8 1165.0v19.2" fill="none" stroke="#1f77b4" stroke-width="2.55"/>
<path d="M196.6 992.2h19.2M206.2 982.6v19.2M225.0 989.7h19.2M234.6 980.1v19.2M236.2 983.9h19.2M245.8 974.3v19.2M261.8 995.5h19.2M271.4 985.9v19.2M270.0 995.5h19.2M279.6 985.9v19.2M286.5 998.8h19.2M296.1 989.2v19.2M295.6 1004.6h19.2M305.2 995.0v19.2M306.3 1003.7h19.2M315.9 994.1v19.2M247.8 1012.0h19.2M257.4 1002.4v19.2M257.7 1014.5h19.2M267.3 1004.9v19.2M265.9 1009.5h19.2M275.5 999.9v19.2M272.5 1014.5h19.2M282.1 1004.9v19.2M259.3 1021.1h19.2M268.9 1011.5v19.2M269.2 1021.1h19.2M278.8 1011.5v19.2M277.5 1026.0h19.2M287.1 1016.4v19.2M242.0 1031.8h19.2M251.6 1022.2v19.2M252.7 1040.0h19.2M262.3 1030.4v19.2M284.1 1040.0h19.2M293.7 1030.4v19.2M280.8 1032.6h19.2M290.4 1023.0v19.2M300.6 1026.0h19.2M310.2 1016.4v19.2M320.4 1021.1h19.2M330.0 1011.5v19.2M318.7 1026.0h19.2M328.3 1016.4v19.2M325.3 1032.6h19.2M334.9 1023.0v19.2M327.8 1039.2h19.2M337.4 1029.6v19.2M337.7 1035.9h19.2M347.3 1026.3v19.2M355.0 1037.2h19.2M364.6 1027.6v19.2M317.1 1045.8h19.2M326.7 1036.2v19.2M302.2 1049.9h19.2M311.8 1040.3v19.2M298.9 1057.4h19.2M308.5 1047.8v19.2M331.9 1054.1h19.2M341.5 1044.5v19.2M239.5 1051.6h19.2M249.1 1042.0v19.2M194.1 1059.8h19.2M203.7 1050.2v19.2M258.5 1065.6h19.2M268.1 1056.0v19.2M249.4 1077.2h19.2M259.0 1067.6v19.2M218.9 1079.6h19.2M228.5 1070.0v19.2M216.4 1085.4h19.2M226.0 1075.8v19.2M279.9 1065.6h19.2M289.5 1056.0v19.2M287.4 1065.6h19.2M297.0 1056.0v19.2M295.6 1067.3h19.2M305.2 1057.7v19.2M280.8 1075.5h19.2M290.4 1065.9v19.2M290.7 1078.8h19.2M300.3 1069.2v19.2M282.4 1085.4h19.2M292.0 1075.8v19.2M315.4 1072.2h19.2M325.0 1062.6v19.2M317.1 1077.2h19.2M326.7 1067.6v19.2M313.8 1080.5h19.2M323.4 1070.9v19.2M327.0 1073.9h19.2M336.6 1064.3v19.2M325.3 1085.4h19.2M334.9 1075.8v19.2M357.5 1063.1h19.2M367.1 1053.5v19.2M351.7 1068.9h19.2M361.3 1059.3v19.2M356.7 1078.8h19.2M366.3 1069.2v19.2M385.5 1062.6h19.2M395.1 1053.0v19.2M374.0 1082.9h19.2M383.6 1073.3v19.2M350.1 1090.4h19.2M359.7 1080.8v19.2M305.5 1092.0h19.2M315.1 1082.4v19.2M297.3 1098.6h19.2M306.9 1089.0v19.2M289.0 1100.3h19.2M298.6 1090.7v19.2M277.5 1097.0h19.2M287.1 1087.4v19.2M331.9 1098.6h19.2M341.5 1089.0v19.2M336.9 1101.9h19.2M346.5 1092.3v19.2M318.7 1108.5h19.2M328.3 1098.9v19.2M328.6 1113.5h19.2M338.2 1103.9v19.2M273.3 1113.5h19.2M282.9 1103.9v19.2M280.8 1122.5h19.2M290.4 1112.9v19.2M317.1 1120.1h19.2M326.7 1110.5v19.2M322.0 1125.0h19.2M331.6 1115.4v19.2M374.0 1115.9h19.2M383.6 1106.3v19.2M360.0 1121.7h19.2M369.6 1112.1v19.2M345.9 1125.0h19.2M355.5 1115.4v19.2M275.8 1133.3h19.2M285.4 1123.7v19.2M272.5 1139.0h19.2M282.1 1129.4v19.2M310.5 1134.9h19.2M320.1 1125.3v19.2M320.4 1139.9h19.2M330.0 1130.3v19.2M345.1 1139.9h19.2M354.7 1130.3v19.2M358.3 1139.9h19.2M367.9 1130.3v19.2M366.6 1141.5h19.2M376.2 1131.9v19.2M194.1 1139.0h19.2M203.7 1129.4v19.2M198.3 1144.8h19.2M207.9 1135.2v19.2M210.6 1147.3h19.2M220.2 1137.7v19.2M231.3 1135.7h19.2M240.9 1126.1v19.2M236.2 1149.8h19.2M245.8 1140.2v19.2M258.5 1149.8h19.2M268.1 1140.2v19.2M262.6 1153.1h19.2M272.2 1143.5v19.2M207.3 1158.0h19.2M216.9 1148.4v19.2M294.0 1151.4h19.2M303.6 1141.8v19.2M290.7 1158.0h19.2M300.3 1148.4v19.2M315.4 1149.8h19.2M325.0 1140.2v19.2M323.7 1158.0h19.2M333.3 1148.4v19.2M350.1 1153.1h19.2M359.7 1143.5v19.2M356.7 1158.0h19.2M366.3 1148.4v19.2M371.5 1153.1h19.2M381.1 1143.5v19.2M376.5 1153.1h19.2M386.1 1143.5v19.2M174.3 1167.1h19.2M183.9 1157.5v19.2M188.4 1172.9h19.2M198.0 1163.3v19.2M188.4 1177.8h19.2M198.0 1168.2v19.2M175.2 1178.6h19.2M184.8 1169.0v19.2M229.6 1166.3h19.2M239.2 1156.7v19.2M216.4 1172.9h19.2M226.0 1163.3v19.2M297.3 1166.3h19.2M306.9 1156.7v19.2M331.9 1166.3h19.2M341.5 1156.7v19.2M369.9 1166.3h19.2M379.5 1156.7v19.2M388.0 1172.9h19.2M397.6 1163.3v19.2M174.3 1195.1h19.2M183.9 1185.5v19.2M185.1 1197.6h19.2M194.7 1188.0v19.2M208.2 1191.0h19.2M217.8 1181.4v19.2M199.9 1199.3h19.2M209.5 1189.7v19.2" fill="none" stroke="#1f77b4" stroke-width="2.55"/>
<path d="M327.0 1090.8h19.2M336.6 1081.2v19.2M337.7 1099.0h19.2M347.3 1089.4v19.2M332.0 1107.3h19.2M341.6 1097.7v19.2M322.1 1122.1h19.2M331.7 1112.5v19.2M340.2 1170.0h19.2M349.8 1160.4v19.2M400.4 1175.7h19.2M410.0 1166.1v19.2M405.4 1175.7h19.2M415.0 1166.1v19.2M419.4 1175.7h19.2M429.0 1166.1v19.2M368.3 1174.9h19.2M377.9 1165.3v19.2M447.5 1192.6h19.2M457.1 1183.0v19.2M400.4 1193.1h19.2M410.0 1183.5v19.2M411.2 1201.3h19.2M420.8 1191.7v19.2M406.2 1209.6h19.2M415.8 1200.0v19.2M447.5 1215.3h19.2M457.1 1205.7v19.2M439.2 1217.8h19.2M448.8 1208.2v19.2M454.1 1229.4h19.2M463.7 1219.8v19.2M435.9 1231.0h19.2M445.5 1221.4v19.2M441.7 1244.2h19.2M451.3 1234.6v19.2" fill="none" stroke="#1f77b4" stroke-width="2.55"/>
<path d="M467.3 1259.1h19.2M476.9 1249.5v19.2M472.2 1264.1h19.2M481.8 1254.5v19.2M459.0 1255.8h19.2M468.6 1246.2v19.2M483.8 1288.5h19.2M493.4 1278.9v19.2M472.2 1282.2h19.2M481.8 1272.6v19.2M500.3 1307.0h19.2M509.9 1297.4v19.2M515.9 1339.1h19.2M525.5 1329.5v19.2M526.7 1353.2h19.2M536.3 1343.6v19.2M506.9 1333.4h19.2M516.5 1323.8v19.2" fill="none" stroke="#1f77b4" stroke-width="2.55"/>
<path d="M168.6 1241.0h19.2M178.2 1231.4v19.2M180.1 1302.8h19.2M189.7 1293.2v19.2M178.5 1277.3h19.2M188.1 1267.7v19.2M180.1 1335.0h19.2M189.7 1325.4v19.2M180.9 1328.4h19.2M190.5 1318.8v19.2M171.9 1178.3h19.2M181.5 1168.7v19.2M183.4 1206.3h19.2M193.0 1196.7v19.2M211.5 1372.1h19.2M221.1 1362.5v19.2M249.4 1387.8h19.2M259.0 1378.2v19.2M264.3 1387.8h19.2M273.9 1378.2v19.2M278.3 1391.9h19.2M287.9 1382.3v19.2M287.4 1387.8h19.2M297.0 1378.2v19.2M312.1 1386.2h19.2M321.7 1376.6v19.2M331.9 1386.2h19.2M341.5 1376.6v19.2" fill="none" stroke="#1f77b4" stroke-width="2.55"/>
</g>
<clipPath id="cp21"><rect x="617.0" y="933.8" width="440.0" height="460.5"/></clipPath>
<g clip-path="url(#cp21)">
<path d="M617.3 1153.5L654.5 1150.2L674.3 1170.0L689.1 1179.9L699.0 1194.8L702.3 1208.0L712.2 1219.5L715.5 1236.0L728.7 1249.2L732.0 1262.4L748.5 1269.0L758.4 1275.6L761.7 1288.8L768.3 1302.0L766.7 1318.5L763.4 1335.0L760.1 1351.5L758.4 1368.0L755.1 1377.9L745.2 1384.5L732.0 1384.5L722.1 1379.6L712.2 1382.9L699.0 1386.2L682.5 1389.5L666.0 1390.3L649.5 1390.3L633.0 1391.1L624.8 1390.3L617.3 1384.5L617.3 1269.0L617.3 1203.0Z" fill="#1f77b4" stroke="#1f77b4" stroke-width="0" stroke-linejoin="round"/>
<path d="M612.5 1160.3h19.2M622.1 1150.7v19.2M614.9 1162.6h19.2M624.5 1153.0v19.2M622.9 1162.9h19.2M632.5 1153.3v19.2M629.5 1157.9h19.2M639.1 1148.3v19.2M636.4 1157.0h19.2M646.0 1147.4v19.2M644.7 1158.9h19.2M654.3 1149.3v19.2M640.1 1159.7h19.2M649.7 1150.1v19.2M641.5 1161.6h19.2M651.1 1152.0v19.2M648.5 1165.1h19.2M658.1 1155.5v19.2M652.8 1168.5h19.2M662.4 1158.9v19.2M658.2 1175.7h19.2M667.8 1166.1v19.2M661.2 1176.3h19.2M670.8 1166.7v19.2M665.1 1181.9h19.2M674.7 1172.3v19.2M669.8 1185.5h19.2M679.4 1175.9v19.2M675.2 1186.9h19.2M684.8 1177.3v19.2M677.3 1194.5h19.2M686.9 1184.9v19.2M679.9 1195.6h19.2M689.5 1186.0v19.2M685.4 1202.4h19.2M695.0 1192.8v19.2M682.8 1203.6h19.2M692.4 1194.0v19.2M688.9 1216.5h19.2M698.5 1206.9v19.2M692.4 1219.9h19.2M702.0 1210.3v19.2M694.1 1220.5h19.2M703.7 1210.9v19.2M696.5 1222.6h19.2M706.1 1213.0v19.2M694.7 1227.0h19.2M704.3 1217.4v19.2M697.6 1232.9h19.2M707.2 1223.3v19.2M705.1 1244.0h19.2M714.7 1234.4v19.2M706.8 1251.7h19.2M716.4 1242.1v19.2M709.5 1251.1h19.2M719.1 1241.5v19.2M710.2 1255.3h19.2M719.8 1245.7v19.2M715.5 1259.2h19.2M725.1 1249.6v19.2M722.7 1269.7h19.2M732.3 1260.1v19.2M726.9 1274.5h19.2M736.5 1264.9v19.2M735.3 1275.6h19.2M744.9 1266.0v19.2M734.8 1278.4h19.2M744.4 1268.8v19.2M742.3 1282.6h19.2M751.9 1273.0v19.2M741.6 1280.1h19.2M751.2 1270.5v19.2M745.6 1288.2h19.2M755.2 1278.6v19.2M745.5 1295.4h19.2M755.1 1285.8v19.2M751.7 1304.7h19.2M761.3 1295.1v19.2M749.7 1306.7h19.2M759.3 1297.1v19.2M751.7 1308.8h19.2M761.3 1299.2v19.2M748.3 1314.9h19.2M757.9 1305.3v19.2M749.2 1320.4h19.2M758.8 1310.8v19.2M745.4 1322.7h19.2M755.0 1313.1v19.2M746.5 1333.5h19.2M756.1 1323.9v19.2M744.2 1336.7h19.2M753.8 1327.1v19.2M745.3 1340.6h19.2M754.9 1331.0v19.2M743.0 1344.7h19.2M752.6 1335.1v19.2M741.9 1351.5h19.2M751.5 1341.9v19.2M743.1 1358.7h19.2M752.7 1349.1v19.2M738.7 1365.1h19.2M748.3 1355.5v19.2M739.0 1368.1h19.2M748.6 1358.5v19.2M738.9 1375.2h19.2M748.5 1365.6v19.2M737.2 1374.8h19.2M746.8 1365.2v19.2M732.9 1375.2h19.2M742.5 1365.6v19.2M731.0 1374.2h19.2M740.6 1364.6v19.2M728.1 1376.1h19.2M737.7 1366.5v19.2M722.6 1376.2h19.2M732.2 1366.6v19.2M718.9 1371.2h19.2M728.5 1361.6v19.2M705.6 1373.8h19.2M715.2 1364.2v19.2M700.2 1373.9h19.2M709.8 1364.3v19.2M698.8 1377.5h19.2M708.4 1367.9v19.2M690.4 1378.4h19.2M700.0 1368.8v19.2M682.2 1376.6h19.2M691.8 1367.0v19.2M679.9 1379.1h19.2M689.5 1369.5v19.2M675.3 1382.1h19.2M684.9 1372.5v19.2M669.5 1378.9h19.2M679.1 1369.3v19.2M662.1 1380.5h19.2M671.7 1370.9v19.2M658.0 1383.1h19.2M667.6 1373.5v19.2M655.2 1380.5h19.2M664.8 1370.9v19.2M647.9 1381.3h19.2M657.5 1371.7v19.2M641.0 1383.3h19.2M650.6 1373.7v19.2M637.9 1381.8h19.2M647.5 1372.2v19.2M632.2 1382.2h19.2M641.8 1372.6v19.2M626.1 1381.1h19.2M635.7 1371.5v19.2M617.4 1383.2h19.2M627.0 1373.6v19.2M619.2 1380.9h19.2M628.8 1371.3v19.2M615.3 1377.2h19.2M624.9 1367.6v19.2M617.1 1378.7h19.2M626.7 1369.1v19.2M614.6 1373.7h19.2M624.2 1364.1v19.2M616.0 1369.9h19.2M625.6 1360.3v19.2M616.2 1365.5h19.2M625.8 1355.9v19.2M613.9 1357.9h19.2M623.5 1348.3v19.2M616.3 1348.8h19.2M625.9 1339.2v19.2M614.5 1344.3h19.2M624.1 1334.7v19.2M615.0 1339.2h19.2M624.6 1329.6v19.2M613.8 1331.2h19.2M623.4 1321.6v19.2M617.8 1326.7h19.2M627.4 1317.1v19.2M614.3 1319.5h19.2M623.9 1309.9v19.2M614.9 1315.2h19.2M624.5 1305.6v19.2M615.5 1308.3h19.2M625.1 1298.7v19.2M615.7 1305.3h19.2M625.3 1295.7v19.2M616.7 1296.1h19.2M626.3 1286.5v19.2M614.1 1292.1h19.2M623.7 1282.5v19.2M613.9 1285.6h19.2M623.5 1276.0v19.2M616.9 1278.8h19.2M626.5 1269.2v19.2M616.7 1273.2h19.2M626.3 1263.6v19.2M614.9 1265.8h19.2M624.5 1256.2v19.2M617.6 1259.0h19.2M627.2 1249.4v19.2M616.0 1251.1h19.2M625.6 1241.5v19.2M615.9 1249.1h19.2M625.5 1239.5v19.2M616.8 1240.1h19.2M626.4 1230.5v19.2M613.8 1236.1h19.2M623.4 1226.5v19.2M616.4 1228.2h19.2M626.0 1218.6v19.2M616.2 1225.3h19.2M625.8 1215.7v19.2M614.3 1217.6h19.2M623.9 1208.0v19.2M617.5 1209.0h19.2M627.1 1199.4v19.2M614.8 1207.2h19.2M624.4 1197.6v19.2M615.6 1197.0h19.2M625.2 1187.4v19.2M617.7 1194.8h19.2M627.3 1185.2v19.2M614.2 1189.6h19.2M623.8 1180.0v19.2M613.6 1181.3h19.2M623.2 1171.7v19.2M617.9 1173.2h19.2M627.5 1163.6v19.2M618.6 1168.2h19.2M628.2 1158.6v19.2M615.0 1162.3h19.2M624.6 1152.7v19.2M615.5 1159.1h19.2M625.1 1149.5v19.2" fill="none" stroke="#1f77b4" stroke-width="2.55"/>
<path d="M631.6 1061.6h19.2M641.2 1052.0v19.2M627.6 1091.5h19.2M637.2 1081.9v19.2M639.8 1019.0h19.2M649.4 1009.4v19.2M635.5 1050.5h19.2M645.1 1040.9v19.2M624.8 1078.0h19.2M634.4 1068.4v19.2M634.7 1102.3h19.2M644.3 1092.7v19.2M650.8 1156.5h19.2M660.4 1146.9v19.2M638.9 1018.2h19.2M648.5 1008.6v19.2M623.8 1030.4h19.2M633.4 1020.8v19.2M626.2 1108.0h19.2M635.8 1098.4v19.2M636.6 1040.6h19.2M646.2 1031.0v19.2M647.0 1113.5h19.2M656.6 1103.9v19.2M625.9 1119.8h19.2M635.5 1110.2v19.2M652.8 1158.3h19.2M662.4 1148.7v19.2M639.6 1151.3h19.2M649.2 1141.7v19.2M660.1 1096.9h19.2M669.7 1087.3v19.2M641.4 1034.5h19.2M651.0 1024.9v19.2M626.9 996.5h19.2M636.5 986.9v19.2M643.4 1063.8h19.2M653.0 1054.2v19.2M658.0 1150.1h19.2M667.6 1140.5v19.2M647.3 1097.0h19.2M656.9 1087.4v19.2M641.0 1017.4h19.2M650.6 1007.8v19.2M621.5 1079.6h19.2M631.1 1070.0v19.2M625.2 1156.3h19.2M634.8 1146.7v19.2M633.0 1154.3h19.2M642.6 1144.7v19.2M636.6 1070.9h19.2M646.2 1061.3v19.2M658.6 1097.3h19.2M668.2 1087.7v19.2M634.7 993.8h19.2M644.3 984.2v19.2M621.6 1161.2h19.2M631.2 1151.6v19.2M645.2 1115.6h19.2M654.8 1106.0v19.2M619.5 1158.4h19.2M629.1 1148.8v19.2M622.3 1155.4h19.2M631.9 1145.8v19.2M647.2 1077.9h19.2M656.8 1068.3v19.2M641.6 1041.1h19.2M651.2 1031.5v19.2M631.7 1003.5h19.2M641.3 993.9v19.2M616.8 1123.8h19.2M626.4 1114.2v19.2M632.5 1124.6h19.2M642.1 1115.0v19.2M629.4 1162.1h19.2M639.0 1152.5v19.2M612.5 1131.3h19.2M622.1 1121.7v19.2M616.4 1064.6h19.2M626.0 1055.0v19.2M654.0 1104.5h19.2M663.6 1094.9v19.2M648.7 1071.6h19.2M658.3 1062.0v19.2M622.3 1040.7h19.2M631.9 1031.1v19.2M608.8 1152.5h19.2M618.4 1142.9v19.2M636.6 1002.2h19.2M646.2 992.6v19.2M617.9 1034.6h19.2M627.5 1025.0v19.2M624.5 994.5h19.2M634.1 984.9v19.2M648.0 1024.9h19.2M657.6 1015.3v19.2M633.5 1062.9h19.2M643.1 1053.3v19.2M648.2 1154.8h19.2M657.8 1145.2v19.2M659.4 1073.6h19.2M669.0 1064.0v19.2M626.0 1103.5h19.2M635.6 1093.9v19.2M628.5 1056.1h19.2M638.1 1046.5v19.2M616.3 1078.3h19.2M625.9 1068.7v19.2M621.9 1044.3h19.2M631.5 1034.7v19.2M612.2 1162.0h19.2M621.8 1152.4v19.2M644.0 1116.0h19.2M653.6 1106.4v19.2M644.6 1155.5h19.2M654.2 1145.9v19.2M639.2 1089.4h19.2M648.8 1079.8v19.2M618.0 1125.4h19.2M627.6 1115.8v19.2M623.5 1053.8h19.2M633.1 1044.2v19.2M621.6 1065.7h19.2M631.2 1056.1v19.2M643.2 1024.8h19.2M652.8 1015.2v19.2M638.6 1131.2h19.2M648.2 1121.6v19.2M645.4 1157.2h19.2M655.0 1147.6v19.2M632.3 1055.9h19.2M641.9 1046.3v19.2M636.6 1013.8h19.2M646.2 1004.2v19.2M620.3 1009.7h19.2M629.9 1000.1v19.2M629.1 1017.9h19.2M638.7 1008.3v19.2M651.3 1151.6h19.2M660.9 1142.0v19.2M645.4 1162.6h19.2M655.0 1153.0v19.2M656.0 1067.2h19.2M665.6 1057.6v19.2M620.6 1120.4h19.2M630.2 1110.8v19.2M613.7 1145.7h19.2M623.3 1136.1v19.2M618.2 1154.3h19.2M627.8 1144.7v19.2M633.8 1022.0h19.2M643.4 1012.4v19.2M618.6 1118.8h19.2M628.2 1109.2v19.2M637.8 1141.5h19.2M647.4 1131.9v19.2M624.3 1115.3h19.2M633.9 1105.7v19.2M632.7 1012.4h19.2M642.3 1002.8v19.2M622.2 995.9h19.2M631.8 986.3v19.2M659.7 1086.8h19.2M669.3 1077.2v19.2M621.5 1107.4h19.2M631.1 1097.8v19.2M654.9 1146.2h19.2M664.5 1136.6v19.2M630.7 1021.3h19.2M640.3 1011.7v19.2M627.8 1009.9h19.2M637.4 1000.3v19.2M619.7 1010.0h19.2M629.3 1000.4v19.2M620.8 1046.7h19.2M630.4 1037.1v19.2M627.2 1076.4h19.2M636.8 1066.8v19.2M638.5 1101.9h19.2M648.1 1092.3v19.2M649.0 1160.6h19.2M658.6 1151.0v19.2M656.4 1096.5h19.2M666.0 1086.9v19.2M646.0 1023.3h19.2M655.6 1013.7v19.2M626.3 1157.3h19.2M635.9 1147.7v19.2M612.5 1162.9h19.2M622.1 1153.3v19.2M613.9 1125.2h19.2M623.5 1115.6v19.2M623.8 1102.9h19.2M633.4 1093.3v19.2M613.1 1156.4h19.2M622.7 1146.8v19.2M658.3 1159.8h19.2M667.9 1150.2v19.2M619.7 1055.6h19.2M629.3 1046.0v19.2M630.4 1068.5h19.2M640.0 1058.9v19.2M650.4 1014.6h19.2M660.0 1005.0v19.2M621.1 1015.1h19.2M630.7 1005.5v19.2M624.6 1080.8h19.2M634.2 1071.2v19.2M625.2 1036.2h19.2M634.8 1026.6v19.2M645.6 1114.1h19.2M655.2 1104.5v19.2M629.2 1131.1h19.2M638.8 1121.5v19.2M647.5 1152.8h19.2M657.1 1143.2v19.2M654.2 1090.1h19.2M663.8 1080.5v19.2M631.1 1124.9h19.2M640.7 1115.3v19.2M613.1 1130.6h19.2M622.7 1121.0v19.2M609.6 1156.7h19.2M619.2 1147.1v19.2M638.0 1110.2h19.2M647.6 1100.6v19.2M631.5 990.9h19.2M641.1 981.3v19.2M657.4 1070.5h19.2M667.0 1060.9v19.2M624.6 999.0h19.2M634.2 989.4v19.2M623.4 1149.8h19.2M633.0 1140.2v19.2M647.1 1136.3h19.2M656.7 1126.7v19.2M650.5 1162.5h19.2M660.1 1152.9v19.2M619.5 1079.1h19.2M629.1 1069.5v19.2M645.8 1093.7h19.2M655.4 1084.1v19.2M616.4 1160.2h19.2M626.0 1150.6v19.2M643.4 1114.6h19.2M653.0 1105.0v19.2M631.0 1139.4h19.2M640.6 1129.8v19.2M649.8 1116.8h19.2M659.4 1107.2v19.2M615.5 1077.1h19.2M625.1 1067.5v19.2M630.3 1157.8h19.2M639.9 1148.2v19.2M630.3 1079.2h19.2M639.9 1069.6v19.2M642.0 1115.2h19.2M651.6 1105.6v19.2M628.7 992.8h19.2M638.3 983.2v19.2M645.0 1035.5h19.2M654.6 1025.9v19.2M637.7 1160.0h19.2M647.3 1150.4v19.2M612.6 1132.9h19.2M622.2 1123.3v19.2M633.9 1061.2h19.2M643.5 1051.6v19.2M647.5 1024.9h19.2M657.1 1015.3v19.2M629.7 1024.4h19.2M639.3 1014.8v19.2M624.9 1049.3h19.2M634.5 1039.7v19.2M615.1 1144.3h19.2M624.7 1134.7v19.2M625.9 995.2h19.2M635.5 985.6v19.2M616.0 1076.8h19.2M625.6 1067.2v19.2M623.0 1059.6h19.2M632.6 1050.0v19.2M631.5 1119.9h19.2M641.1 1110.3v19.2M655.2 1099.4h19.2M664.8 1089.8v19.2M628.2 1053.8h19.2M637.8 1044.2v19.2M656.8 1097.6h19.2M666.4 1088.0v19.2M654.0 1150.2h19.2M663.6 1140.6v19.2M624.7 1026.5h19.2M634.3 1016.9v19.2M633.8 1105.6h19.2M643.4 1096.0v19.2M633.8 1068.6h19.2M643.4 1059.0v19.2M634.5 1018.3h19.2M644.1 1008.7v19.2M647.0 1113.2h19.2M656.6 1103.6v19.2M627.2 1049.8h19.2M636.8 1040.2v19.2M625.4 1130.1h19.2M635.0 1120.5v19.2M646.6 1107.6h19.2M656.2 1098.0v19.2M619.6 1019.1h19.2M629.2 1009.5v19.2M630.0 1035.3h19.2M639.6 1025.7v19.2M639.5 1077.4h19.2M649.1 1067.8v19.2M617.9 1032.9h19.2M627.5 1023.3v19.2M642.7 1131.5h19.2M652.3 1121.9v19.2M633.8 994.9h19.2M643.4 985.3v19.2M633.8 1089.4h19.2M643.4 1079.8v19.2M639.9 1039.8h19.2M649.5 1030.2v19.2M659.5 1151.6h19.2M669.1 1142.0v19.2M636.0 1024.0h19.2M645.6 1014.4v19.2M621.6 1001.5h19.2M631.2 991.9v19.2M619.0 1051.9h19.2M628.6 1042.3v19.2M622.2 1067.3h19.2M631.8 1057.7v19.2M637.0 1157.2h19.2M646.6 1147.6v19.2M646.0 1093.2h19.2M655.6 1083.6v19.2M611.2 1154.5h19.2M620.8 1144.9v19.2M626.6 1035.8h19.2M636.2 1026.2v19.2M625.8 1097.0h19.2M635.4 1087.4v19.2M632.6 1029.0h19.2M642.2 1019.4v19.2M636.7 1087.7h19.2M646.3 1078.1v19.2M618.7 1049.2h19.2M628.3 1039.6v19.2M654.4 1081.6h19.2M664.0 1072.0v19.2M653.9 1100.0h19.2M663.5 1090.4v19.2M638.7 1114.7h19.2M648.3 1105.1v19.2M613.8 1159.4h19.2M623.4 1149.8v19.2M621.6 1063.4h19.2M631.2 1053.8v19.2M662.8 1067.9h19.2M672.4 1058.3v19.2M640.3 1081.9h19.2M649.9 1072.3v19.2M648.3 1137.8h19.2M657.9 1128.2v19.2M632.7 1032.2h19.2M642.3 1022.6v19.2M637.2 1063.1h19.2M646.8 1053.5v19.2M635.4 1066.8h19.2M645.0 1057.2v19.2M618.7 1041.0h19.2M628.3 1031.4v19.2" fill="none" stroke="#1f77b4" stroke-width="2.55"/>
<path d="M774.0 1285.2h19.2M783.6 1275.6v19.2M766.5 1313.9h19.2M776.1 1304.3v19.2M757.1 1282.3h19.2M766.7 1272.7v19.2M759.8 1331.2h19.2M769.4 1321.6v19.2M762.5 1353.6h19.2M772.1 1344.0v19.2M764.5 1326.2h19.2M774.1 1316.6v19.2M757.0 1338.7h19.2M766.6 1329.1v19.2M757.7 1346.5h19.2M767.3 1336.9v19.2M761.1 1316.7h19.2M770.7 1307.1v19.2M758.3 1308.7h19.2M767.9 1299.1v19.2M757.0 1314.5h19.2M766.6 1304.9v19.2M765.4 1266.3h19.2M775.0 1256.7v19.2M780.7 1283.0h19.2M790.3 1273.4v19.2M764.6 1304.1h19.2M774.2 1294.5v19.2M765.4 1305.9h19.2M775.0 1296.3v19.2M780.1 1267.7h19.2M789.7 1258.1v19.2M763.0 1291.8h19.2M772.6 1282.2v19.2M765.5 1306.7h19.2M775.1 1297.1v19.2M759.1 1311.4h19.2M768.7 1301.8v19.2M756.1 1339.8h19.2M765.7 1330.2v19.2M777.5 1275.1h19.2M787.1 1265.5v19.2M769.9 1309.4h19.2M779.5 1299.8v19.2M762.5 1274.8h19.2M772.1 1265.2v19.2M779.6 1290.3h19.2M789.2 1280.7v19.2M764.1 1291.4h19.2M773.7 1281.8v19.2M760.4 1364.5h19.2M770.0 1354.9v19.2M757.3 1365.6h19.2M766.9 1356.0v19.2M753.7 1279.3h19.2M763.3 1269.7v19.2M775.8 1267.8h19.2M785.4 1258.2v19.2M764.5 1313.0h19.2M774.1 1303.4v19.2M759.4 1307.8h19.2M769.0 1298.2v19.2M774.6 1274.2h19.2M784.2 1264.6v19.2M759.9 1287.9h19.2M769.5 1278.3v19.2M760.9 1366.4h19.2M770.5 1356.8v19.2M779.1 1288.2h19.2M788.7 1278.6v19.2M758.5 1298.6h19.2M768.1 1289.0v19.2M764.3 1267.8h19.2M773.9 1258.2v19.2M761.1 1279.3h19.2M770.7 1269.7v19.2M766.2 1314.8h19.2M775.8 1305.2v19.2M762.6 1283.5h19.2M772.2 1273.9v19.2M771.2 1269.5h19.2M780.8 1259.9v19.2M763.3 1334.2h19.2M772.9 1324.6v19.2" fill="none" stroke="#1f77b4" stroke-width="2.55"/>
<path d="M711.6 1212.4h19.2M721.2 1202.8v19.2M741.7 1256.2h19.2M751.3 1246.6v19.2M726.1 1239.5h19.2M735.7 1229.9v19.2M722.5 1245.6h19.2M732.1 1236.0v19.2M740.1 1221.5h19.2M749.7 1211.9v19.2M737.7 1252.2h19.2M747.3 1242.6v19.2M722.7 1255.0h19.2M732.3 1245.4v19.2M741.1 1268.8h19.2M750.7 1259.2v19.2M744.1 1254.4h19.2M753.7 1244.8v19.2M739.3 1242.3h19.2M748.9 1232.7v19.2M730.9 1249.8h19.2M740.5 1240.2v19.2M741.9 1266.8h19.2M751.5 1257.2v19.2M741.6 1263.7h19.2M751.2 1254.1v19.2M741.7 1225.9h19.2M751.3 1216.3v19.2M734.4 1246.1h19.2M744.0 1236.5v19.2M743.1 1248.4h19.2M752.7 1238.8v19.2M736.4 1249.9h19.2M746.0 1240.3v19.2M756.8 1225.8h19.2M766.4 1216.2v19.2M714.5 1231.1h19.2M724.1 1221.5v19.2M711.9 1222.3h19.2M721.5 1212.7v19.2M730.2 1255.6h19.2M739.8 1246.0v19.2M745.4 1270.1h19.2M755.0 1260.5v19.2M734.8 1242.0h19.2M744.4 1232.4v19.2M730.7 1240.1h19.2M740.3 1230.5v19.2M714.2 1218.6h19.2M723.8 1209.0v19.2M728.7 1235.5h19.2M738.3 1225.9v19.2M739.9 1241.7h19.2M749.5 1232.1v19.2M744.1 1221.6h19.2M753.7 1212.0v19.2M745.5 1237.5h19.2M755.1 1227.9v19.2M747.5 1248.9h19.2M757.1 1239.3v19.2M729.5 1253.4h19.2M739.1 1243.8v19.2M766.5 1221.4h19.2M776.1 1211.8v19.2M735.3 1238.5h19.2M744.9 1228.9v19.2M740.2 1235.0h19.2M749.8 1225.4v19.2M711.4 1213.6h19.2M721.0 1204.0v19.2M715.8 1240.8h19.2M725.4 1231.2v19.2M744.6 1260.0h19.2M754.2 1250.4v19.2M721.6 1238.1h19.2M731.2 1228.5v19.2M752.3 1249.9h19.2M761.9 1240.3v19.2M728.1 1232.8h19.2M737.7 1223.2v19.2M742.3 1225.4h19.2M751.9 1215.8v19.2M762.6 1219.3h19.2M772.2 1209.7v19.2M711.0 1229.1h19.2M720.6 1219.5v19.2M739.0 1254.9h19.2M748.6 1245.3v19.2M714.1 1236.9h19.2M723.7 1227.3v19.2M732.3 1259.4h19.2M741.9 1249.8v19.2M768.6 1215.2h19.2M778.2 1205.6v19.2M768.2 1224.0h19.2M777.8 1214.4v19.2M748.5 1230.0h19.2M758.1 1220.4v19.2M733.8 1234.4h19.2M743.4 1224.8v19.2M762.5 1225.4h19.2M772.1 1215.8v19.2M710.7 1210.0h19.2M720.3 1200.4v19.2M735.7 1264.6h19.2M745.3 1255.0v19.2M735.5 1262.0h19.2M745.1 1252.4v19.2M714.8 1238.8h19.2M724.4 1229.2v19.2M736.8 1264.3h19.2M746.4 1254.7v19.2M699.7 1212.6h19.2M709.3 1203.0v19.2" fill="none" stroke="#1f77b4" stroke-width="2.55"/>
<path d="M752.1 1034.6h19.2M761.7 1025.0v19.2M718.3 1073.9h19.2M727.9 1064.3v19.2M797.5 1082.4h19.2M807.1 1072.8v19.2M839.6 1063.1h19.2M849.2 1053.5v19.2M676.2 1040.0h19.2M685.8 1030.4v19.2M671.3 1055.7h19.2M680.9 1046.1v19.2M679.5 1057.4h19.2M689.1 1047.8v19.2M682.8 1063.1h19.2M692.4 1053.5v19.2M684.5 1073.9h19.2M694.1 1064.3v19.2M684.5 1078.8h19.2M694.1 1069.2v19.2M658.9 1063.1h19.2M668.5 1053.5v19.2M685.3 1120.1h19.2M694.9 1110.5v19.2M687.8 1124.2h19.2M697.4 1114.6v19.2M679.5 1135.7h19.2M689.1 1126.1v19.2M678.7 1144.0h19.2M688.3 1134.4v19.2M620.1 1115.9h19.2M629.7 1106.3v19.2M617.6 1059.8h19.2M627.2 1050.2v19.2M616.0 1079.6h19.2M625.6 1070.0v19.2M653.9 1011.2h19.2M663.5 1001.6v19.2M698.5 1169.6h19.2M708.1 1160.0v19.2M704.3 1186.9h19.2M713.9 1177.3v19.2M720.8 1181.1h19.2M730.4 1171.5v19.2M735.6 1178.6h19.2M745.2 1169.0v19.2M684.5 1164.6h19.2M694.1 1155.0v19.2M699.3 1202.6h19.2M708.9 1193.0v19.2M712.5 1207.5h19.2M722.1 1197.9v19.2M767.0 1207.5h19.2M776.6 1197.9v19.2" fill="none" stroke="#1f77b4" stroke-width="2.55"/>
<path d="M710.9 1219.5h19.2M720.5 1209.9v19.2M771.9 1212.9h19.2M781.5 1203.3v19.2M771.9 1223.6h19.2M781.5 1214.0v19.2M814.0 1223.6h19.2M823.6 1214.0v19.2M740.6 1219.5h19.2M750.2 1209.9v19.2M752.1 1224.5h19.2M761.7 1214.9v19.2M794.2 1259.9h19.2M803.8 1250.3v19.2M808.2 1264.9h19.2M817.8 1255.3v19.2M771.9 1252.5h19.2M781.5 1242.9v19.2M780.2 1262.4h19.2M789.8 1252.8v19.2M780.2 1283.9h19.2M789.8 1274.3v19.2M780.2 1297.1h19.2M789.8 1287.5v19.2M765.3 1290.5h19.2M774.9 1280.9v19.2M763.7 1335.0h19.2M773.3 1325.4v19.2M763.7 1374.6h19.2M773.3 1365.0v19.2M735.6 1386.2h19.2M745.2 1376.6v19.2M696.0 1387.8h19.2M705.6 1378.2v19.2M797.5 1386.2h19.2M807.1 1376.6v19.2M826.4 1272.3h19.2M836.0 1262.7v19.2M836.3 1269.0h19.2M845.9 1259.4v19.2" fill="none" stroke="#1f77b4" stroke-width="2.55"/>
<path d="M881.9 1297.1h19.2M891.5 1287.5v19.2M881.9 1342.4h19.2M891.5 1332.8v19.2M992.1 1323.5h19.2M1001.7 1313.9v19.2M992.1 1328.4h19.2M1001.7 1318.8v19.2M848.1 1359.8h19.2M857.7 1350.2v19.2M913.2 1227.8h19.2M922.8 1218.2v19.2M915.7 1232.7h19.2M925.3 1223.1v19.2M917.4 1237.7h19.2M927.0 1228.1v19.2M915.7 1242.6h19.2M925.3 1233.0v19.2M912.4 1246.7h19.2M922.0 1237.1v19.2M930.6 1266.5h19.2M940.2 1256.9v19.2M949.5 1307.0h19.2M959.1 1297.4v19.2M947.1 1315.2h19.2M956.7 1305.6v19.2M938.8 1313.6h19.2M948.4 1304.0v19.2M949.5 1368.0h19.2M959.1 1358.4v19.2M948.7 1374.6h19.2M958.3 1365.0v19.2M916.5 1382.9h19.2M926.1 1373.3v19.2M810.9 1379.6h19.2M820.5 1370.0v19.2M828.3 1371.3h19.2M837.9 1361.7v19.2M783.7 1305.3h19.2M793.3 1295.7v19.2M947.1 1310.3h19.2M956.7 1300.7v19.2M950.4 1315.2h19.2M960.0 1305.6v19.2" fill="none" stroke="#1f77b4" stroke-width="2.55"/>
<path d="M798.3 1307.0L809.8 1305.3L816.4 1318.5L814.8 1335.0L819.7 1351.5L828.0 1359.8L819.7 1376.3L808.2 1384.5L798.3 1377.9L795.0 1368.0L790.0 1364.7L790.0 1344.9L795.0 1318.5Z" fill="#1f77b4" stroke="#1f77b4" stroke-width="0" stroke-linejoin="round"/>
<path d="M794.1 1315.2h19.2M803.7 1305.6v19.2M796.4 1316.0h19.2M806.0 1306.4v19.2M795.8 1309.5h19.2M805.4 1299.9v19.2M793.9 1315.4h19.2M803.5 1305.8v19.2M799.2 1318.0h19.2M808.8 1308.4v19.2M800.5 1319.6h19.2M810.1 1310.0v19.2M798.2 1328.0h19.2M807.8 1318.4v19.2M797.0 1328.9h19.2M806.6 1319.3v19.2M799.9 1337.9h19.2M809.5 1328.3v19.2M803.2 1347.5h19.2M812.8 1337.9v19.2M801.6 1351.3h19.2M811.2 1341.7v19.2M805.3 1360.7h19.2M814.9 1351.1v19.2M812.5 1365.2h19.2M822.1 1355.6v19.2M813.5 1357.8h19.2M823.1 1348.2v19.2M807.8 1363.8h19.2M817.4 1354.2v19.2M807.6 1366.4h19.2M817.2 1356.8v19.2M804.9 1372.1h19.2M814.5 1362.5v19.2M803.0 1372.6h19.2M812.6 1363.0v19.2M802.0 1373.6h19.2M811.6 1364.0v19.2M793.9 1376.2h19.2M803.5 1366.6v19.2M798.8 1376.8h19.2M808.4 1367.2v19.2M797.4 1374.8h19.2M807.0 1365.2v19.2M794.9 1375.5h19.2M804.5 1365.9v19.2M793.5 1366.1h19.2M803.1 1356.5v19.2M785.9 1359.9h19.2M795.5 1350.3v19.2M789.8 1361.4h19.2M799.4 1351.8v19.2M786.1 1355.6h19.2M795.7 1346.0v19.2M786.5 1352.8h19.2M796.1 1343.2v19.2M785.9 1347.0h19.2M795.5 1337.4v19.2M789.4 1343.2h19.2M799.0 1333.6v19.2M791.8 1339.1h19.2M801.4 1329.5v19.2M792.0 1335.4h19.2M801.6 1325.8v19.2M789.7 1326.5h19.2M799.3 1316.9v19.2M794.6 1324.2h19.2M804.2 1314.6v19.2M794.1 1320.1h19.2M803.7 1310.5v19.2M795.0 1311.1h19.2M804.6 1301.5v19.2" fill="none" stroke="#1f77b4" stroke-width="2.55"/>
<path d="M826.6 1300.0h19.2M836.2 1290.4v19.2M836.3 1296.2h19.2M845.9 1286.6v19.2M834.7 1286.6h19.2M844.3 1277.0v19.2M824.5 1302.5h19.2M834.1 1292.9v19.2M828.4 1309.6h19.2M838.0 1300.0v19.2M832.5 1288.5h19.2M842.1 1278.9v19.2M827.7 1304.7h19.2M837.3 1295.1v19.2M828.8 1339.6h19.2M838.4 1330.0v19.2M834.8 1292.9h19.2M844.4 1283.3v19.2M828.4 1328.7h19.2M838.0 1319.1v19.2M831.3 1316.9h19.2M840.9 1307.3v19.2M830.6 1331.0h19.2M840.2 1321.4v19.2M829.6 1354.3h19.2M839.2 1344.7v19.2M832.7 1309.2h19.2M842.3 1299.6v19.2M832.0 1346.3h19.2M841.6 1336.7v19.2M826.7 1324.5h19.2M836.3 1314.9v19.2M836.8 1351.2h19.2M846.4 1341.6v19.2M827.8 1295.6h19.2M837.4 1286.0v19.2M823.3 1339.2h19.2M832.9 1329.6v19.2M826.3 1301.6h19.2M835.9 1292.0v19.2M829.0 1305.5h19.2M838.6 1295.9v19.2M827.1 1302.7h19.2M836.7 1293.1v19.2M834.8 1349.2h19.2M844.4 1339.6v19.2M835.5 1362.6h19.2M845.1 1353.0v19.2M819.5 1362.8h19.2M829.1 1353.2v19.2M829.2 1307.3h19.2M838.8 1297.7v19.2M829.2 1324.0h19.2M838.8 1314.4v19.2M825.4 1318.5h19.2M835.0 1308.9v19.2M828.8 1302.0h19.2M838.4 1292.4v19.2M834.0 1343.3h19.2M843.6 1333.7v19.2M833.3 1358.5h19.2M842.9 1348.9v19.2M829.0 1311.1h19.2M838.6 1301.5v19.2M821.7 1352.4h19.2M831.3 1342.8v19.2M827.8 1344.6h19.2M837.4 1335.0v19.2M831.7 1318.1h19.2M841.3 1308.5v19.2M835.1 1289.9h19.2M844.7 1280.3v19.2M831.4 1310.5h19.2M841.0 1300.9v19.2M839.8 1344.3h19.2M849.4 1334.7v19.2M831.6 1364.8h19.2M841.2 1355.2v19.2M823.8 1302.6h19.2M833.4 1293.0v19.2M821.7 1352.9h19.2M831.3 1343.3v19.2M836.0 1350.5h19.2M845.6 1340.9v19.2M823.9 1302.7h19.2M833.5 1293.1v19.2M838.3 1299.9h19.2M847.9 1290.3v19.2M827.8 1303.7h19.2M837.4 1294.1v19.2M829.0 1353.8h19.2M838.6 1344.2v19.2M836.7 1353.0h19.2M846.3 1343.4v19.2M832.2 1309.9h19.2M841.8 1300.3v19.2M833.5 1308.7h19.2M843.1 1299.1v19.2M829.1 1333.6h19.2M838.7 1324.0v19.2M830.7 1323.4h19.2M840.3 1313.8v19.2M827.7 1347.2h19.2M837.3 1337.6v19.2M832.9 1335.7h19.2M842.5 1326.1v19.2" fill="none" stroke="#1f77b4" stroke-width="2.55"/>
<path d="M917.1 1255.8L930.3 1252.5L936.9 1262.4L935.2 1275.6L938.5 1285.5L938.5 1318.5L941.8 1335.0L936.9 1351.5L936.9 1377.9L917.1 1379.6L915.4 1351.5L912.9 1318.5L915.4 1285.5L913.8 1269.0Z" fill="#1f77b4" stroke="#1f77b4" stroke-width="0" stroke-linejoin="round"/>
<path d="M913.8 1262.6h19.2M923.4 1253.0v19.2M917.7 1261.2h19.2M927.3 1251.6v19.2M919.9 1262.1h19.2M929.5 1252.5v19.2M914.6 1257.1h19.2M924.2 1247.5v19.2M920.0 1262.7h19.2M929.6 1253.1v19.2M919.0 1264.6h19.2M928.6 1255.0v19.2M916.8 1268.0h19.2M926.4 1258.4v19.2M919.5 1271.3h19.2M929.1 1261.7v19.2M916.6 1280.0h19.2M926.2 1270.4v19.2M921.1 1284.8h19.2M930.7 1275.2v19.2M923.3 1288.5h19.2M932.9 1278.9v19.2M921.9 1294.5h19.2M931.5 1284.9v19.2M922.7 1297.2h19.2M932.3 1287.6v19.2M920.7 1302.7h19.2M930.3 1293.1v19.2M919.0 1307.3h19.2M928.6 1297.7v19.2M918.8 1313.4h19.2M928.4 1303.8v19.2M923.0 1314.4h19.2M932.6 1304.8v19.2M923.4 1319.7h19.2M933.0 1310.1v19.2M921.8 1328.5h19.2M931.4 1318.9v19.2M925.8 1334.7h19.2M935.4 1325.1v19.2M925.3 1338.3h19.2M934.9 1328.7v19.2M921.7 1340.6h19.2M931.3 1331.0v19.2M919.1 1345.3h19.2M928.7 1335.7v19.2M920.5 1352.9h19.2M930.1 1343.3v19.2M917.3 1362.1h19.2M926.9 1352.5v19.2M920.5 1365.7h19.2M930.1 1356.1v19.2M919.6 1372.4h19.2M929.2 1362.8v19.2M920.8 1373.1h19.2M930.4 1363.5v19.2M922.1 1370.8h19.2M931.7 1361.2v19.2M917.6 1371.8h19.2M927.2 1362.2v19.2M914.4 1371.6h19.2M924.0 1362.0v19.2M909.5 1369.4h19.2M919.1 1359.8v19.2M912.9 1379.0h19.2M922.5 1369.4v19.2M912.3 1374.2h19.2M921.9 1364.6v19.2M912.9 1369.0h19.2M922.5 1359.4v19.2M915.3 1364.0h19.2M924.9 1354.4v19.2M912.7 1357.9h19.2M922.3 1348.3v19.2M912.7 1355.6h19.2M922.3 1346.0v19.2M914.7 1350.2h19.2M924.3 1340.6v19.2M913.6 1344.6h19.2M923.2 1335.0v19.2M911.7 1337.5h19.2M921.3 1327.9v19.2M909.9 1333.4h19.2M919.5 1323.8v19.2M912.2 1328.9h19.2M921.8 1319.3v19.2M910.6 1325.3h19.2M920.2 1315.7v19.2M912.8 1320.1h19.2M922.4 1310.5v19.2M913.4 1318.1h19.2M923.0 1308.5v19.2M912.2 1312.7h19.2M921.8 1303.1v19.2M911.0 1306.3h19.2M920.6 1296.7v19.2M910.7 1301.8h19.2M920.3 1292.2v19.2M911.7 1297.2h19.2M921.3 1287.6v19.2M915.0 1291.9h19.2M924.6 1282.3v19.2M915.5 1286.7h19.2M925.1 1277.1v19.2M912.8 1284.2h19.2M922.4 1274.6v19.2M913.0 1276.8h19.2M922.6 1267.2v19.2M913.7 1271.1h19.2M923.3 1261.5v19.2M910.8 1269.5h19.2M920.4 1259.9v19.2M914.5 1266.1h19.2M924.1 1256.5v19.2M914.6 1262.0h19.2M924.2 1252.4v19.2" fill="none" stroke="#1f77b4" stroke-width="2.55"/>
<path d="M951.7 1323.5L966.6 1321.8L971.5 1335.0L969.9 1359.8L964.9 1368.0L951.7 1364.7L948.4 1343.3Z" fill="#1f77b4" stroke="#1f77b4" stroke-width="0" stroke-linejoin="round"/>
<path d="M943.7 1330.6h19.2M953.3 1321.0v19.2M950.5 1330.9h19.2M960.1 1321.3v19.2M957.7 1329.6h19.2M967.3 1320.0v19.2M951.6 1325.2h19.2M961.2 1315.6v19.2M954.6 1331.2h19.2M964.2 1321.6v19.2M952.7 1335.6h19.2M962.3 1326.0v19.2M954.8 1338.9h19.2M964.4 1329.3v19.2M954.7 1342.7h19.2M964.3 1333.1v19.2M952.0 1345.9h19.2M961.6 1336.3v19.2M952.8 1351.5h19.2M962.4 1341.9v19.2M953.3 1354.7h19.2M962.9 1345.1v19.2M950.7 1357.7h19.2M960.3 1348.1v19.2M950.2 1362.9h19.2M959.8 1353.3v19.2M955.6 1361.5h19.2M965.2 1351.9v19.2M948.8 1358.0h19.2M958.4 1348.4v19.2M946.6 1359.4h19.2M956.2 1349.8v19.2M949.6 1360.5h19.2M959.2 1350.9v19.2M947.7 1355.6h19.2M957.3 1346.0v19.2M947.5 1352.4h19.2M957.1 1342.8v19.2M944.8 1345.5h19.2M954.4 1335.9v19.2M948.7 1341.9h19.2M958.3 1332.3v19.2M945.6 1336.1h19.2M955.2 1326.5v19.2M949.4 1334.0h19.2M959.0 1324.4v19.2M947.5 1328.4h19.2M957.1 1318.8v19.2" fill="none" stroke="#1f77b4" stroke-width="2.55"/>
</g>
<path d="M380.8 598.7C380.8 596.3 383.0 593.5 386.1 591.6C389.2 589.7 394.1 588.3 399.3 587.5C404.5 586.6 411.1 586.3 417.1 586.3C423.2 586.3 430.5 586.6 435.6 587.5C440.8 588.3 445.0 589.7 448.0 591.6C451.0 593.5 453.4 596.3 453.4 598.7C453.4 601.0 451.0 603.8 448.0 605.6C445.0 607.5 440.8 608.8 435.6 609.7C430.5 610.6 423.2 611.1 417.1 611.1C411.1 611.1 404.5 610.6 399.3 609.7C394.1 608.8 389.2 607.5 386.1 605.6C383.0 603.8 380.8 601.0 380.8 598.7Z" fill="none" stroke="#303030" stroke-opacity="0.95" stroke-width="3.2" stroke-linejoin="round"/>
<path d="M390.0 919.5C383.6 921.1 379.7 921.5 371.0 922.8C362.4 924.0 349.0 925.9 338.0 926.9C327.0 927.9 316.0 928.1 305.0 928.5C294.0 929.0 283.0 929.5 272.0 929.4C261.0 929.2 248.6 928.7 239.0 927.7C229.4 926.8 220.6 925.2 214.3 923.6C207.9 921.9 204.5 920.2 201.1 917.8C197.6 915.5 195.1 912.0 193.6 909.6C192.1 907.1 191.8 905.4 192.0 903.0C192.1 900.5 192.7 897.2 194.5 894.7C196.2 892.2 199.1 890.0 202.7 888.1C206.3 886.2 211.0 884.7 215.9 883.2C220.9 881.7 225.8 880.3 232.4 879.0C239.0 877.8 248.9 876.7 255.5 875.7C262.1 874.8 266.5 874.2 272.0 873.3C277.5 872.3 283.0 871.3 288.5 870.0C294.0 868.6 300.6 866.9 305.0 865.0C309.4 863.1 312.6 861.2 314.9 858.4C317.3 855.7 317.9 851.5 319.0 848.5C320.1 845.5 319.5 843.0 321.5 840.3C323.6 837.5 327.0 834.8 331.4 832.0C335.8 829.3 341.9 826.5 347.9 823.8C354.0 821.0 362.2 818.0 367.7 815.5C373.2 813.0 377.0 811.1 380.9 808.9C384.8 806.7 388.3 804.5 391.1 802.3C393.8 800.1 397.1 797.6 397.7 795.7C398.2 793.8 396.6 792.1 394.4 790.8C392.2 789.4 386.8 788.8 384.5 787.5C382.1 786.1 380.3 784.2 380.3 782.5C380.3 780.9 381.8 778.8 384.5 777.6C387.1 776.3 391.3 775.6 396.0 775.1C400.7 774.5 407.0 774.1 412.5 774.3C418.0 774.4 424.3 775.1 429.0 775.9C433.7 776.7 437.7 777.8 440.6 779.2C443.4 780.6 445.8 782.0 446.3 784.2C446.9 786.4 444.5 789.4 443.9 792.4C443.2 795.4 441.9 799.6 442.2 802.3C442.5 805.1 442.8 806.7 445.5 808.9C448.3 811.1 454.0 813.2 458.7 815.5C463.4 817.8 469.2 820.5 473.6 822.9C478.0 825.4 482.0 827.5 485.1 830.4C488.3 833.3 490.9 836.7 492.5 840.3C494.2 843.8 493.8 848.8 495.0 851.8C496.3 854.8 498.7 855.9 500.0 858.4C501.2 860.9 502.4 863.6 502.4 866.7C502.4 869.7 501.5 873.3 500.0 876.6C498.5 879.9 496.1 883.4 493.4 886.5C490.6 889.5 487.0 892.2 483.5 894.7C479.9 897.2 476.0 899.7 471.9 901.3C467.8 903.0 463.7 903.7 458.7 904.6C453.8 905.6 447.7 906.3 442.2 907.1C436.7 907.9 431.2 908.6 425.7 909.6C420.2 910.5 415.2 911.2 409.2 912.9C403.3 914.5 396.4 917.8 390.0 919.5Z" fill="none" stroke="#303030" stroke-opacity="0.95" stroke-width="3.2" stroke-linejoin="round"/>
<path d="M231.6 904.6C231.7 902.4 232.5 899.9 234.9 898.0C237.2 896.1 241.1 894.4 245.6 893.1C250.1 891.7 256.1 890.6 262.1 889.8C268.2 888.9 274.8 888.7 281.9 888.1C289.1 887.6 298.4 887.0 305.0 886.5C311.6 885.9 316.0 885.6 321.5 884.8C327.0 884.0 333.6 883.2 338.0 881.5C342.4 879.9 344.3 877.4 347.9 874.9C351.5 872.4 355.6 869.4 359.5 866.7C363.3 863.9 368.3 861.4 371.0 858.4C373.8 855.4 374.3 851.3 376.0 848.5C377.6 845.8 378.1 844.0 380.9 841.9C383.7 839.9 388.8 837.2 392.7 836.1C396.6 835.0 400.1 835.2 404.3 835.3C408.4 835.5 413.3 836.1 417.5 837.0C421.6 837.8 425.7 838.9 429.0 840.3C432.3 841.6 434.5 843.3 437.3 845.2C440.0 847.1 442.5 849.6 445.5 851.8C448.5 854.0 452.7 856.2 455.4 858.4C458.2 860.6 460.5 862.8 462.0 865.0C463.5 867.2 464.8 869.1 464.5 871.6C464.2 874.1 462.4 877.4 460.4 879.9C458.3 882.3 456.0 884.5 452.1 886.5C448.3 888.4 442.5 890.0 437.3 891.4C432.0 892.8 426.3 894.0 420.8 894.7C415.3 895.4 409.4 895.3 404.3 895.5C399.1 895.8 395.5 895.7 390.0 896.4C384.5 897.1 376.9 898.3 371.0 899.7C365.1 901.0 360.0 903.0 354.5 904.6C349.0 906.3 344.9 907.9 338.0 909.6C331.1 911.2 321.5 913.1 313.3 914.5C305.0 915.9 296.5 917.1 288.5 917.8C280.5 918.5 272.6 918.9 265.4 918.6C258.3 918.4 250.8 917.4 245.6 916.2C240.4 914.9 236.4 913.1 234.1 911.2C231.7 909.3 231.4 906.8 231.6 904.6Z" fill="none" stroke="#303030" stroke-opacity="0.95" stroke-width="3.2" stroke-linejoin="round"/>
<path d="M248.1 903.8C248.6 901.7 251.5 898.9 255.5 897.2C259.5 895.5 266.5 894.2 272.0 893.4C277.5 892.6 283.0 892.4 288.5 892.2C294.0 892.1 300.1 892.0 305.0 892.2C310.0 892.5 314.8 892.9 318.2 893.9C321.7 894.9 324.8 896.2 325.6 898.0C326.5 899.8 325.2 902.7 323.2 904.6C321.1 906.5 317.7 908.2 313.3 909.6C308.9 910.9 302.3 912.1 296.8 912.9C291.3 913.6 285.8 914.2 280.3 914.2C274.8 914.2 268.4 913.6 263.8 912.9C259.1 912.1 254.8 911.1 252.2 909.6C249.6 908.1 247.5 905.9 248.1 903.8Z" fill="none" stroke="#303030" stroke-opacity="0.95" stroke-width="3.2" stroke-linejoin="round"/>
<path d="M366.3 878.2C366.6 876.3 367.4 873.8 369.6 871.6C371.8 869.4 375.7 867.2 379.5 865.0C383.4 862.8 388.6 860.1 392.7 858.4C396.8 856.8 400.4 855.7 404.3 855.1C408.1 854.6 411.7 854.6 415.8 855.1C419.9 855.7 424.6 857.0 429.0 858.4C433.4 859.8 438.6 861.7 442.2 863.4C445.8 865.0 448.8 866.7 450.5 868.3C452.1 870.0 452.7 871.3 452.1 873.3C451.6 875.2 449.6 877.9 447.2 879.9C444.7 881.8 441.4 883.4 437.3 884.8C433.1 886.2 427.9 887.3 422.4 888.1C416.9 888.9 410.0 889.5 404.3 889.8C398.5 890.0 392.7 890.2 387.8 889.8C382.8 889.4 377.9 888.4 374.6 887.3C371.3 886.2 369.3 884.7 368.0 883.2C366.6 881.7 366.0 880.1 366.3 878.2Z" fill="none" stroke="#303030" stroke-opacity="0.95" stroke-width="3.2" stroke-linejoin="round"/>
<path d="M208.7 1293.8C209.1 1288.8 209.4 1281.4 211.2 1275.6C212.9 1269.8 216.9 1264.3 219.4 1259.1C221.9 1253.9 223.0 1248.2 226.0 1244.3C229.0 1240.3 232.9 1237.2 237.6 1235.2C242.2 1233.1 248.8 1231.9 254.1 1231.9C259.3 1231.9 264.2 1233.9 268.9 1235.2C273.6 1236.4 277.4 1238.5 282.1 1239.3C286.8 1240.1 291.7 1240.5 297.0 1240.1C302.2 1239.7 308.2 1238.3 313.5 1236.8C318.7 1235.3 323.9 1232.6 328.3 1231.1C332.7 1229.5 336.6 1229.7 339.9 1227.8C343.2 1225.8 345.1 1221.2 348.2 1219.5C351.2 1217.9 354.5 1217.9 358.1 1217.9C361.6 1217.9 365.5 1217.9 369.6 1219.5C373.7 1221.2 378.4 1224.7 382.8 1227.8C387.2 1230.8 391.6 1234.6 396.0 1237.7C400.4 1240.7 404.8 1243.2 409.2 1245.9C413.6 1248.7 418.6 1251.1 422.4 1254.2C426.3 1257.2 428.5 1261.0 432.3 1264.1C436.2 1267.1 441.7 1269.3 445.5 1272.3C449.4 1275.3 452.1 1278.6 455.4 1282.2C458.7 1285.8 462.0 1290.5 465.3 1293.8C468.6 1297.1 471.9 1299.3 475.2 1302.0C478.5 1304.8 482.4 1307.0 485.1 1310.3C487.9 1313.6 489.5 1318.0 491.7 1321.8C493.9 1325.7 496.3 1329.8 498.3 1333.4C500.4 1336.9 502.9 1339.7 504.1 1343.3C505.3 1346.8 505.9 1351.0 505.7 1354.8C505.6 1358.7 504.8 1363.1 503.3 1366.4C501.8 1369.7 499.7 1372.1 496.7 1374.6C493.6 1377.1 489.5 1379.6 485.1 1381.2C480.7 1382.9 475.5 1383.7 470.3 1384.5C465.0 1385.3 459.3 1385.8 453.8 1386.2C448.3 1386.5 442.8 1386.4 437.3 1386.5C431.8 1386.6 426.3 1387.1 420.8 1387.0C415.3 1386.9 409.2 1386.6 404.3 1386.2C399.3 1385.8 395.2 1385.2 391.1 1384.5C386.9 1383.8 384.2 1382.7 379.5 1382.0C374.8 1381.4 368.5 1380.9 363.0 1380.4C357.5 1379.8 352.0 1379.1 346.5 1378.7C341.0 1378.4 335.0 1378.3 330.0 1378.3C325.0 1378.3 321.7 1378.3 316.8 1378.7C311.8 1379.2 305.8 1380.8 300.3 1381.2C294.8 1381.6 289.3 1381.6 283.8 1381.2C278.3 1380.8 272.8 1379.8 267.3 1378.7C261.8 1377.6 255.7 1376.4 250.8 1374.6C245.8 1372.8 241.1 1371.0 237.6 1368.0C234.0 1365.0 231.8 1360.3 229.3 1356.5C226.8 1352.6 224.9 1348.8 222.7 1344.9C220.5 1341.1 218.0 1337.8 216.1 1333.4C214.2 1329.0 212.4 1323.2 211.2 1318.5C209.9 1313.8 209.1 1309.4 208.7 1305.3C208.3 1301.2 208.3 1298.7 208.7 1293.8Z" fill="none" stroke="#303030" stroke-opacity="0.95" stroke-width="3.2" stroke-linejoin="round"/>
<path d="M257.4 1335.0C256.8 1331.2 257.6 1325.4 259.0 1321.8C260.4 1318.2 262.9 1315.9 265.6 1313.6C268.4 1311.2 271.7 1309.0 275.5 1307.8C279.4 1306.6 283.8 1305.7 288.7 1306.1C293.7 1306.6 299.7 1309.0 305.2 1310.3C310.7 1311.5 315.9 1313.0 321.7 1313.6C327.5 1314.1 335.5 1314.7 339.9 1313.6C344.3 1312.5 345.1 1309.7 348.2 1307.0C351.2 1304.2 355.0 1300.2 358.1 1297.1C361.1 1293.9 363.0 1290.3 366.3 1288.0C369.6 1285.6 373.7 1284.0 377.9 1283.0C382.0 1282.1 386.9 1281.8 391.1 1282.2C395.2 1282.6 398.5 1283.6 402.6 1285.5C406.7 1287.4 411.4 1291.0 415.8 1293.8C420.2 1296.5 424.6 1299.3 429.0 1302.0C433.4 1304.8 437.8 1307.5 442.2 1310.3C446.6 1313.0 451.6 1315.5 455.4 1318.5C459.3 1321.5 462.3 1325.1 465.3 1328.4C468.3 1331.7 471.6 1334.7 473.6 1338.3C475.5 1341.9 476.6 1346.3 476.9 1349.9C477.1 1353.4 476.9 1356.7 475.2 1359.8C473.6 1362.8 470.3 1365.8 467.0 1368.0C463.7 1370.2 460.1 1371.6 455.4 1373.0C450.7 1374.3 444.7 1375.6 438.9 1376.3C433.1 1377.0 426.5 1377.1 420.8 1377.1C415.0 1377.1 408.9 1377.0 404.3 1376.3C399.6 1375.6 396.8 1374.3 392.7 1373.0C388.6 1371.6 384.5 1369.7 379.5 1368.0C374.6 1366.4 368.5 1364.7 363.0 1363.1C357.5 1361.4 352.0 1359.4 346.5 1358.1C341.0 1356.9 334.7 1356.2 330.0 1355.6C325.3 1355.1 323.1 1354.5 318.4 1354.8C313.7 1355.1 307.4 1356.7 301.9 1357.3C296.4 1357.8 290.4 1358.8 285.4 1358.1C280.5 1357.4 276.1 1355.4 272.2 1353.2C268.4 1351.0 264.8 1347.9 262.3 1344.9C259.8 1341.9 257.9 1338.9 257.4 1335.0Z" fill="none" stroke="#303030" stroke-opacity="0.95" stroke-width="3.2" stroke-linejoin="round"/>
<path d="M364.7 1343.3C364.1 1340.1 368.2 1335.8 369.6 1331.7C371.0 1327.6 371.3 1322.1 372.9 1318.5C374.6 1314.9 376.5 1312.1 379.5 1310.3C382.5 1308.5 386.9 1307.8 391.1 1307.8C395.2 1307.8 399.9 1308.9 404.3 1310.3C408.7 1311.6 412.8 1313.8 417.5 1316.0C422.1 1318.2 427.6 1320.9 432.3 1323.5C437.0 1326.1 441.7 1329.0 445.5 1331.7C449.4 1334.5 452.8 1336.9 455.4 1340.0C458.0 1343.0 460.5 1346.8 461.2 1349.9C461.9 1352.9 461.1 1355.8 459.5 1358.1C458.0 1360.5 455.6 1362.4 452.1 1363.9C448.7 1365.4 443.9 1366.5 438.9 1367.2C434.0 1367.9 427.6 1368.0 422.4 1368.0C417.2 1368.0 412.0 1368.0 407.6 1367.2C403.2 1366.4 399.9 1364.9 396.0 1363.1C392.2 1361.3 388.3 1358.5 384.5 1356.5C380.6 1354.4 376.2 1352.9 372.9 1350.7C369.6 1348.5 365.2 1346.4 364.7 1343.3Z" fill="none" stroke="#303030" stroke-opacity="0.95" stroke-width="3.2" stroke-linejoin="round"/>
<path d="M605.0 1359.8C605.0 1351.5 605.2 1330.9 605.8 1318.5C606.3 1306.1 607.2 1296.5 608.3 1285.5C609.4 1274.5 611.0 1261.3 612.4 1252.5C613.8 1243.7 615.0 1239.3 616.5 1232.7C618.0 1226.1 619.5 1218.1 621.5 1212.9C623.4 1207.7 625.0 1204.0 628.1 1201.4C631.1 1198.7 635.8 1197.2 639.6 1197.2C643.5 1197.2 647.6 1199.0 651.2 1201.4C654.7 1203.7 657.8 1208.0 661.1 1211.3C664.4 1214.6 667.7 1218.8 671.0 1221.2C674.3 1223.5 677.6 1224.2 680.9 1225.3C684.2 1226.4 687.9 1226.0 690.8 1227.8C693.6 1229.5 696.3 1232.7 698.2 1236.0C700.1 1239.3 700.8 1243.2 702.3 1247.6C703.8 1252.0 705.3 1257.5 707.3 1262.4C709.2 1267.4 711.9 1272.6 713.9 1277.3C715.8 1281.9 717.2 1286.1 718.8 1290.5C720.5 1294.9 721.8 1300.4 723.8 1303.7C725.7 1307.0 727.9 1309.4 730.4 1310.3C732.8 1311.1 736.1 1309.9 738.6 1308.6C741.1 1307.4 743.0 1303.9 745.2 1302.8C747.4 1301.7 750.2 1300.8 751.8 1302.0C753.5 1303.3 754.4 1306.1 755.1 1310.3C755.8 1314.4 755.4 1321.3 755.9 1326.8C756.5 1332.3 758.3 1338.6 758.4 1343.3C758.6 1347.9 757.9 1351.5 756.8 1354.8C755.7 1358.1 754.0 1361.3 751.8 1363.1C749.6 1364.9 746.6 1365.7 743.6 1365.5C740.5 1365.4 737.0 1362.5 733.7 1362.2C730.4 1362.0 727.1 1362.7 723.8 1363.9C720.5 1365.1 716.9 1367.3 713.9 1369.7C710.8 1372.0 708.6 1375.6 705.6 1377.9C702.6 1380.3 700.1 1382.3 695.7 1383.7C691.3 1385.1 684.7 1385.6 679.2 1386.2C673.7 1386.7 668.2 1386.7 662.7 1387.0C657.2 1387.3 651.7 1387.7 646.2 1387.8C640.7 1388.0 634.4 1388.4 629.7 1387.8C625.0 1387.3 621.5 1386.4 618.2 1384.5C614.9 1382.6 612.0 1379.0 609.9 1376.3C607.8 1373.5 606.6 1370.8 605.8 1368.0C605.0 1365.3 605.0 1368.0 605.0 1359.8Z" fill="none" stroke="#303030" stroke-opacity="0.95" stroke-width="3.2" stroke-linejoin="round"/>
<path d="M619.0 1359.8C618.6 1354.3 619.1 1343.3 619.8 1335.0C620.5 1326.8 621.9 1318.0 623.1 1310.3C624.3 1302.6 625.6 1293.8 627.2 1288.8C628.9 1283.9 630.7 1281.9 633.0 1280.6C635.3 1279.2 638.5 1279.5 641.3 1280.6C644.0 1281.7 646.5 1285.5 649.5 1287.2C652.5 1288.8 656.4 1288.8 659.4 1290.5C662.4 1292.1 665.2 1294.0 667.7 1297.1C670.1 1300.1 672.1 1304.5 674.3 1308.6C676.5 1312.7 678.7 1317.7 680.9 1321.8C683.1 1325.9 685.4 1329.8 687.5 1333.4C689.5 1336.9 692.1 1340.0 693.2 1343.3C694.3 1346.6 694.7 1350.1 694.1 1353.2C693.4 1356.2 691.6 1359.2 689.1 1361.4C686.6 1363.6 683.1 1364.9 679.2 1366.4C675.4 1367.9 670.4 1369.7 666.0 1370.5C661.6 1371.3 656.9 1371.3 652.8 1371.3C648.7 1371.3 645.1 1370.4 641.3 1370.5C637.4 1370.6 632.9 1372.6 629.7 1372.1C626.5 1371.7 624.1 1370.1 622.3 1368.0C620.5 1366.0 619.4 1365.3 619.0 1359.8Z" fill="none" stroke="#303030" stroke-opacity="0.95" stroke-width="3.2" stroke-linejoin="round"/>
<path d="M624.8 1343.3C624.8 1338.6 626.1 1331.2 627.2 1326.8C628.3 1322.4 629.3 1318.9 631.4 1316.9C633.4 1314.8 636.6 1314.5 639.6 1314.4C642.6 1314.3 646.5 1315.6 649.5 1316.0C652.5 1316.5 655.3 1315.9 657.8 1316.9C660.2 1317.8 662.4 1319.3 664.4 1321.8C666.3 1324.3 668.1 1328.4 669.3 1331.7C670.5 1335.0 671.5 1338.3 671.8 1341.6C672.1 1344.9 671.9 1348.5 671.0 1351.5C670.0 1354.5 668.2 1358.0 666.0 1359.8C663.8 1361.6 660.5 1362.0 657.8 1362.2C655.0 1362.5 652.3 1362.1 649.5 1361.4C646.8 1360.7 644.0 1358.5 641.3 1358.1C638.5 1357.7 635.3 1359.5 633.0 1358.9C630.7 1358.4 628.6 1357.4 627.2 1354.8C625.9 1352.2 624.8 1347.9 624.8 1343.3Z" fill="none" stroke="#303030" stroke-opacity="0.95" stroke-width="3.2" stroke-linejoin="round"/>
<path d="M914.1 1340.0C914.1 1333.9 914.5 1326.8 915.4 1321.8C916.3 1316.9 917.9 1312.9 919.5 1310.3C921.2 1307.7 923.4 1306.1 925.3 1306.1C927.2 1306.1 929.4 1307.7 931.1 1310.3C932.7 1312.9 934.3 1316.9 935.2 1321.8C936.1 1326.8 936.5 1333.9 936.5 1340.0C936.5 1346.0 936.1 1353.2 935.2 1358.1C934.3 1363.1 932.7 1367.1 931.1 1369.7C929.4 1372.3 927.2 1373.8 925.3 1373.8C923.4 1373.8 921.2 1372.3 919.5 1369.7C917.9 1367.1 916.3 1363.1 915.4 1358.1C914.5 1353.2 914.1 1346.0 914.1 1340.0Z" fill="none" stroke="#303030" stroke-opacity="0.95" stroke-width="3.2" stroke-linejoin="round"/>
<path d="M144.5 29.0V472.5H571.5M189.5 472.5v12.3M322.0 472.5v12.3M451.7 472.5v12.3M144.5 68.8h-9.6M144.5 145.1h-9.6M144.5 218.3h-9.6M144.5 291.5h-9.6M144.5 365.3h-9.6M144.5 438.9h-9.6" fill="none" stroke="#262626" stroke-width="2.8" stroke-linejoin="miter"/>
<path d="M601.0 29.0V472.5H1027.0M626.6 472.5v12.3M719.5 472.5v12.3M814.8 472.5v12.3M910.7 472.5v12.3M1006.6 472.5v12.3M601.0 68.8h-9.6M601.0 145.1h-9.6M601.0 218.3h-9.6M601.0 291.5h-9.6M601.0 365.3h-9.6M601.0 438.9h-9.6" fill="none" stroke="#262626" stroke-width="2.8" stroke-linejoin="miter"/>
<path d="M1055.0 29.0V472.5H1484.0M1075.0 472.5v12.3M1193.0 472.5v12.3M1308.0 472.5v12.3M1424.4 472.5v12.3M1055.0 68.8h-9.6M1055.0 145.1h-9.6M1055.0 218.3h-9.6M1055.0 291.5h-9.6M1055.0 365.3h-9.6M1055.0 438.9h-9.6" fill="none" stroke="#262626" stroke-width="2.8" stroke-linejoin="miter"/>
<path d="M144.5 494.8V938.0H571.5M189.5 938.0v12.3M322.0 938.0v12.3M451.7 938.0v12.3M144.5 517.9h-9.6M144.5 616.2h-9.6M144.5 715.2h-9.6M144.5 814.2h-9.6M144.5 913.2h-9.6" fill="none" stroke="#262626" stroke-width="2.8" stroke-linejoin="miter"/>
<path d="M601.0 494.8V938.0H1027.0M626.6 938.0v12.3M719.5 938.0v12.3M814.8 938.0v12.3M910.7 938.0v12.3M1006.6 938.0v12.3M601.0 517.9h-9.6M601.0 616.2h-9.6M601.0 715.2h-9.6M601.0 814.2h-9.6M601.0 913.2h-9.6" fill="none" stroke="#262626" stroke-width="2.8" stroke-linejoin="miter"/>
<path d="M1055.0 494.8V938.0H1484.0M1075.0 938.0v12.3M1193.0 938.0v12.3M1308.0 938.0v12.3M1424.4 938.0v12.3M1055.0 517.9h-9.6M1055.0 616.2h-9.6M1055.0 715.2h-9.6M1055.0 814.2h-9.6M1055.0 913.2h-9.6" fill="none" stroke="#262626" stroke-width="2.8" stroke-linejoin="miter"/>
<path d="M144.5 964.8V1407.0H571.5M189.5 1407.0v12.3M322.0 1407.0v12.3M451.7 1407.0v12.3M144.5 1025.8h-9.6M144.5 1144.6h-9.6M144.5 1266.0h-9.6M144.5 1384.9h-9.6" fill="none" stroke="#262626" stroke-width="2.8" stroke-linejoin="miter"/>
<path d="M601.0 964.8V1407.0H1027.0M626.6 1407.0v12.3M719.5 1407.0v12.3M814.8 1407.0v12.3M910.7 1407.0v12.3M1006.6 1407.0v12.3M601.0 1025.8h-9.6M601.0 1144.6h-9.6M601.0 1266.0h-9.6M601.0 1384.9h-9.6" fill="none" stroke="#262626" stroke-width="2.8" stroke-linejoin="miter"/>
<path d="M1055.0 964.8V1407.0H1484.0M1075.0 1407.0v12.3M1193.0 1407.0v12.3M1308.0 1407.0v12.3M1424.4 1407.0v12.3M1055.0 1025.8h-9.6M1055.0 1144.6h-9.6M1055.0 1266.0h-9.6M1055.0 1384.9h-9.6" fill="none" stroke="#262626" stroke-width="2.8" stroke-linejoin="miter"/>
<text class="t" x="121.7" y="81.0" text-anchor="end">22.5</text>
<text class="t" x="121.7" y="154.8" text-anchor="end">20.0</text>
<text class="t" x="119.5" y="228.3" text-anchor="end">17.5</text>
<text class="t" x="119.3" y="302.2" text-anchor="end">15.0</text>
<text class="t" x="119.4" y="377.9" text-anchor="end">12.5</text>
<text class="t" x="122.2" y="451.1" text-anchor="end">10.0</text>
<text transform="translate(41.0 252.7) rotate(-90)" text-anchor="middle">SNR (dB)</text>
<text class="t" x="121.7" y="527.6" text-anchor="end">40</text>
<text class="t" x="121.7" y="625.9" text-anchor="end">30</text>
<text class="t" x="122.2" y="724.9" text-anchor="end">20</text>
<text class="t" x="119.2" y="823.9" text-anchor="end">10</text>
<text class="t" x="123.5" y="925.8" text-anchor="end">0</text>
<text transform="translate(66.0 721.6) rotate(-90)" text-anchor="middle">Delay Spread (ms)</text>
<text class="t" x="119.5" y="1037.5" text-anchor="end">0.3</text>
<text class="t" x="119.5" y="1156.8" text-anchor="end">0.2</text>
<text class="t" x="119.5" y="1276.5" text-anchor="end">0.1</text>
<text class="t" x="119.5" y="1396.6" text-anchor="end">0.0</text>
<text transform="translate(60.0 1190.8) rotate(-90)" text-anchor="middle">BER</text>
<text class="t" x="187.5" y="1447.6" text-anchor="middle">10</text>
<text class="t" x="317.9" y="1447.6" text-anchor="middle">15</text>
<text class="t" x="449.3" y="1447.6" text-anchor="middle">20</text>
<text x="355.0" y="1490.3" text-anchor="middle">SNR (dB)</text>
<text class="t" x="625.8" y="1447.6" text-anchor="middle">0</text>
<text class="t" x="717.7" y="1447.6" text-anchor="middle">10</text>
<text class="t" x="816.5" y="1447.6" text-anchor="middle">20</text>
<text class="t" x="911.7" y="1447.6" text-anchor="middle">30</text>
<text class="t" x="1005.1" y="1447.6" text-anchor="middle">40</text>
<text x="812.0" y="1487.5" text-anchor="middle">Delay Spread (ms)</text>
<text class="t" x="1074.2" y="1447.6" text-anchor="middle">0.0</text>
<text class="t" x="1189.2" y="1447.6" text-anchor="middle">0.1</text>
<text class="t" x="1308.2" y="1447.6" text-anchor="middle">0.2</text>
<text class="t" x="1424.1" y="1447.6" text-anchor="middle">0.3</text>
<text x="1268.5" y="1487.8" text-anchor="middle">BER</text>
</svg>
</body></html>
